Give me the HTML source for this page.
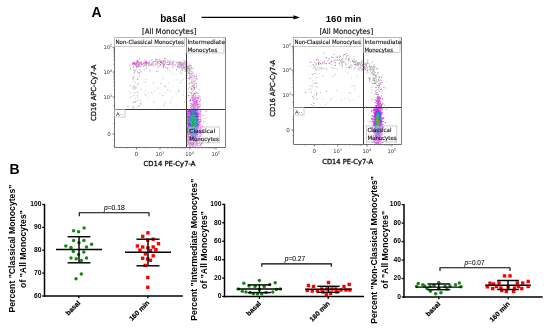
<!DOCTYPE html>
<html><head><meta charset="utf-8"><title>Monocyte subsets</title>
<style>html,body{margin:0;padding:0;background:#fff;} body{width:550px;height:328px;overflow:hidden;} svg{display:block;}</style>
</head><body>
<svg width="550" height="328" viewBox="0 0 550 328">
<rect width="550" height="328" fill="#fff"/>
<text x="91.6" y="17.2" font-size="14" font-weight="bold" text-anchor="start" fill="#000" font-family='"Liberation Sans", Arial, sans-serif' >A</text>
<text x="160.3" y="21.9" font-size="10" font-weight="bold" text-anchor="start" fill="#000" font-family='"Liberation Sans", Arial, sans-serif' textLength="25.4" lengthAdjust="spacingAndGlyphs" >basal</text>
<line x1="201.5" y1="17.4" x2="296" y2="17.4" stroke="#000" stroke-width="1.1" />
<path d="M300,17.4 L293.5,15.2 L293.5,19.6 Z" fill="#000"/>
<text x="325.8" y="21.8" font-size="9.8" font-weight="bold" text-anchor="start" fill="#000" font-family='"Liberation Sans", Arial, sans-serif' textLength="35.6" lengthAdjust="spacingAndGlyphs" >160 min</text>
<text x="141.9" y="33.8" font-size="7.7" font-weight="normal" text-anchor="start" fill="#1a1a1a" font-family='"DejaVu Sans", "Liberation Sans", Arial, sans-serif' textLength="54.5" lengthAdjust="spacingAndGlyphs" stroke="#1a1a1a" stroke-width="0.2">[All Monocytes]</text>
<text x="319.4" y="33.8" font-size="7.7" font-weight="normal" text-anchor="start" fill="#1a1a1a" font-family='"DejaVu Sans", "Liberation Sans", Arial, sans-serif' textLength="53.8" lengthAdjust="spacingAndGlyphs" stroke="#1a1a1a" stroke-width="0.2">[All Monocytes]</text>
<rect x="114.5" y="37.5" width="111.0" height="110.0" fill="#fff" stroke="none" stroke-width="1" />
<path fill="#e698e6" d="M159.3 58.6h1.0v1.0h-1.0zM180.0 62.8h1.0v1.0h-1.0zM169.9 61.5h1.0v1.0h-1.0zM162.5 60.2h1.0v1.0h-1.0zM147.5 61.3h1.0v1.0h-1.0zM155.8 62.4h1.0v1.0h-1.0zM140.7 65.4h1.0v1.0h-1.0zM172.3 63.8h1.0v1.0h-1.0zM167.3 61.8h1.0v1.0h-1.0zM140.7 65.7h1.0v1.0h-1.0zM154.4 61.1h1.0v1.0h-1.0zM178.0 61.5h1.0v1.0h-1.0zM153.0 65.4h1.0v1.0h-1.0zM177.5 63.5h1.0v1.0h-1.0zM151.7 62.0h1.0v1.0h-1.0zM148.5 63.4h1.0v1.0h-1.0zM164.4 62.1h1.0v1.0h-1.0zM190.9 74.4h1.0v1.0h-1.0zM186.6 66.5h1.0v1.0h-1.0zM193.5 77.7h1.0v1.0h-1.0zM191.1 71.1h1.0v1.0h-1.0zM178.3 64.5h1.0v1.0h-1.0zM191.5 71.6h1.0v1.0h-1.0zM177.8 63.8h1.0v1.0h-1.0zM193.9 87.3h1.0v1.0h-1.0zM196.9 108.3h1.0v1.0h-1.0zM192.6 86.4h1.0v1.0h-1.0zM188.0 77.6h1.0v1.0h-1.0zM198.0 106.8h1.0v1.0h-1.0zM179.9 61.2h1.0v1.0h-1.0zM190.5 88.4h1.0v1.0h-1.0zM189.6 76.6h1.0v1.0h-1.0zM194.5 81.3h1.0v1.0h-1.0zM183.2 67.9h1.0v1.0h-1.0zM180.8 65.8h1.0v1.0h-1.0zM188.8 66.4h1.0v1.0h-1.0zM194.5 83.0h1.0v1.0h-1.0zM191.1 88.1h1.0v1.0h-1.0zM193.5 85.6h1.0v1.0h-1.0zM183.4 67.5h1.0v1.0h-1.0z"/>
<path fill="#e2a0e2" d="M160.6 61.7h1.0v1.0h-1.0zM186.8 67.2h1.0v1.0h-1.0zM179.6 66.5h1.0v1.0h-1.0zM136.2 63.7h1.0v1.0h-1.0zM181.2 62.7h1.0v1.0h-1.0zM156.7 63.8h1.0v1.0h-1.0zM184.4 60.5h1.0v1.0h-1.0zM163.9 64.3h1.0v1.0h-1.0zM146.0 66.9h1.0v1.0h-1.0zM145.5 61.1h1.0v1.0h-1.0zM162.6 60.7h1.0v1.0h-1.0zM164.5 60.5h1.0v1.0h-1.0zM163.1 65.6h1.0v1.0h-1.0zM157.4 65.4h1.0v1.0h-1.0zM154.7 63.8h1.0v1.0h-1.0zM157.6 60.8h1.0v1.0h-1.0zM180.3 66.5h1.0v1.0h-1.0zM176.6 62.2h1.0v1.0h-1.0zM181.8 67.6h1.0v1.0h-1.0zM162.7 65.1h1.0v1.0h-1.0zM164.8 62.4h1.0v1.0h-1.0zM185.5 67.0h1.0v1.0h-1.0zM193.3 93.1h1.0v1.0h-1.0zM192.5 79.0h1.0v1.0h-1.0zM191.1 81.9h1.0v1.0h-1.0zM189.1 70.2h1.0v1.0h-1.0zM187.9 65.7h1.0v1.0h-1.0zM195.9 87.5h1.0v1.0h-1.0zM181.1 67.2h1.0v1.0h-1.0zM193.0 94.5h1.0v1.0h-1.0zM178.6 67.0h1.0v1.0h-1.0zM179.6 61.8h1.0v1.0h-1.0zM199.6 96.1h1.0v1.0h-1.0zM182.6 66.5h1.0v1.0h-1.0zM187.9 68.2h1.0v1.0h-1.0zM191.3 86.1h1.0v1.0h-1.0zM178.2 63.7h1.0v1.0h-1.0zM193.3 86.5h1.0v1.0h-1.0zM189.3 75.9h1.0v1.0h-1.0zM188.7 69.5h1.0v1.0h-1.0zM196.0 82.9h1.0v1.0h-1.0zM185.9 75.0h1.0v1.0h-1.0zM189.0 74.7h1.0v1.0h-1.0zM186.0 66.6h1.0v1.0h-1.0zM182.9 59.9h1.0v1.0h-1.0zM188.3 91.7h1.0v1.0h-1.0zM187.3 72.7h1.0v1.0h-1.0zM179.5 67.0h1.0v1.0h-1.0zM192.3 81.9h1.0v1.0h-1.0zM186.0 66.7h1.0v1.0h-1.0zM191.4 92.7h1.0v1.0h-1.0zM195.4 108.6h1.0v1.0h-1.0zM185.2 65.0h1.0v1.0h-1.0z"/>
<path fill="#a0a0a0" d="M137.9 62.8h1.0v1.0h-1.0zM168.3 64.3h1.0v1.0h-1.0zM140.8 63.6h1.0v1.0h-1.0zM157.5 61.2h1.0v1.0h-1.0zM186.9 66.8h1.0v1.0h-1.0zM184.1 66.6h1.0v1.0h-1.0zM165.0 60.6h1.0v1.0h-1.0zM137.5 62.9h1.0v1.0h-1.0zM137.4 61.2h1.0v1.0h-1.0zM151.4 63.0h1.0v1.0h-1.0zM177.1 67.0h1.0v1.0h-1.0zM159.0 60.7h1.0v1.0h-1.0zM148.3 62.1h1.0v1.0h-1.0zM144.7 61.7h1.0v1.0h-1.0zM138.4 65.8h1.0v1.0h-1.0zM145.7 60.4h1.0v1.0h-1.0zM145.0 64.8h1.0v1.0h-1.0zM164.2 63.7h1.0v1.0h-1.0zM168.0 63.9h1.0v1.0h-1.0zM171.6 62.6h1.0v1.0h-1.0zM144.9 61.2h1.0v1.0h-1.0zM160.2 64.4h1.0v1.0h-1.0zM164.5 57.9h1.0v1.0h-1.0zM169.1 62.9h1.0v1.0h-1.0zM133.1 64.4h1.0v1.0h-1.0zM148.0 64.6h1.0v1.0h-1.0zM159.9 63.9h1.0v1.0h-1.0zM137.4 66.3h1.0v1.0h-1.0zM136.0 61.8h1.0v1.0h-1.0zM182.9 61.9h1.0v1.0h-1.0zM185.0 63.7h1.0v1.0h-1.0zM186.1 63.3h1.0v1.0h-1.0zM182.4 63.4h1.0v1.0h-1.0zM144.0 62.2h1.0v1.0h-1.0zM185.9 76.5h1.0v1.0h-1.0zM172.6 62.8h1.0v1.0h-1.0zM187.9 66.4h1.0v1.0h-1.0zM194.0 92.4h1.0v1.0h-1.0zM190.2 105.0h1.0v1.0h-1.0zM192.5 72.6h1.0v1.0h-1.0zM195.8 78.7h1.0v1.0h-1.0zM180.8 64.3h1.0v1.0h-1.0zM181.6 64.6h1.0v1.0h-1.0zM186.9 66.8h1.0v1.0h-1.0zM191.2 111.0h1.0v1.0h-1.0zM195.9 76.1h1.0v1.0h-1.0zM180.5 66.1h1.0v1.0h-1.0zM182.9 64.6h1.0v1.0h-1.0zM194.5 86.9h1.0v1.0h-1.0zM185.6 69.4h1.0v1.0h-1.0zM194.4 103.5h1.0v1.0h-1.0zM192.3 97.0h1.0v1.0h-1.0zM194.3 84.9h1.0v1.0h-1.0zM196.6 96.9h1.0v1.0h-1.0zM173.3 61.3h1.0v1.0h-1.0zM178.9 64.6h1.0v1.0h-1.0zM200.0 105.8h1.0v1.0h-1.0zM193.3 94.6h1.0v1.0h-1.0zM188.2 66.6h1.0v1.0h-1.0zM196.2 113.1h1.0v1.0h-1.0zM194.9 96.5h1.0v1.0h-1.0zM193.2 108.0h1.0v1.0h-1.0zM190.0 64.7h1.0v1.0h-1.0zM185.6 70.8h1.0v1.0h-1.0zM191.0 67.1h1.0v1.0h-1.0zM189.2 87.1h1.0v1.0h-1.0zM191.2 67.1h1.0v1.0h-1.0zM193.7 93.6h1.0v1.0h-1.0zM193.9 77.1h1.0v1.0h-1.0zM193.6 80.3h1.0v1.0h-1.0zM187.2 70.5h1.0v1.0h-1.0zM179.5 66.1h1.0v1.0h-1.0zM179.7 65.8h1.0v1.0h-1.0zM195.9 74.4h1.0v1.0h-1.0zM194.5 103.2h1.0v1.0h-1.0zM186.4 68.5h1.0v1.0h-1.0zM132.5 87.4h1.0v1.0h-1.0zM132.9 69.4h1.0v1.0h-1.0zM130.3 96.6h1.0v1.0h-1.0zM138.2 72.0h1.0v1.0h-1.0zM134.4 70.6h1.0v1.0h-1.0zM138.6 105.1h1.0v1.0h-1.0zM129.8 85.5h1.0v1.0h-1.0z"/>
<path fill="#b5b5b5" d="M166.9 61.3h1.0v1.0h-1.0zM152.3 64.0h1.0v1.0h-1.0zM162.3 61.6h1.0v1.0h-1.0zM143.9 65.4h1.0v1.0h-1.0zM187.0 67.7h1.0v1.0h-1.0zM148.3 64.4h1.0v1.0h-1.0zM147.9 64.2h1.0v1.0h-1.0zM169.6 64.0h1.0v1.0h-1.0zM164.0 64.9h1.0v1.0h-1.0zM156.1 61.9h1.0v1.0h-1.0zM159.9 61.0h1.0v1.0h-1.0zM177.2 64.8h1.0v1.0h-1.0zM158.6 62.8h1.0v1.0h-1.0zM184.8 63.2h1.0v1.0h-1.0zM157.2 58.9h1.0v1.0h-1.0zM179.8 62.6h1.0v1.0h-1.0zM167.3 59.5h1.0v1.0h-1.0zM138.3 64.5h1.0v1.0h-1.0zM181.0 68.3h1.0v1.0h-1.0zM176.1 62.3h1.0v1.0h-1.0zM149.4 60.4h1.0v1.0h-1.0zM168.8 61.2h1.0v1.0h-1.0zM151.8 59.1h1.0v1.0h-1.0zM169.6 61.8h1.0v1.0h-1.0zM146.0 63.2h1.0v1.0h-1.0zM172.9 60.6h1.0v1.0h-1.0zM157.3 62.8h1.0v1.0h-1.0zM178.3 65.0h1.0v1.0h-1.0zM165.2 62.6h1.0v1.0h-1.0zM138.0 64.1h1.0v1.0h-1.0zM183.2 62.9h1.0v1.0h-1.0zM162.6 61.6h1.0v1.0h-1.0zM148.9 64.3h1.0v1.0h-1.0zM150.2 63.8h1.0v1.0h-1.0zM159.4 59.9h1.0v1.0h-1.0zM178.1 61.8h1.0v1.0h-1.0zM185.4 67.7h1.0v1.0h-1.0zM194.4 74.5h1.0v1.0h-1.0zM189.0 83.3h1.0v1.0h-1.0zM196.3 95.4h1.0v1.0h-1.0zM189.5 70.0h1.0v1.0h-1.0zM187.8 68.1h1.0v1.0h-1.0zM191.2 83.1h1.0v1.0h-1.0zM185.6 65.9h1.0v1.0h-1.0zM177.0 65.9h1.0v1.0h-1.0zM197.2 99.4h1.0v1.0h-1.0zM194.9 94.8h1.0v1.0h-1.0zM194.9 107.3h1.0v1.0h-1.0zM183.3 64.2h1.0v1.0h-1.0zM179.0 64.8h1.0v1.0h-1.0zM187.0 68.9h1.0v1.0h-1.0zM186.1 66.3h1.0v1.0h-1.0zM181.0 63.5h1.0v1.0h-1.0zM182.1 65.6h1.0v1.0h-1.0zM182.9 63.3h1.0v1.0h-1.0zM187.4 71.0h1.0v1.0h-1.0zM184.6 70.8h1.0v1.0h-1.0zM192.9 74.9h1.0v1.0h-1.0zM183.3 66.9h1.0v1.0h-1.0zM180.3 65.6h1.0v1.0h-1.0zM184.3 61.2h1.0v1.0h-1.0zM191.0 65.3h1.0v1.0h-1.0zM195.8 100.7h1.0v1.0h-1.0zM193.0 99.5h1.0v1.0h-1.0zM194.0 101.3h1.0v1.0h-1.0zM194.7 98.0h1.0v1.0h-1.0zM182.4 63.8h1.0v1.0h-1.0zM191.9 75.5h1.0v1.0h-1.0zM193.0 87.0h1.0v1.0h-1.0zM192.5 84.8h1.0v1.0h-1.0zM186.5 74.7h1.0v1.0h-1.0zM188.8 69.3h1.0v1.0h-1.0zM181.6 64.5h1.0v1.0h-1.0zM184.5 68.9h1.0v1.0h-1.0zM183.5 65.3h1.0v1.0h-1.0zM138.4 82.9h1.0v1.0h-1.0zM136.8 100.3h1.0v1.0h-1.0zM132.6 105.4h1.0v1.0h-1.0zM133.4 69.2h1.0v1.0h-1.0zM137.0 84.2h1.0v1.0h-1.0zM133.2 94.9h1.0v1.0h-1.0zM134.7 70.2h1.0v1.0h-1.0z"/>
<path fill="#d884d8" d="M135.7 64.4h1.0v1.0h-1.0zM134.4 64.2h1.0v1.0h-1.0zM162.5 62.6h1.0v1.0h-1.0zM162.9 67.5h1.0v1.0h-1.0zM172.8 64.9h1.0v1.0h-1.0zM171.4 61.3h1.0v1.0h-1.0zM137.6 66.4h1.0v1.0h-1.0zM163.1 64.1h1.0v1.0h-1.0zM151.1 64.2h1.0v1.0h-1.0zM149.0 61.8h1.0v1.0h-1.0zM163.2 62.9h1.0v1.0h-1.0zM140.7 63.3h1.0v1.0h-1.0zM140.8 63.0h1.0v1.0h-1.0zM149.6 65.1h1.0v1.0h-1.0zM139.0 58.2h1.0v1.0h-1.0zM184.3 68.8h1.0v1.0h-1.0zM182.5 66.2h1.0v1.0h-1.0zM179.9 62.7h1.0v1.0h-1.0zM137.3 63.3h1.0v1.0h-1.0zM174.6 63.9h1.0v1.0h-1.0zM155.1 61.1h1.0v1.0h-1.0zM173.4 61.9h1.0v1.0h-1.0zM143.7 63.7h1.0v1.0h-1.0zM167.9 61.0h1.0v1.0h-1.0zM160.1 60.2h1.0v1.0h-1.0zM186.0 66.3h1.0v1.0h-1.0zM198.5 105.4h1.0v1.0h-1.0zM191.8 91.0h1.0v1.0h-1.0zM183.7 65.2h1.0v1.0h-1.0zM187.2 66.3h1.0v1.0h-1.0zM189.6 68.9h1.0v1.0h-1.0zM182.9 63.9h1.0v1.0h-1.0zM186.3 66.5h1.0v1.0h-1.0zM186.0 66.3h1.0v1.0h-1.0zM186.3 67.7h1.0v1.0h-1.0zM188.3 67.3h1.0v1.0h-1.0zM183.7 63.1h1.0v1.0h-1.0zM182.1 62.7h1.0v1.0h-1.0zM191.4 75.7h1.0v1.0h-1.0zM192.8 89.7h1.0v1.0h-1.0zM190.0 67.7h1.0v1.0h-1.0zM186.6 65.8h1.0v1.0h-1.0zM188.3 64.7h1.0v1.0h-1.0zM186.0 75.8h1.0v1.0h-1.0zM188.8 83.2h1.0v1.0h-1.0zM195.7 78.1h1.0v1.0h-1.0zM192.5 68.0h1.0v1.0h-1.0zM191.1 92.4h1.0v1.0h-1.0z"/>
<path fill="#8e8e8e" d="M162.9 61.3h1.0v1.0h-1.0zM183.5 66.7h1.0v1.0h-1.0zM135.7 64.2h1.0v1.0h-1.0zM161.0 61.6h1.0v1.0h-1.0zM172.3 63.8h1.0v1.0h-1.0zM180.4 64.6h1.0v1.0h-1.0zM161.7 62.9h1.0v1.0h-1.0zM160.3 62.2h1.0v1.0h-1.0zM155.5 59.8h1.0v1.0h-1.0zM146.0 64.6h1.0v1.0h-1.0zM160.3 64.2h1.0v1.0h-1.0zM167.4 67.9h1.0v1.0h-1.0zM161.4 62.4h1.0v1.0h-1.0zM183.2 64.3h1.0v1.0h-1.0zM132.9 63.1h1.0v1.0h-1.0zM160.1 62.0h1.0v1.0h-1.0zM153.0 61.3h1.0v1.0h-1.0zM155.7 58.5h1.0v1.0h-1.0zM179.1 61.8h1.0v1.0h-1.0zM165.5 66.8h1.0v1.0h-1.0zM163.5 60.6h1.0v1.0h-1.0zM164.2 58.3h1.0v1.0h-1.0zM177.5 65.9h1.0v1.0h-1.0zM158.7 65.6h1.0v1.0h-1.0zM143.2 63.2h1.0v1.0h-1.0zM182.9 63.5h1.0v1.0h-1.0zM166.4 64.0h1.0v1.0h-1.0zM144.5 61.7h1.0v1.0h-1.0zM141.2 63.9h1.0v1.0h-1.0zM144.9 62.8h1.0v1.0h-1.0zM151.3 64.6h1.0v1.0h-1.0zM190.6 92.8h1.0v1.0h-1.0zM189.2 70.4h1.0v1.0h-1.0zM188.7 77.9h1.0v1.0h-1.0zM188.5 68.1h1.0v1.0h-1.0zM193.5 87.4h1.0v1.0h-1.0zM191.4 77.2h1.0v1.0h-1.0zM196.3 100.4h1.0v1.0h-1.0zM189.1 65.8h1.0v1.0h-1.0zM183.8 68.2h1.0v1.0h-1.0zM186.9 69.7h1.0v1.0h-1.0zM193.9 88.8h1.0v1.0h-1.0zM182.4 63.4h1.0v1.0h-1.0zM190.5 77.0h1.0v1.0h-1.0zM186.1 75.0h1.0v1.0h-1.0zM181.8 68.6h1.0v1.0h-1.0zM189.3 76.8h1.0v1.0h-1.0zM196.0 85.8h1.0v1.0h-1.0zM191.6 73.2h1.0v1.0h-1.0zM191.1 88.8h1.0v1.0h-1.0zM188.3 72.1h1.0v1.0h-1.0zM190.2 73.3h1.0v1.0h-1.0zM194.1 92.9h1.0v1.0h-1.0zM187.5 67.7h1.0v1.0h-1.0zM192.1 85.8h1.0v1.0h-1.0zM188.9 73.0h1.0v1.0h-1.0zM191.1 87.8h1.0v1.0h-1.0zM188.9 78.6h1.0v1.0h-1.0zM193.3 103.8h1.0v1.0h-1.0zM196.4 92.1h1.0v1.0h-1.0zM186.3 66.2h1.0v1.0h-1.0zM183.7 64.9h1.0v1.0h-1.0zM181.0 64.4h1.0v1.0h-1.0zM188.8 72.4h1.0v1.0h-1.0zM192.8 94.6h1.0v1.0h-1.0zM185.3 65.6h1.0v1.0h-1.0zM186.5 68.4h1.0v1.0h-1.0zM176.1 69.2h1.0v1.0h-1.0zM189.0 75.5h1.0v1.0h-1.0zM192.6 85.1h1.0v1.0h-1.0zM193.8 83.7h1.0v1.0h-1.0zM133.1 66.5h1.0v1.0h-1.0zM132.9 101.8h1.0v1.0h-1.0zM132.5 78.2h1.0v1.0h-1.0zM133.4 86.3h1.0v1.0h-1.0zM129.8 67.9h1.0v1.0h-1.0zM127.5 106.0h1.0v1.0h-1.0zM133.8 72.3h1.0v1.0h-1.0zM140.3 103.2h1.0v1.0h-1.0zM137.2 78.9h1.0v1.0h-1.0zM138.8 72.6h1.0v1.0h-1.0zM133.2 76.2h1.0v1.0h-1.0zM134.6 101.4h1.0v1.0h-1.0z"/>
<path fill="#eab4ea" d="M175.6 60.8h1.0v1.0h-1.0zM152.9 62.5h1.0v1.0h-1.0zM148.4 63.0h1.0v1.0h-1.0zM157.6 67.0h1.0v1.0h-1.0zM157.1 62.0h1.0v1.0h-1.0zM170.0 62.3h1.0v1.0h-1.0zM155.3 63.3h1.0v1.0h-1.0zM140.8 65.0h1.0v1.0h-1.0zM180.0 63.6h1.0v1.0h-1.0zM134.0 63.0h1.0v1.0h-1.0zM133.8 63.7h1.0v1.0h-1.0zM162.0 62.2h1.0v1.0h-1.0zM183.5 66.1h1.0v1.0h-1.0zM154.8 64.9h1.0v1.0h-1.0zM156.5 63.8h1.0v1.0h-1.0zM177.8 63.6h1.0v1.0h-1.0zM152.8 62.5h1.0v1.0h-1.0zM182.8 64.8h1.0v1.0h-1.0zM166.7 64.1h1.0v1.0h-1.0zM167.2 67.1h1.0v1.0h-1.0zM179.2 65.3h1.0v1.0h-1.0zM182.6 66.3h1.0v1.0h-1.0zM187.4 78.0h1.0v1.0h-1.0zM186.5 62.1h1.0v1.0h-1.0zM192.5 95.6h1.0v1.0h-1.0zM183.0 65.3h1.0v1.0h-1.0zM185.9 58.5h1.0v1.0h-1.0zM197.4 98.1h1.0v1.0h-1.0zM195.6 96.6h1.0v1.0h-1.0zM191.5 85.7h1.0v1.0h-1.0zM186.2 67.8h1.0v1.0h-1.0zM186.4 63.5h1.0v1.0h-1.0zM197.3 105.7h1.0v1.0h-1.0zM194.6 82.7h1.0v1.0h-1.0zM188.7 66.3h1.0v1.0h-1.0zM191.2 75.8h1.0v1.0h-1.0zM193.0 84.7h1.0v1.0h-1.0zM194.1 75.8h1.0v1.0h-1.0zM179.6 65.3h1.0v1.0h-1.0zM187.6 66.9h1.0v1.0h-1.0zM188.3 72.7h1.0v1.0h-1.0zM198.7 104.5h1.0v1.0h-1.0zM177.5 64.8h1.0v1.0h-1.0zM186.8 68.3h1.0v1.0h-1.0z"/>
<path fill="#c4c4c4" d="M136.6 64.4h1.0v1.0h-1.0zM149.1 64.0h1.0v1.0h-1.0zM178.4 67.3h1.0v1.0h-1.0zM176.9 65.1h1.0v1.0h-1.0zM186.7 65.6h1.0v1.0h-1.0zM162.8 62.9h1.0v1.0h-1.0zM152.0 62.3h1.0v1.0h-1.0zM180.8 67.4h1.0v1.0h-1.0zM155.2 59.1h1.0v1.0h-1.0zM161.8 64.3h1.0v1.0h-1.0zM146.9 62.7h1.0v1.0h-1.0zM138.2 62.0h1.0v1.0h-1.0zM139.5 62.7h1.0v1.0h-1.0zM141.6 63.8h1.0v1.0h-1.0zM162.1 60.3h1.0v1.0h-1.0zM144.0 59.8h1.0v1.0h-1.0zM146.8 63.0h1.0v1.0h-1.0zM163.3 61.6h1.0v1.0h-1.0zM163.5 61.3h1.0v1.0h-1.0zM157.4 60.4h1.0v1.0h-1.0zM176.5 62.5h1.0v1.0h-1.0zM179.0 67.7h1.0v1.0h-1.0zM161.6 65.4h1.0v1.0h-1.0zM149.8 63.8h1.0v1.0h-1.0zM179.0 63.2h1.0v1.0h-1.0zM147.7 64.2h1.0v1.0h-1.0zM149.3 64.4h1.0v1.0h-1.0zM184.5 65.7h1.0v1.0h-1.0zM169.0 62.1h1.0v1.0h-1.0zM158.3 63.3h1.0v1.0h-1.0zM183.2 62.7h1.0v1.0h-1.0zM155.2 64.1h1.0v1.0h-1.0zM178.5 63.3h1.0v1.0h-1.0zM144.8 64.2h1.0v1.0h-1.0zM152.5 63.3h1.0v1.0h-1.0zM165.0 62.5h1.0v1.0h-1.0zM190.4 69.8h1.0v1.0h-1.0zM193.2 103.8h1.0v1.0h-1.0zM186.6 68.9h1.0v1.0h-1.0zM191.5 81.1h1.0v1.0h-1.0zM188.8 82.4h1.0v1.0h-1.0zM191.2 107.7h1.0v1.0h-1.0zM179.2 65.5h1.0v1.0h-1.0zM177.1 66.6h1.0v1.0h-1.0zM194.6 80.2h1.0v1.0h-1.0zM187.6 70.2h1.0v1.0h-1.0zM189.4 66.0h1.0v1.0h-1.0zM182.7 64.3h1.0v1.0h-1.0zM181.8 65.4h1.0v1.0h-1.0zM195.3 101.8h1.0v1.0h-1.0zM193.5 98.9h1.0v1.0h-1.0zM186.4 70.5h1.0v1.0h-1.0zM191.0 73.0h1.0v1.0h-1.0zM191.5 80.9h1.0v1.0h-1.0zM197.0 78.6h1.0v1.0h-1.0zM184.1 60.8h1.0v1.0h-1.0zM182.2 65.7h1.0v1.0h-1.0zM184.8 62.0h1.0v1.0h-1.0zM181.7 64.1h1.0v1.0h-1.0zM195.1 76.0h1.0v1.0h-1.0zM184.4 67.8h1.0v1.0h-1.0zM184.0 63.2h1.0v1.0h-1.0zM193.8 109.1h1.0v1.0h-1.0zM190.7 67.8h1.0v1.0h-1.0zM186.1 73.8h1.0v1.0h-1.0zM185.5 66.4h1.0v1.0h-1.0zM180.2 66.2h1.0v1.0h-1.0zM195.4 93.3h1.0v1.0h-1.0zM189.6 72.8h1.0v1.0h-1.0zM192.0 99.5h1.0v1.0h-1.0zM192.8 88.3h1.0v1.0h-1.0zM199.0 89.5h1.0v1.0h-1.0zM181.9 70.2h1.0v1.0h-1.0zM192.8 80.0h1.0v1.0h-1.0zM133.3 88.6h1.0v1.0h-1.0zM136.9 78.4h1.0v1.0h-1.0zM133.6 107.2h1.0v1.0h-1.0zM134.7 92.0h1.0v1.0h-1.0zM138.1 105.9h1.0v1.0h-1.0zM129.0 91.0h1.0v1.0h-1.0zM134.8 97.9h1.0v1.0h-1.0zM130.1 93.2h1.0v1.0h-1.0zM140.3 71.2h1.0v1.0h-1.0zM132.6 80.8h1.0v1.0h-1.0z"/>
<path fill="#d8a8d8" d="M136.7 62.1h1.0v1.0h-1.0zM173.5 67.0h1.0v1.0h-1.0zM170.2 59.5h1.0v1.0h-1.0zM185.9 62.1h1.0v1.0h-1.0zM173.1 62.3h1.0v1.0h-1.0zM143.8 65.0h1.0v1.0h-1.0zM152.2 61.4h1.0v1.0h-1.0zM172.0 63.7h1.0v1.0h-1.0zM174.7 65.3h1.0v1.0h-1.0zM140.1 65.9h1.0v1.0h-1.0zM184.7 62.4h1.0v1.0h-1.0zM136.6 63.9h1.0v1.0h-1.0zM145.6 68.3h1.0v1.0h-1.0zM157.8 62.4h1.0v1.0h-1.0zM137.0 65.8h1.0v1.0h-1.0zM168.9 64.0h1.0v1.0h-1.0zM171.9 66.4h1.0v1.0h-1.0zM151.2 59.7h1.0v1.0h-1.0zM182.2 64.8h1.0v1.0h-1.0zM165.4 62.3h1.0v1.0h-1.0zM183.9 61.9h1.0v1.0h-1.0zM185.8 70.6h1.0v1.0h-1.0zM185.9 77.2h1.0v1.0h-1.0zM190.6 89.3h1.0v1.0h-1.0zM190.2 81.4h1.0v1.0h-1.0zM195.0 91.3h1.0v1.0h-1.0zM188.1 88.5h1.0v1.0h-1.0zM182.2 70.3h1.0v1.0h-1.0zM194.0 100.2h1.0v1.0h-1.0zM190.4 74.4h1.0v1.0h-1.0zM184.8 66.4h1.0v1.0h-1.0zM191.4 73.0h1.0v1.0h-1.0zM188.8 63.6h1.0v1.0h-1.0zM192.2 83.1h1.0v1.0h-1.0zM191.0 79.6h1.0v1.0h-1.0zM189.4 91.6h1.0v1.0h-1.0zM184.8 66.3h1.0v1.0h-1.0zM193.3 81.4h1.0v1.0h-1.0z"/>
<path fill="#efc8ef" d="M149.7 63.8h1.0v1.0h-1.0zM143.4 61.4h1.0v1.0h-1.0zM141.0 65.1h1.0v1.0h-1.0zM183.3 62.6h1.0v1.0h-1.0zM143.6 60.0h1.0v1.0h-1.0zM148.4 63.2h1.0v1.0h-1.0zM164.1 61.2h1.0v1.0h-1.0zM168.8 60.7h1.0v1.0h-1.0zM184.7 65.0h1.0v1.0h-1.0zM134.2 64.0h1.0v1.0h-1.0zM148.5 63.3h1.0v1.0h-1.0zM142.5 63.7h1.0v1.0h-1.0zM164.4 62.7h1.0v1.0h-1.0zM166.1 58.6h1.0v1.0h-1.0zM136.9 64.4h1.0v1.0h-1.0zM153.0 64.0h1.0v1.0h-1.0zM145.2 65.3h1.0v1.0h-1.0zM151.5 62.3h1.0v1.0h-1.0zM145.4 60.7h1.0v1.0h-1.0zM172.8 62.5h1.0v1.0h-1.0zM178.3 65.2h1.0v1.0h-1.0zM191.4 79.6h1.0v1.0h-1.0zM184.3 69.2h1.0v1.0h-1.0zM189.2 75.7h1.0v1.0h-1.0zM183.7 64.7h1.0v1.0h-1.0zM181.9 66.1h1.0v1.0h-1.0zM194.4 76.3h1.0v1.0h-1.0zM191.7 70.4h1.0v1.0h-1.0zM193.8 82.0h1.0v1.0h-1.0zM195.5 86.5h1.0v1.0h-1.0zM190.7 75.5h1.0v1.0h-1.0zM195.0 95.3h1.0v1.0h-1.0zM199.3 110.3h1.0v1.0h-1.0zM186.2 74.0h1.0v1.0h-1.0zM190.9 76.3h1.0v1.0h-1.0zM181.5 62.6h1.0v1.0h-1.0zM184.1 65.3h1.0v1.0h-1.0zM190.8 101.8h1.0v1.0h-1.0zM185.6 69.4h1.0v1.0h-1.0zM194.2 103.6h1.0v1.0h-1.0zM189.1 76.5h1.0v1.0h-1.0zM185.7 70.2h1.0v1.0h-1.0zM191.7 88.1h1.0v1.0h-1.0zM190.3 78.3h1.0v1.0h-1.0zM178.9 63.1h1.0v1.0h-1.0z"/>
<path fill="#d860d8" d="M134.3 64.0h1.0v1.0h-1.0zM140.7 61.6h1.0v1.0h-1.0zM179.2 63.3h1.0v1.0h-1.0zM137.4 59.6h1.0v1.0h-1.0zM135.2 63.2h1.0v1.0h-1.0zM135.5 63.6h1.0v1.0h-1.0zM129.5 64.7h1.0v1.0h-1.0zM132.2 62.5h1.0v1.0h-1.0zM142.9 65.8h1.0v1.0h-1.0zM163.3 65.9h1.0v1.0h-1.0zM180.2 63.7h1.0v1.0h-1.0zM135.5 64.2h1.0v1.0h-1.0zM132.0 62.9h1.0v1.0h-1.0zM135.4 62.6h1.0v1.0h-1.0zM146.2 63.2h1.0v1.0h-1.0zM163.0 66.4h1.0v1.0h-1.0zM145.0 63.3h1.0v1.0h-1.0zM136.6 61.3h1.0v1.0h-1.0zM136.4 60.3h1.0v1.0h-1.0zM136.8 61.1h1.0v1.0h-1.0zM194.9 101.4h1.0v1.0h-1.0zM198.4 109.3h1.0v1.0h-1.0zM194.5 97.3h1.0v1.0h-1.0zM197.8 97.1h1.0v1.0h-1.0zM195.3 101.9h1.0v1.0h-1.0zM197.8 97.7h1.0v1.0h-1.0zM194.4 97.2h1.0v1.0h-1.0zM195.6 103.0h1.0v1.0h-1.0zM193.5 106.4h1.0v1.0h-1.0zM200.0 99.2h1.0v1.0h-1.0zM194.3 109.2h1.0v1.0h-1.0zM197.5 93.3h1.0v1.0h-1.0z"/>
<path fill="#cc55cc" d="M133.9 62.6h1.0v1.0h-1.0zM136.0 66.1h1.0v1.0h-1.0zM137.7 61.4h1.0v1.0h-1.0zM147.7 62.8h1.0v1.0h-1.0zM139.0 64.8h1.0v1.0h-1.0zM134.7 63.3h1.0v1.0h-1.0zM167.5 63.8h1.0v1.0h-1.0zM139.3 62.2h1.0v1.0h-1.0zM139.4 63.6h1.0v1.0h-1.0zM134.1 61.7h1.0v1.0h-1.0zM141.4 63.7h1.0v1.0h-1.0zM141.4 62.8h1.0v1.0h-1.0zM138.2 64.5h1.0v1.0h-1.0zM160.0 61.3h1.0v1.0h-1.0zM135.7 63.1h1.0v1.0h-1.0zM146.0 62.1h1.0v1.0h-1.0zM143.5 62.1h1.0v1.0h-1.0z"/>
<path fill="#e070e0" d="M170.6 63.6h1.0v1.0h-1.0zM156.6 61.7h1.0v1.0h-1.0zM181.2 61.8h1.0v1.0h-1.0zM137.4 65.5h1.0v1.0h-1.0zM163.7 64.0h1.0v1.0h-1.0zM137.0 65.4h1.0v1.0h-1.0zM132.4 62.8h1.0v1.0h-1.0zM134.7 64.2h1.0v1.0h-1.0zM132.1 63.9h1.0v1.0h-1.0zM147.5 62.5h1.0v1.0h-1.0zM145.7 60.5h1.0v1.0h-1.0zM182.6 64.7h1.0v1.0h-1.0zM132.7 62.2h1.0v1.0h-1.0zM132.4 62.8h1.0v1.0h-1.0zM138.2 61.2h1.0v1.0h-1.0zM135.6 62.8h1.0v1.0h-1.0zM139.7 62.3h1.0v1.0h-1.0zM132.7 61.9h1.0v1.0h-1.0z"/>
<path fill="#e050e0" d="M190.0 99.1h1.0v1.0h-1.0zM196.9 104.1h1.0v1.0h-1.0zM194.3 102.3h1.0v1.0h-1.0zM192.1 98.2h1.0v1.0h-1.0zM196.4 103.6h1.0v1.0h-1.0zM194.8 98.4h1.0v1.0h-1.0zM194.3 104.6h1.0v1.0h-1.0zM194.8 100.4h1.0v1.0h-1.0zM192.4 108.7h1.0v1.0h-1.0z"/>
<path fill="#cc44dd" d="M191.9 96.9h1.0v1.0h-1.0zM194.6 103.9h1.0v1.0h-1.0zM197.5 105.6h1.0v1.0h-1.0zM193.2 96.3h1.0v1.0h-1.0zM197.6 111.0h1.0v1.0h-1.0z"/>
<path fill="#c8c8c8" d="M163.6 105.3h1.0v1.0h-1.0zM167.8 82.6h1.0v1.0h-1.0zM180.6 80.1h1.0v1.0h-1.0zM137.5 77.4h1.0v1.0h-1.0zM169.4 70.2h1.0v1.0h-1.0zM171.3 96.6h1.0v1.0h-1.0zM139.6 68.5h1.0v1.0h-1.0zM162.9 104.6h1.0v1.0h-1.0zM134.9 88.4h1.0v1.0h-1.0zM180.0 71.4h1.0v1.0h-1.0zM171.6 71.6h1.0v1.0h-1.0zM157.3 70.7h1.0v1.0h-1.0zM145.2 94.4h1.0v1.0h-1.0zM151.2 91.9h1.0v1.0h-1.0zM137.7 91.6h1.0v1.0h-1.0zM182.3 69.4h1.0v1.0h-1.0zM180.9 69.4h1.0v1.0h-1.0z"/>
<path fill="#bdbdbd" d="M176.9 79.5h1.0v1.0h-1.0zM132.5 107.3h1.0v1.0h-1.0zM149.6 69.8h1.0v1.0h-1.0zM135.6 68.9h1.0v1.0h-1.0zM136.1 67.2h1.0v1.0h-1.0zM139.5 99.8h1.0v1.0h-1.0zM164.3 102.5h1.0v1.0h-1.0zM170.3 102.5h1.0v1.0h-1.0zM178.6 90.7h1.0v1.0h-1.0zM183.9 101.4h1.0v1.0h-1.0zM137.1 95.2h1.0v1.0h-1.0zM169.7 90.5h1.0v1.0h-1.0zM180.5 72.7h1.0v1.0h-1.0zM167.2 89.5h1.0v1.0h-1.0zM149.5 70.8h1.0v1.0h-1.0zM179.7 82.3h1.0v1.0h-1.0zM182.7 78.8h1.0v1.0h-1.0z"/>
<path fill="#dcc4dc" d="M151.6 93.6h1.0v1.0h-1.0zM182.9 94.5h1.0v1.0h-1.0zM134.1 87.2h1.0v1.0h-1.0zM164.2 85.4h1.0v1.0h-1.0zM140.0 89.0h1.0v1.0h-1.0zM173.7 105.3h1.0v1.0h-1.0zM178.1 91.1h1.0v1.0h-1.0zM181.9 72.9h1.0v1.0h-1.0zM173.5 74.3h1.0v1.0h-1.0zM176.4 105.3h1.0v1.0h-1.0zM147.6 97.4h1.0v1.0h-1.0z"/>
<path fill="#d2d2d2" d="M157.3 106.7h1.0v1.0h-1.0zM162.3 78.1h1.0v1.0h-1.0zM166.8 69.7h1.0v1.0h-1.0zM165.1 91.9h1.0v1.0h-1.0zM137.9 82.7h1.0v1.0h-1.0zM175.7 92.4h1.0v1.0h-1.0zM143.8 93.5h1.0v1.0h-1.0zM162.4 76.4h1.0v1.0h-1.0zM141.1 71.6h1.0v1.0h-1.0zM133.1 92.2h1.0v1.0h-1.0zM146.4 78.7h1.0v1.0h-1.0zM145.0 79.2h1.0v1.0h-1.0zM170.8 99.2h1.0v1.0h-1.0zM154.0 90.7h1.0v1.0h-1.0zM148.1 91.9h1.0v1.0h-1.0zM141.1 101.8h1.0v1.0h-1.0zM164.8 69.7h1.0v1.0h-1.0zM145.2 90.0h1.0v1.0h-1.0zM159.6 92.4h1.0v1.0h-1.0z"/>
<path fill="#b0b0b0" d="M160.6 83.0h1.0v1.0h-1.0zM157.5 87.5h1.0v1.0h-1.0zM152.7 82.5h1.0v1.0h-1.0zM162.3 94.7h1.0v1.0h-1.0zM144.9 82.0h1.0v1.0h-1.0zM165.0 86.2h1.0v1.0h-1.0zM153.4 101.6h1.0v1.0h-1.0zM156.2 71.1h1.0v1.0h-1.0zM139.6 69.6h1.0v1.0h-1.0zM177.9 89.7h1.0v1.0h-1.0zM143.8 69.2h1.0v1.0h-1.0z"/>
<path fill="#e0a0e0" d="M131.7 107.6h1.0v1.0h-1.0zM132.9 77.7h1.0v1.0h-1.0zM137.4 72.2h1.0v1.0h-1.0zM136.7 70.8h1.0v1.0h-1.0zM138.9 74.8h1.0v1.0h-1.0zM135.4 86.8h1.0v1.0h-1.0z"/>
<path fill="#d8b0d8" d="M137.0 96.8h1.0v1.0h-1.0zM134.5 84.7h1.0v1.0h-1.0zM135.1 100.8h1.0v1.0h-1.0zM138.6 76.4h1.0v1.0h-1.0zM135.7 106.9h1.0v1.0h-1.0zM135.6 87.2h1.0v1.0h-1.0zM136.9 91.8h1.0v1.0h-1.0zM135.1 82.1h1.0v1.0h-1.0z"/>
<path fill="#4060ff" d="M191.3 131.7h1.1v1.1h-1.1zM192.3 116.5h1.1v1.1h-1.1zM195.0 112.6h1.1v1.1h-1.1zM196.2 125.9h1.1v1.1h-1.1zM193.7 127.0h1.1v1.1h-1.1zM196.0 114.2h1.1v1.1h-1.1zM193.4 113.4h1.1v1.1h-1.1zM194.9 122.2h1.1v1.1h-1.1zM194.6 134.0h1.1v1.1h-1.1zM196.2 127.4h1.1v1.1h-1.1zM190.6 121.4h1.1v1.1h-1.1zM195.8 113.1h1.1v1.1h-1.1zM193.9 115.3h1.1v1.1h-1.1zM195.5 127.0h1.1v1.1h-1.1zM189.3 126.6h1.1v1.1h-1.1zM195.1 124.1h1.1v1.1h-1.1zM188.4 118.7h1.1v1.1h-1.1zM191.0 117.6h1.1v1.1h-1.1zM196.5 123.0h1.1v1.1h-1.1zM191.3 110.4h1.1v1.1h-1.1zM190.8 115.8h1.1v1.1h-1.1zM190.3 119.6h1.1v1.1h-1.1zM193.5 130.4h1.1v1.1h-1.1zM191.5 116.1h1.1v1.1h-1.1zM197.2 117.0h1.1v1.1h-1.1zM191.3 112.7h1.1v1.1h-1.1zM190.6 120.3h1.1v1.1h-1.1zM188.7 121.1h1.1v1.1h-1.1zM188.5 121.4h1.1v1.1h-1.1zM192.8 130.2h1.1v1.1h-1.1zM192.6 110.9h1.1v1.1h-1.1zM196.6 127.5h1.1v1.1h-1.1zM191.6 109.1h1.1v1.1h-1.1zM188.1 122.4h1.1v1.1h-1.1zM194.1 131.5h1.1v1.1h-1.1zM194.9 136.0h1.1v1.1h-1.1zM191.7 129.8h1.1v1.1h-1.1zM193.5 126.6h1.1v1.1h-1.1zM194.9 125.1h1.1v1.1h-1.1zM194.7 121.3h1.1v1.1h-1.1zM192.8 113.4h1.1v1.1h-1.1zM195.2 126.4h1.1v1.1h-1.1zM190.1 123.3h1.1v1.1h-1.1zM191.9 110.8h1.1v1.1h-1.1zM192.9 133.4h1.1v1.1h-1.1zM189.5 127.2h1.1v1.1h-1.1zM191.1 130.6h1.1v1.1h-1.1zM194.7 129.2h1.1v1.1h-1.1zM195.9 129.2h1.1v1.1h-1.1zM195.6 120.7h1.1v1.1h-1.1zM191.0 125.9h1.1v1.1h-1.1zM194.1 131.8h1.1v1.1h-1.1zM191.9 111.6h1.1v1.1h-1.1zM192.4 116.5h1.1v1.1h-1.1zM193.0 135.0h1.1v1.1h-1.1zM196.1 126.5h1.1v1.1h-1.1zM194.2 127.9h1.1v1.1h-1.1zM196.1 124.4h1.1v1.1h-1.1zM190.6 121.3h1.1v1.1h-1.1zM191.0 128.9h1.1v1.1h-1.1zM193.6 129.3h1.1v1.1h-1.1zM193.6 114.5h1.1v1.1h-1.1zM189.3 120.4h1.1v1.1h-1.1zM189.8 123.0h1.1v1.1h-1.1zM193.9 129.0h1.1v1.1h-1.1zM191.4 131.9h1.1v1.1h-1.1zM194.7 124.3h1.1v1.1h-1.1zM189.1 122.5h1.1v1.1h-1.1z"/>
<path fill="#e030e8" d="M187.5 110.6h1.1v1.1h-1.1zM199.3 100.9h1.1v1.1h-1.1zM195.8 133.4h1.1v1.1h-1.1zM191.7 141.7h1.1v1.1h-1.1zM200.3 129.9h1.1v1.1h-1.1zM190.9 140.0h1.1v1.1h-1.1zM192.9 108.5h1.1v1.1h-1.1zM200.2 144.2h1.1v1.1h-1.1zM195.7 104.8h1.1v1.1h-1.1zM193.5 102.2h1.1v1.1h-1.1zM195.0 108.8h1.1v1.1h-1.1zM189.4 139.8h1.1v1.1h-1.1zM188.1 95.1h1.1v1.1h-1.1zM192.9 105.3h1.1v1.1h-1.1zM192.2 99.8h1.1v1.1h-1.1zM191.8 103.9h1.1v1.1h-1.1zM187.1 128.6h1.1v1.1h-1.1zM191.3 97.1h1.1v1.1h-1.1zM192.3 139.5h1.1v1.1h-1.1zM187.0 136.7h1.1v1.1h-1.1zM197.4 117.3h1.1v1.1h-1.1zM191.5 143.8h1.1v1.1h-1.1zM193.9 108.0h1.1v1.1h-1.1zM196.8 134.9h1.1v1.1h-1.1zM197.6 140.1h1.1v1.1h-1.1zM203.5 129.1h1.1v1.1h-1.1zM187.3 126.8h1.1v1.1h-1.1zM199.3 139.0h1.1v1.1h-1.1zM200.0 133.0h1.1v1.1h-1.1zM191.6 94.9h1.1v1.1h-1.1zM187.4 132.2h1.1v1.1h-1.1zM192.0 145.1h1.1v1.1h-1.1zM195.5 142.3h1.1v1.1h-1.1zM196.5 103.8h1.1v1.1h-1.1zM189.1 145.5h1.1v1.1h-1.1zM195.3 138.3h1.1v1.1h-1.1zM187.7 138.7h1.1v1.1h-1.1zM189.7 132.4h1.1v1.1h-1.1zM199.1 121.5h1.1v1.1h-1.1zM194.3 107.1h1.1v1.1h-1.1zM197.1 114.3h1.1v1.1h-1.1zM188.3 118.9h1.1v1.1h-1.1zM187.4 113.7h1.1v1.1h-1.1zM187.2 115.9h1.1v1.1h-1.1zM196.9 113.5h1.1v1.1h-1.1zM188.0 129.5h1.1v1.1h-1.1zM196.0 109.7h1.1v1.1h-1.1zM188.7 141.0h1.1v1.1h-1.1zM199.5 103.4h1.1v1.1h-1.1zM195.7 101.9h1.1v1.1h-1.1zM199.9 118.7h1.1v1.1h-1.1zM187.5 118.2h1.1v1.1h-1.1zM195.5 133.2h1.1v1.1h-1.1zM194.3 100.8h1.1v1.1h-1.1zM194.7 145.6h1.1v1.1h-1.1zM196.7 114.4h1.1v1.1h-1.1zM195.0 134.7h1.1v1.1h-1.1zM189.1 136.9h1.1v1.1h-1.1zM187.8 127.0h1.1v1.1h-1.1zM197.0 106.6h1.1v1.1h-1.1zM190.8 137.1h1.1v1.1h-1.1zM197.1 111.5h1.1v1.1h-1.1zM189.8 142.9h1.1v1.1h-1.1zM187.5 135.0h1.1v1.1h-1.1zM190.2 107.0h1.1v1.1h-1.1zM187.6 114.3h1.1v1.1h-1.1zM192.9 104.5h1.1v1.1h-1.1zM187.4 139.3h1.1v1.1h-1.1zM187.4 122.4h1.1v1.1h-1.1zM198.5 112.8h1.1v1.1h-1.1zM188.1 113.9h1.1v1.1h-1.1zM188.2 140.7h1.1v1.1h-1.1zM196.2 99.7h1.1v1.1h-1.1zM187.2 126.1h1.1v1.1h-1.1zM195.1 106.0h1.1v1.1h-1.1zM188.2 143.2h1.1v1.1h-1.1zM189.2 110.4h1.1v1.1h-1.1zM202.2 131.6h1.1v1.1h-1.1zM200.3 138.0h1.1v1.1h-1.1zM198.2 97.4h1.1v1.1h-1.1zM196.2 132.1h1.1v1.1h-1.1zM187.9 136.5h1.1v1.1h-1.1zM200.1 135.8h1.1v1.1h-1.1zM199.9 116.8h1.1v1.1h-1.1zM198.3 113.1h1.1v1.1h-1.1zM189.8 142.3h1.1v1.1h-1.1zM186.8 114.3h1.1v1.1h-1.1zM198.5 129.8h1.1v1.1h-1.1zM199.9 114.2h1.1v1.1h-1.1zM189.3 100.2h1.1v1.1h-1.1zM195.1 135.7h1.1v1.1h-1.1zM193.3 104.8h1.1v1.1h-1.1zM200.9 142.9h1.1v1.1h-1.1zM197.2 111.0h1.1v1.1h-1.1zM186.8 143.8h1.1v1.1h-1.1zM191.1 142.3h1.1v1.1h-1.1zM196.9 106.5h1.1v1.1h-1.1zM187.0 121.3h1.1v1.1h-1.1zM193.6 98.3h1.1v1.1h-1.1zM197.6 127.5h1.1v1.1h-1.1zM194.5 103.3h1.1v1.1h-1.1zM193.0 106.6h1.1v1.1h-1.1zM196.9 134.0h1.1v1.1h-1.1zM197.7 115.4h1.1v1.1h-1.1zM195.4 139.2h1.1v1.1h-1.1zM194.7 138.9h1.1v1.1h-1.1zM198.0 139.0h1.1v1.1h-1.1z"/>
<path fill="#e050e8" d="M199.0 121.3h1.1v1.1h-1.1zM195.3 101.1h1.1v1.1h-1.1zM190.3 137.4h1.1v1.1h-1.1zM190.8 105.5h1.1v1.1h-1.1zM187.0 127.4h1.1v1.1h-1.1zM195.1 109.1h1.1v1.1h-1.1zM203.1 121.4h1.1v1.1h-1.1zM194.2 135.0h1.1v1.1h-1.1zM193.9 137.4h1.1v1.1h-1.1zM197.4 108.9h1.1v1.1h-1.1zM189.9 100.1h1.1v1.1h-1.1zM202.0 125.7h1.1v1.1h-1.1zM198.9 121.8h1.1v1.1h-1.1zM195.9 137.3h1.1v1.1h-1.1zM187.3 109.3h1.1v1.1h-1.1zM189.0 112.6h1.1v1.1h-1.1zM187.0 133.0h1.1v1.1h-1.1zM188.1 130.2h1.1v1.1h-1.1zM190.6 144.0h1.1v1.1h-1.1zM187.9 134.3h1.1v1.1h-1.1zM187.5 111.0h1.1v1.1h-1.1zM200.2 110.4h1.1v1.1h-1.1zM193.4 136.6h1.1v1.1h-1.1zM196.4 131.9h1.1v1.1h-1.1zM200.5 124.5h1.1v1.1h-1.1zM187.3 141.1h1.1v1.1h-1.1zM194.3 139.1h1.1v1.1h-1.1zM200.2 126.8h1.1v1.1h-1.1zM191.2 142.1h1.1v1.1h-1.1zM196.3 111.6h1.1v1.1h-1.1zM188.4 111.7h1.1v1.1h-1.1zM187.8 119.8h1.1v1.1h-1.1zM186.9 118.5h1.1v1.1h-1.1zM194.9 104.5h1.1v1.1h-1.1zM195.9 141.1h1.1v1.1h-1.1zM187.8 109.0h1.1v1.1h-1.1zM200.6 138.2h1.1v1.1h-1.1zM197.1 135.4h1.1v1.1h-1.1zM188.9 137.8h1.1v1.1h-1.1zM193.3 103.0h1.1v1.1h-1.1zM199.6 131.6h1.1v1.1h-1.1zM196.8 135.3h1.1v1.1h-1.1zM188.8 139.7h1.1v1.1h-1.1zM193.6 105.7h1.1v1.1h-1.1zM192.7 105.1h1.1v1.1h-1.1zM192.9 138.6h1.1v1.1h-1.1zM191.7 105.3h1.1v1.1h-1.1zM198.1 122.3h1.1v1.1h-1.1zM193.9 106.9h1.1v1.1h-1.1zM194.8 140.5h1.1v1.1h-1.1zM190.6 137.9h1.1v1.1h-1.1zM191.8 144.6h1.1v1.1h-1.1zM194.5 138.7h1.1v1.1h-1.1zM197.7 132.5h1.1v1.1h-1.1zM191.7 138.1h1.1v1.1h-1.1zM187.0 132.2h1.1v1.1h-1.1zM200.5 130.8h1.1v1.1h-1.1zM199.8 128.3h1.1v1.1h-1.1zM198.7 128.4h1.1v1.1h-1.1zM193.2 138.7h1.1v1.1h-1.1zM198.9 121.7h1.1v1.1h-1.1zM189.4 142.7h1.1v1.1h-1.1zM187.9 136.3h1.1v1.1h-1.1zM188.1 126.6h1.1v1.1h-1.1zM197.3 124.5h1.1v1.1h-1.1zM188.1 111.3h1.1v1.1h-1.1zM197.6 136.2h1.1v1.1h-1.1zM193.0 107.6h1.1v1.1h-1.1zM200.3 126.5h1.1v1.1h-1.1zM187.0 126.5h1.1v1.1h-1.1zM197.3 108.1h1.1v1.1h-1.1zM195.1 135.1h1.1v1.1h-1.1zM189.5 144.2h1.1v1.1h-1.1zM189.1 133.1h1.1v1.1h-1.1zM194.1 141.0h1.1v1.1h-1.1zM188.2 113.1h1.1v1.1h-1.1zM196.9 110.3h1.1v1.1h-1.1zM202.2 128.7h1.1v1.1h-1.1zM189.4 145.9h1.1v1.1h-1.1zM190.9 144.7h1.1v1.1h-1.1zM197.2 142.5h1.1v1.1h-1.1zM187.9 134.5h1.1v1.1h-1.1zM199.6 129.7h1.1v1.1h-1.1zM187.0 112.3h1.1v1.1h-1.1zM190.6 110.4h1.1v1.1h-1.1zM192.7 144.0h1.1v1.1h-1.1zM192.4 99.6h1.1v1.1h-1.1zM195.1 98.1h1.1v1.1h-1.1zM199.6 114.1h1.1v1.1h-1.1zM196.4 100.3h1.1v1.1h-1.1z"/>
<path fill="#d000d8" d="M196.1 113.1h1.1v1.1h-1.1zM190.5 134.4h1.1v1.1h-1.1zM189.4 137.2h1.1v1.1h-1.1zM198.4 118.9h1.1v1.1h-1.1zM189.4 131.4h1.1v1.1h-1.1zM195.9 115.4h1.1v1.1h-1.1zM190.6 136.3h1.1v1.1h-1.1zM196.5 114.5h1.1v1.1h-1.1zM188.4 122.3h1.1v1.1h-1.1zM188.7 121.0h1.1v1.1h-1.1zM196.2 124.3h1.1v1.1h-1.1zM192.6 110.4h1.1v1.1h-1.1zM195.9 120.4h1.1v1.1h-1.1zM187.5 126.8h1.1v1.1h-1.1zM188.0 116.2h1.1v1.1h-1.1zM188.7 128.4h1.1v1.1h-1.1zM188.2 121.8h1.1v1.1h-1.1zM187.8 122.2h1.1v1.1h-1.1zM190.6 129.7h1.1v1.1h-1.1zM196.0 114.7h1.1v1.1h-1.1zM189.4 129.8h1.1v1.1h-1.1zM195.5 109.1h1.1v1.1h-1.1zM189.7 114.5h1.1v1.1h-1.1zM192.3 136.1h1.1v1.1h-1.1zM192.1 134.4h1.1v1.1h-1.1zM190.9 112.5h1.1v1.1h-1.1zM189.7 111.0h1.1v1.1h-1.1zM198.8 132.5h1.1v1.1h-1.1zM195.5 127.9h1.1v1.1h-1.1zM194.4 111.2h1.1v1.1h-1.1zM195.0 133.9h1.1v1.1h-1.1zM194.4 137.1h1.1v1.1h-1.1zM196.8 117.3h1.1v1.1h-1.1zM191.7 111.7h1.1v1.1h-1.1zM195.9 128.3h1.1v1.1h-1.1zM188.2 123.1h1.1v1.1h-1.1zM197.1 115.7h1.1v1.1h-1.1zM190.7 134.9h1.1v1.1h-1.1zM190.4 114.2h1.1v1.1h-1.1zM196.4 113.2h1.1v1.1h-1.1zM192.8 109.7h1.1v1.1h-1.1zM186.9 117.0h1.1v1.1h-1.1zM189.0 117.0h1.1v1.1h-1.1zM189.0 130.1h1.1v1.1h-1.1zM190.1 113.5h1.1v1.1h-1.1zM189.7 114.2h1.1v1.1h-1.1zM191.8 135.9h1.1v1.1h-1.1zM196.9 117.8h1.1v1.1h-1.1zM189.0 133.3h1.1v1.1h-1.1zM193.3 109.8h1.1v1.1h-1.1zM190.3 132.4h1.1v1.1h-1.1zM195.4 114.3h1.1v1.1h-1.1zM188.5 128.8h1.1v1.1h-1.1zM190.0 131.1h1.1v1.1h-1.1zM189.7 113.9h1.1v1.1h-1.1zM196.8 131.0h1.1v1.1h-1.1zM191.4 133.7h1.1v1.1h-1.1z"/>
<path fill="#b8b8b8" d="M190.0 143.4h1.1v1.1h-1.1zM194.4 107.2h1.1v1.1h-1.1zM187.7 121.1h1.1v1.1h-1.1zM187.0 135.9h1.1v1.1h-1.1zM192.8 145.0h1.1v1.1h-1.1zM199.1 121.3h1.1v1.1h-1.1zM195.5 142.9h1.1v1.1h-1.1zM192.1 103.5h1.1v1.1h-1.1zM196.4 131.9h1.1v1.1h-1.1zM199.0 124.8h1.1v1.1h-1.1zM191.7 106.5h1.1v1.1h-1.1zM201.4 115.4h1.1v1.1h-1.1zM196.6 135.5h1.1v1.1h-1.1zM189.6 144.2h1.1v1.1h-1.1zM199.6 110.9h1.1v1.1h-1.1zM188.8 136.7h1.1v1.1h-1.1zM193.1 143.7h1.1v1.1h-1.1zM191.2 108.8h1.1v1.1h-1.1zM187.8 122.9h1.1v1.1h-1.1zM187.3 136.9h1.1v1.1h-1.1zM186.9 115.9h1.1v1.1h-1.1zM187.3 126.4h1.1v1.1h-1.1zM194.5 138.1h1.1v1.1h-1.1zM199.9 132.5h1.1v1.1h-1.1zM200.2 121.5h1.1v1.1h-1.1zM187.0 125.9h1.1v1.1h-1.1zM191.0 144.2h1.1v1.1h-1.1zM188.9 143.5h1.1v1.1h-1.1zM196.3 144.0h1.1v1.1h-1.1zM187.1 116.8h1.1v1.1h-1.1zM189.0 146.0h1.1v1.1h-1.1zM188.6 110.1h1.1v1.1h-1.1zM197.0 132.8h1.1v1.1h-1.1zM187.6 117.2h1.1v1.1h-1.1zM187.9 127.8h1.1v1.1h-1.1zM187.0 133.5h1.1v1.1h-1.1zM194.6 139.5h1.1v1.1h-1.1zM187.2 117.9h1.1v1.1h-1.1zM188.1 109.3h1.1v1.1h-1.1zM190.6 135.4h1.1v1.1h-1.1zM198.5 133.6h1.1v1.1h-1.1zM197.1 101.7h1.1v1.1h-1.1zM190.8 143.2h1.1v1.1h-1.1zM192.7 139.4h1.1v1.1h-1.1zM188.1 142.0h1.1v1.1h-1.1zM188.8 138.9h1.1v1.1h-1.1zM188.1 117.0h1.1v1.1h-1.1zM200.2 111.2h1.1v1.1h-1.1zM188.0 132.9h1.1v1.1h-1.1zM192.7 105.3h1.1v1.1h-1.1zM194.0 141.2h1.1v1.1h-1.1zM191.6 95.3h1.1v1.1h-1.1zM189.0 110.6h1.1v1.1h-1.1zM194.7 135.0h1.1v1.1h-1.1zM196.7 102.8h1.1v1.1h-1.1zM194.8 109.2h1.1v1.1h-1.1zM193.8 138.7h1.1v1.1h-1.1zM188.9 141.0h1.1v1.1h-1.1zM203.3 137.8h1.1v1.1h-1.1zM198.0 107.5h1.1v1.1h-1.1zM194.4 143.9h1.1v1.1h-1.1zM204.4 117.8h1.1v1.1h-1.1zM188.7 141.5h1.1v1.1h-1.1zM188.7 129.2h1.1v1.1h-1.1zM200.0 110.3h1.1v1.1h-1.1zM188.1 113.3h1.1v1.1h-1.1zM190.7 140.4h1.1v1.1h-1.1zM197.5 107.9h1.1v1.1h-1.1zM192.2 108.1h1.1v1.1h-1.1zM190.6 137.1h1.1v1.1h-1.1zM196.7 132.7h1.1v1.1h-1.1zM196.1 142.6h1.1v1.1h-1.1zM198.5 124.9h1.1v1.1h-1.1zM192.3 135.5h1.1v1.1h-1.1zM189.7 132.9h1.1v1.1h-1.1zM198.7 129.4h1.1v1.1h-1.1zM193.9 104.5h1.1v1.1h-1.1zM200.3 145.1h1.1v1.1h-1.1zM194.1 104.2h1.1v1.1h-1.1zM200.7 119.9h1.1v1.1h-1.1zM194.0 98.8h1.1v1.1h-1.1zM192.5 139.1h1.1v1.1h-1.1zM200.0 120.4h1.1v1.1h-1.1zM194.9 96.8h1.1v1.1h-1.1zM187.2 120.5h1.1v1.1h-1.1zM189.8 103.0h1.1v1.1h-1.1zM192.2 142.9h1.1v1.1h-1.1zM192.4 140.7h1.1v1.1h-1.1zM194.1 139.9h1.1v1.1h-1.1zM200.9 127.4h1.1v1.1h-1.1zM187.5 130.5h1.1v1.1h-1.1zM193.8 108.2h1.1v1.1h-1.1zM192.2 146.0h1.1v1.1h-1.1zM188.4 126.5h1.1v1.1h-1.1zM193.3 97.3h1.1v1.1h-1.1zM187.4 130.9h1.1v1.1h-1.1zM201.4 113.4h1.1v1.1h-1.1zM189.7 136.5h1.1v1.1h-1.1zM196.9 141.1h1.1v1.1h-1.1zM197.0 139.3h1.1v1.1h-1.1zM199.5 135.6h1.1v1.1h-1.1zM189.4 138.3h1.1v1.1h-1.1zM189.9 135.8h1.1v1.1h-1.1z"/>
<path fill="#d8a0dc" d="M193.8 140.2h1.1v1.1h-1.1zM194.5 105.6h1.1v1.1h-1.1zM195.4 108.5h1.1v1.1h-1.1zM187.5 125.9h1.1v1.1h-1.1zM199.1 141.0h1.1v1.1h-1.1zM195.1 95.0h1.1v1.1h-1.1zM186.9 121.2h1.1v1.1h-1.1zM200.0 144.6h1.1v1.1h-1.1zM187.4 144.4h1.1v1.1h-1.1zM195.4 108.4h1.1v1.1h-1.1zM194.9 102.7h1.1v1.1h-1.1zM186.9 139.9h1.1v1.1h-1.1zM187.7 134.2h1.1v1.1h-1.1zM194.8 106.3h1.1v1.1h-1.1zM199.9 114.2h1.1v1.1h-1.1zM195.3 133.4h1.1v1.1h-1.1zM192.7 107.2h1.1v1.1h-1.1zM193.6 138.5h1.1v1.1h-1.1zM187.8 137.5h1.1v1.1h-1.1zM186.8 128.8h1.1v1.1h-1.1zM187.4 112.8h1.1v1.1h-1.1zM187.2 121.3h1.1v1.1h-1.1zM198.7 138.8h1.1v1.1h-1.1zM186.9 131.1h1.1v1.1h-1.1zM187.9 131.5h1.1v1.1h-1.1zM186.9 111.4h1.1v1.1h-1.1zM199.3 113.1h1.1v1.1h-1.1zM192.3 136.8h1.1v1.1h-1.1zM198.4 140.4h1.1v1.1h-1.1zM197.1 107.5h1.1v1.1h-1.1zM191.1 107.8h1.1v1.1h-1.1zM187.1 122.2h1.1v1.1h-1.1zM188.8 137.6h1.1v1.1h-1.1zM197.0 139.3h1.1v1.1h-1.1zM200.0 134.1h1.1v1.1h-1.1zM192.3 99.9h1.1v1.1h-1.1zM187.0 112.5h1.1v1.1h-1.1zM194.2 100.7h1.1v1.1h-1.1zM187.6 114.7h1.1v1.1h-1.1zM199.4 111.8h1.1v1.1h-1.1zM187.4 121.5h1.1v1.1h-1.1zM188.5 126.6h1.1v1.1h-1.1zM198.7 145.0h1.1v1.1h-1.1zM195.6 137.2h1.1v1.1h-1.1zM192.4 107.3h1.1v1.1h-1.1zM190.9 138.8h1.1v1.1h-1.1zM197.8 124.1h1.1v1.1h-1.1zM195.8 143.1h1.1v1.1h-1.1zM197.7 133.6h1.1v1.1h-1.1zM191.0 103.2h1.1v1.1h-1.1zM193.1 95.7h1.1v1.1h-1.1zM197.4 145.3h1.1v1.1h-1.1zM196.2 107.4h1.1v1.1h-1.1zM194.9 146.3h1.1v1.1h-1.1zM187.2 113.2h1.1v1.1h-1.1zM188.2 138.5h1.1v1.1h-1.1zM193.0 141.4h1.1v1.1h-1.1zM194.2 98.5h1.1v1.1h-1.1zM193.9 105.1h1.1v1.1h-1.1zM197.5 139.9h1.1v1.1h-1.1zM187.6 138.1h1.1v1.1h-1.1zM195.9 143.4h1.1v1.1h-1.1zM196.7 111.2h1.1v1.1h-1.1zM203.1 114.9h1.1v1.1h-1.1zM189.2 144.1h1.1v1.1h-1.1zM200.6 136.2h1.1v1.1h-1.1zM190.5 138.6h1.1v1.1h-1.1zM199.1 142.2h1.1v1.1h-1.1zM197.9 133.0h1.1v1.1h-1.1zM200.7 132.4h1.1v1.1h-1.1zM196.3 142.6h1.1v1.1h-1.1zM200.5 132.1h1.1v1.1h-1.1zM190.6 138.8h1.1v1.1h-1.1zM187.6 118.1h1.1v1.1h-1.1zM188.1 114.4h1.1v1.1h-1.1zM194.8 136.9h1.1v1.1h-1.1zM186.8 127.5h1.1v1.1h-1.1zM194.9 107.6h1.1v1.1h-1.1zM198.2 110.3h1.1v1.1h-1.1zM187.1 140.3h1.1v1.1h-1.1zM197.5 122.5h1.1v1.1h-1.1zM192.1 97.0h1.1v1.1h-1.1zM189.1 131.1h1.1v1.1h-1.1zM186.8 134.9h1.1v1.1h-1.1zM194.2 98.4h1.1v1.1h-1.1zM202.7 140.3h1.1v1.1h-1.1zM190.5 134.7h1.1v1.1h-1.1zM186.8 123.8h1.1v1.1h-1.1zM188.1 121.2h1.1v1.1h-1.1zM195.2 93.0h1.1v1.1h-1.1zM198.9 106.8h1.1v1.1h-1.1zM187.2 120.6h1.1v1.1h-1.1zM188.4 130.6h1.1v1.1h-1.1zM196.7 109.7h1.1v1.1h-1.1zM194.8 97.3h1.1v1.1h-1.1zM187.5 135.3h1.1v1.1h-1.1zM199.8 116.8h1.1v1.1h-1.1z"/>
<path fill="#20b040" d="M192.8 119.9h1.1v1.1h-1.1zM192.1 125.9h1.1v1.1h-1.1zM192.9 122.8h1.1v1.1h-1.1zM193.5 121.5h1.1v1.1h-1.1zM193.6 124.0h1.1v1.1h-1.1zM193.9 119.9h1.1v1.1h-1.1zM194.2 117.1h1.1v1.1h-1.1zM194.3 124.8h1.1v1.1h-1.1zM191.4 124.1h1.1v1.1h-1.1zM192.9 119.8h1.1v1.1h-1.1zM193.7 124.7h1.1v1.1h-1.1zM192.9 116.8h1.1v1.1h-1.1zM191.7 123.7h1.1v1.1h-1.1zM193.5 122.0h1.1v1.1h-1.1zM193.5 119.5h1.1v1.1h-1.1zM191.7 120.1h1.1v1.1h-1.1zM191.0 118.1h1.1v1.1h-1.1zM194.8 125.1h1.1v1.1h-1.1zM192.8 121.3h1.1v1.1h-1.1zM192.7 117.4h1.1v1.1h-1.1zM192.4 119.1h1.1v1.1h-1.1zM194.4 127.8h1.1v1.1h-1.1zM194.1 123.6h1.1v1.1h-1.1zM193.7 122.3h1.1v1.1h-1.1zM193.9 121.4h1.1v1.1h-1.1zM191.1 121.5h1.1v1.1h-1.1zM193.2 119.3h1.1v1.1h-1.1zM194.7 121.3h1.1v1.1h-1.1zM191.2 117.3h1.1v1.1h-1.1zM194.7 121.2h1.1v1.1h-1.1zM194.4 123.4h1.1v1.1h-1.1zM193.1 122.8h1.1v1.1h-1.1zM194.4 122.9h1.1v1.1h-1.1zM193.7 125.6h1.1v1.1h-1.1zM193.0 119.6h1.1v1.1h-1.1zM192.6 122.1h1.1v1.1h-1.1zM191.8 115.9h1.1v1.1h-1.1zM192.0 118.7h1.1v1.1h-1.1zM193.2 120.6h1.1v1.1h-1.1zM193.5 120.1h1.1v1.1h-1.1zM194.5 123.5h1.1v1.1h-1.1zM192.1 123.9h1.1v1.1h-1.1zM192.3 122.3h1.1v1.1h-1.1zM191.7 124.2h1.1v1.1h-1.1zM191.2 123.4h1.1v1.1h-1.1zM193.7 118.7h1.1v1.1h-1.1zM192.3 121.5h1.1v1.1h-1.1zM192.6 122.6h1.1v1.1h-1.1zM192.4 122.3h1.1v1.1h-1.1zM192.1 118.9h1.1v1.1h-1.1zM191.4 128.2h1.1v1.1h-1.1z"/>
<path fill="#d020e0" d="M187.9 126.6h1.1v1.1h-1.1zM194.8 131.3h1.1v1.1h-1.1zM190.0 131.6h1.1v1.1h-1.1zM194.2 118.7h1.1v1.1h-1.1zM192.7 113.7h1.1v1.1h-1.1zM194.0 110.1h1.1v1.1h-1.1zM189.0 131.6h1.1v1.1h-1.1zM190.2 114.9h1.1v1.1h-1.1zM193.7 126.5h1.1v1.1h-1.1zM188.7 119.5h1.1v1.1h-1.1zM195.0 124.4h1.1v1.1h-1.1zM192.4 110.2h1.1v1.1h-1.1zM195.8 123.8h1.1v1.1h-1.1zM196.2 123.3h1.1v1.1h-1.1zM194.0 117.4h1.1v1.1h-1.1zM196.2 122.9h1.1v1.1h-1.1zM193.7 130.3h1.1v1.1h-1.1zM193.2 134.5h1.1v1.1h-1.1zM194.9 122.4h1.1v1.1h-1.1zM196.8 127.1h1.1v1.1h-1.1zM191.0 116.6h1.1v1.1h-1.1zM193.0 112.0h1.1v1.1h-1.1zM195.0 128.3h1.1v1.1h-1.1zM195.5 121.4h1.1v1.1h-1.1zM189.2 128.8h1.1v1.1h-1.1zM193.0 113.2h1.1v1.1h-1.1zM195.5 119.2h1.1v1.1h-1.1zM191.5 115.2h1.1v1.1h-1.1zM191.6 126.6h1.1v1.1h-1.1zM192.8 112.1h1.1v1.1h-1.1zM190.9 121.5h1.1v1.1h-1.1zM195.4 119.5h1.1v1.1h-1.1zM193.6 134.0h1.1v1.1h-1.1zM194.8 118.9h1.1v1.1h-1.1zM192.7 115.4h1.1v1.1h-1.1zM195.7 122.2h1.1v1.1h-1.1zM191.2 116.3h1.1v1.1h-1.1zM194.8 115.7h1.1v1.1h-1.1zM195.4 122.7h1.1v1.1h-1.1zM193.6 114.5h1.1v1.1h-1.1zM193.0 115.7h1.1v1.1h-1.1zM192.4 128.9h1.1v1.1h-1.1zM189.2 132.3h1.1v1.1h-1.1zM191.2 126.4h1.1v1.1h-1.1zM192.9 128.3h1.1v1.1h-1.1zM194.3 129.4h1.1v1.1h-1.1zM191.9 116.5h1.1v1.1h-1.1zM191.6 129.4h1.1v1.1h-1.1zM195.8 130.1h1.1v1.1h-1.1zM190.6 127.4h1.1v1.1h-1.1zM188.7 120.7h1.1v1.1h-1.1zM196.2 121.2h1.1v1.1h-1.1zM194.0 132.5h1.1v1.1h-1.1zM195.8 126.1h1.1v1.1h-1.1zM193.9 117.9h1.1v1.1h-1.1zM195.5 118.8h1.1v1.1h-1.1zM190.2 120.5h1.1v1.1h-1.1zM194.9 123.7h1.1v1.1h-1.1zM190.4 130.8h1.1v1.1h-1.1zM191.1 127.8h1.1v1.1h-1.1zM195.0 117.1h1.1v1.1h-1.1zM193.9 129.1h1.1v1.1h-1.1zM196.3 123.4h1.1v1.1h-1.1zM194.4 128.9h1.1v1.1h-1.1zM197.2 121.1h1.1v1.1h-1.1zM191.0 120.7h1.1v1.1h-1.1zM190.4 119.6h1.1v1.1h-1.1zM193.4 130.3h1.1v1.1h-1.1zM191.1 128.5h1.1v1.1h-1.1zM190.0 121.9h1.1v1.1h-1.1z"/>
<path fill="#f020f0" d="M195.1 130.4h1.1v1.1h-1.1zM189.6 125.8h1.1v1.1h-1.1zM196.0 130.1h1.1v1.1h-1.1zM194.1 111.8h1.1v1.1h-1.1zM190.5 134.5h1.1v1.1h-1.1zM197.0 129.1h1.1v1.1h-1.1zM189.4 110.4h1.1v1.1h-1.1zM190.2 109.3h1.1v1.1h-1.1zM197.2 112.0h1.1v1.1h-1.1zM192.6 134.1h1.1v1.1h-1.1zM194.4 132.3h1.1v1.1h-1.1zM194.9 136.0h1.1v1.1h-1.1zM187.5 126.0h1.1v1.1h-1.1zM192.6 111.4h1.1v1.1h-1.1zM188.2 116.6h1.1v1.1h-1.1zM194.4 110.6h1.1v1.1h-1.1zM198.1 127.1h1.1v1.1h-1.1zM196.5 128.7h1.1v1.1h-1.1zM192.8 110.6h1.1v1.1h-1.1zM195.1 135.8h1.1v1.1h-1.1zM187.7 132.7h1.1v1.1h-1.1zM187.5 109.3h1.1v1.1h-1.1zM190.2 136.1h1.1v1.1h-1.1zM194.0 132.4h1.1v1.1h-1.1zM195.6 133.9h1.1v1.1h-1.1zM186.9 111.1h1.1v1.1h-1.1zM193.8 111.2h1.1v1.1h-1.1zM188.8 133.5h1.1v1.1h-1.1zM191.8 142.0h1.1v1.1h-1.1zM195.6 132.7h1.1v1.1h-1.1zM187.7 123.6h1.1v1.1h-1.1zM189.4 111.8h1.1v1.1h-1.1zM197.0 117.1h1.1v1.1h-1.1zM197.6 120.3h1.1v1.1h-1.1zM197.2 112.4h1.1v1.1h-1.1zM189.0 116.0h1.1v1.1h-1.1zM191.8 134.3h1.1v1.1h-1.1zM189.2 129.6h1.1v1.1h-1.1zM187.9 116.8h1.1v1.1h-1.1z"/>
<path fill="#18a838" d="M192.2 116.4h1.1v1.1h-1.1zM191.0 122.3h1.1v1.1h-1.1zM191.7 118.8h1.1v1.1h-1.1zM192.9 117.3h1.1v1.1h-1.1zM191.2 120.6h1.1v1.1h-1.1zM193.4 117.6h1.1v1.1h-1.1zM192.9 125.0h1.1v1.1h-1.1zM193.5 123.7h1.1v1.1h-1.1zM193.0 122.1h1.1v1.1h-1.1zM193.4 122.5h1.1v1.1h-1.1zM192.1 118.9h1.1v1.1h-1.1zM193.3 119.9h1.1v1.1h-1.1zM192.6 122.7h1.1v1.1h-1.1zM193.3 119.9h1.1v1.1h-1.1zM193.0 125.6h1.1v1.1h-1.1zM194.3 123.6h1.1v1.1h-1.1zM193.3 117.1h1.1v1.1h-1.1zM192.5 129.0h1.1v1.1h-1.1zM192.3 123.2h1.1v1.1h-1.1zM191.5 125.9h1.1v1.1h-1.1zM191.5 123.1h1.1v1.1h-1.1zM191.3 120.8h1.1v1.1h-1.1z"/>
<path fill="#7040f0" d="M190.7 113.8h1.1v1.1h-1.1zM193.4 133.1h1.1v1.1h-1.1zM191.7 113.9h1.1v1.1h-1.1zM192.9 131.2h1.1v1.1h-1.1zM191.3 112.2h1.1v1.1h-1.1zM191.0 126.8h1.1v1.1h-1.1zM194.7 126.8h1.1v1.1h-1.1zM193.1 129.8h1.1v1.1h-1.1zM189.9 116.1h1.1v1.1h-1.1zM194.1 130.0h1.1v1.1h-1.1zM192.6 114.6h1.1v1.1h-1.1zM190.1 122.3h1.1v1.1h-1.1zM195.8 131.0h1.1v1.1h-1.1zM193.7 128.2h1.1v1.1h-1.1zM191.3 112.1h1.1v1.1h-1.1zM195.1 119.3h1.1v1.1h-1.1zM191.0 115.1h1.1v1.1h-1.1zM193.1 115.1h1.1v1.1h-1.1zM196.5 119.9h1.1v1.1h-1.1zM194.8 115.2h1.1v1.1h-1.1zM193.2 127.1h1.1v1.1h-1.1zM193.0 132.8h1.1v1.1h-1.1zM193.4 129.9h1.1v1.1h-1.1zM189.7 127.8h1.1v1.1h-1.1zM192.3 128.2h1.1v1.1h-1.1zM191.8 131.6h1.1v1.1h-1.1zM194.6 130.1h1.1v1.1h-1.1zM193.2 130.2h1.1v1.1h-1.1zM190.0 117.6h1.1v1.1h-1.1zM196.2 121.6h1.1v1.1h-1.1zM194.3 112.7h1.1v1.1h-1.1zM189.1 125.4h1.1v1.1h-1.1zM194.7 124.4h1.1v1.1h-1.1zM195.6 122.1h1.1v1.1h-1.1zM192.0 114.4h1.1v1.1h-1.1zM190.1 114.2h1.1v1.1h-1.1zM188.5 123.2h1.1v1.1h-1.1zM194.3 130.9h1.1v1.1h-1.1zM195.5 119.0h1.1v1.1h-1.1zM192.9 114.1h1.1v1.1h-1.1zM189.9 116.8h1.1v1.1h-1.1zM192.5 111.6h1.1v1.1h-1.1zM194.9 117.4h1.1v1.1h-1.1zM190.3 115.8h1.1v1.1h-1.1zM196.8 116.5h1.1v1.1h-1.1zM196.4 123.2h1.1v1.1h-1.1z"/>
<path fill="#ff30ff" d="M189.4 113.0h1.1v1.1h-1.1zM193.4 137.1h1.1v1.1h-1.1zM195.6 132.0h1.1v1.1h-1.1zM196.4 113.7h1.1v1.1h-1.1zM197.5 124.4h1.1v1.1h-1.1zM192.9 132.9h1.1v1.1h-1.1zM199.3 114.4h1.1v1.1h-1.1zM189.9 142.6h1.1v1.1h-1.1zM196.5 113.5h1.1v1.1h-1.1zM190.1 133.1h1.1v1.1h-1.1zM192.0 135.9h1.1v1.1h-1.1zM196.7 117.7h1.1v1.1h-1.1zM189.6 109.4h1.1v1.1h-1.1zM197.5 125.9h1.1v1.1h-1.1zM197.7 126.6h1.1v1.1h-1.1zM197.0 124.2h1.1v1.1h-1.1zM188.6 120.1h1.1v1.1h-1.1zM195.3 130.8h1.1v1.1h-1.1zM189.0 126.2h1.1v1.1h-1.1zM188.8 118.1h1.1v1.1h-1.1zM188.2 120.6h1.1v1.1h-1.1zM189.8 110.5h1.1v1.1h-1.1zM192.6 134.6h1.1v1.1h-1.1zM191.8 112.2h1.1v1.1h-1.1zM195.7 129.0h1.1v1.1h-1.1zM194.5 135.0h1.1v1.1h-1.1zM187.1 115.6h1.1v1.1h-1.1zM189.5 111.7h1.1v1.1h-1.1zM197.6 127.9h1.1v1.1h-1.1zM189.7 130.1h1.1v1.1h-1.1zM192.9 111.5h1.1v1.1h-1.1zM187.9 128.7h1.1v1.1h-1.1zM196.8 129.3h1.1v1.1h-1.1zM192.2 109.8h1.1v1.1h-1.1zM196.3 127.0h1.1v1.1h-1.1zM188.7 115.6h1.1v1.1h-1.1zM191.8 133.8h1.1v1.1h-1.1zM193.9 110.8h1.1v1.1h-1.1zM189.1 132.4h1.1v1.1h-1.1zM186.9 125.7h1.1v1.1h-1.1zM188.0 115.0h1.1v1.1h-1.1zM198.1 127.2h1.1v1.1h-1.1zM188.4 120.2h1.1v1.1h-1.1zM194.2 110.7h1.1v1.1h-1.1zM192.4 109.3h1.1v1.1h-1.1zM191.0 131.4h1.1v1.1h-1.1zM188.0 125.8h1.1v1.1h-1.1zM189.4 109.5h1.1v1.1h-1.1zM195.6 125.2h1.1v1.1h-1.1zM197.9 129.6h1.1v1.1h-1.1zM193.1 136.7h1.1v1.1h-1.1zM189.0 132.1h1.1v1.1h-1.1zM188.3 112.2h1.1v1.1h-1.1z"/>
<path fill="#30a860" d="M193.9 128.0h1.1v1.1h-1.1zM195.1 120.9h1.1v1.1h-1.1zM192.3 125.4h1.1v1.1h-1.1zM194.6 120.8h1.1v1.1h-1.1zM193.9 120.1h1.1v1.1h-1.1zM191.9 118.4h1.1v1.1h-1.1zM193.1 120.3h1.1v1.1h-1.1zM194.1 125.8h1.1v1.1h-1.1zM191.9 120.2h1.1v1.1h-1.1zM193.7 124.7h1.1v1.1h-1.1zM191.8 126.6h1.1v1.1h-1.1zM194.5 118.9h1.1v1.1h-1.1zM192.9 126.8h1.1v1.1h-1.1zM193.3 123.9h1.1v1.1h-1.1zM191.5 123.8h1.1v1.1h-1.1zM192.6 117.5h1.1v1.1h-1.1zM194.3 125.2h1.1v1.1h-1.1zM191.1 122.7h1.1v1.1h-1.1zM194.2 121.9h1.1v1.1h-1.1zM194.4 117.7h1.1v1.1h-1.1zM191.0 121.4h1.1v1.1h-1.1z"/>
<path fill="#f080f0" d="M191.3 143.9h1.1v1.1h-1.1zM197.1 111.1h1.1v1.1h-1.1zM202.8 141.0h1.1v1.1h-1.1zM189.3 136.2h1.1v1.1h-1.1zM191.6 104.8h1.1v1.1h-1.1zM201.9 143.2h1.1v1.1h-1.1zM197.7 113.8h1.1v1.1h-1.1zM194.6 141.2h1.1v1.1h-1.1zM199.0 135.3h1.1v1.1h-1.1zM187.7 126.7h1.1v1.1h-1.1zM187.7 126.4h1.1v1.1h-1.1zM198.4 143.1h1.1v1.1h-1.1zM188.1 129.7h1.1v1.1h-1.1zM187.4 141.6h1.1v1.1h-1.1zM194.2 106.8h1.1v1.1h-1.1zM192.1 144.4h1.1v1.1h-1.1zM199.8 135.1h1.1v1.1h-1.1zM201.3 132.2h1.1v1.1h-1.1zM189.1 136.6h1.1v1.1h-1.1zM196.8 131.5h1.1v1.1h-1.1zM187.9 133.3h1.1v1.1h-1.1zM193.4 107.6h1.1v1.1h-1.1zM193.7 141.7h1.1v1.1h-1.1zM196.7 144.7h1.1v1.1h-1.1zM195.4 138.1h1.1v1.1h-1.1zM197.8 114.2h1.1v1.1h-1.1zM188.4 134.0h1.1v1.1h-1.1zM188.0 141.7h1.1v1.1h-1.1zM190.6 134.5h1.1v1.1h-1.1zM200.9 127.1h1.1v1.1h-1.1zM197.8 103.8h1.1v1.1h-1.1zM187.5 132.9h1.1v1.1h-1.1zM187.1 113.2h1.1v1.1h-1.1zM206.7 138.9h1.1v1.1h-1.1zM186.9 120.8h1.1v1.1h-1.1zM198.9 118.6h1.1v1.1h-1.1zM197.3 135.7h1.1v1.1h-1.1zM194.4 104.6h1.1v1.1h-1.1zM188.2 138.7h1.1v1.1h-1.1zM187.4 118.4h1.1v1.1h-1.1zM195.6 105.1h1.1v1.1h-1.1zM196.7 142.2h1.1v1.1h-1.1zM187.9 129.3h1.1v1.1h-1.1zM188.1 133.0h1.1v1.1h-1.1zM189.3 133.1h1.1v1.1h-1.1zM199.1 136.1h1.1v1.1h-1.1zM191.1 145.0h1.1v1.1h-1.1zM192.4 96.2h1.1v1.1h-1.1zM197.3 136.4h1.1v1.1h-1.1zM191.4 99.5h1.1v1.1h-1.1zM190.4 138.8h1.1v1.1h-1.1zM188.0 128.2h1.1v1.1h-1.1zM186.8 126.2h1.1v1.1h-1.1zM192.7 141.0h1.1v1.1h-1.1zM188.5 131.5h1.1v1.1h-1.1zM201.5 118.5h1.1v1.1h-1.1zM195.5 104.1h1.1v1.1h-1.1zM187.7 136.3h1.1v1.1h-1.1zM198.8 114.4h1.1v1.1h-1.1zM194.7 99.8h1.1v1.1h-1.1zM198.3 111.7h1.1v1.1h-1.1zM196.0 132.4h1.1v1.1h-1.1zM196.4 98.0h1.1v1.1h-1.1zM193.7 101.1h1.1v1.1h-1.1zM198.3 127.3h1.1v1.1h-1.1zM205.5 110.8h1.1v1.1h-1.1zM190.4 141.0h1.1v1.1h-1.1zM192.8 108.6h1.1v1.1h-1.1zM198.4 95.3h1.1v1.1h-1.1zM198.7 125.2h1.1v1.1h-1.1zM200.8 134.1h1.1v1.1h-1.1zM186.9 123.6h1.1v1.1h-1.1zM195.7 144.5h1.1v1.1h-1.1zM187.3 123.5h1.1v1.1h-1.1zM198.6 123.0h1.1v1.1h-1.1zM187.5 121.5h1.1v1.1h-1.1zM190.2 138.6h1.1v1.1h-1.1zM190.2 139.1h1.1v1.1h-1.1zM186.8 134.9h1.1v1.1h-1.1zM200.4 111.4h1.1v1.1h-1.1zM187.0 134.1h1.1v1.1h-1.1zM195.7 136.7h1.1v1.1h-1.1zM199.5 132.7h1.1v1.1h-1.1zM194.0 104.0h1.1v1.1h-1.1zM192.8 101.1h1.1v1.1h-1.1zM189.5 112.4h1.1v1.1h-1.1zM198.3 106.0h1.1v1.1h-1.1zM196.5 139.2h1.1v1.1h-1.1zM190.4 103.3h1.1v1.1h-1.1zM187.1 129.9h1.1v1.1h-1.1zM187.0 131.2h1.1v1.1h-1.1zM191.5 138.9h1.1v1.1h-1.1zM192.7 102.5h1.1v1.1h-1.1zM187.2 144.0h1.1v1.1h-1.1z"/>
<path fill="#5050f0" d="M194.3 135.5h1.1v1.1h-1.1zM194.4 130.9h1.1v1.1h-1.1zM196.9 131.2h1.1v1.1h-1.1zM191.8 132.7h1.1v1.1h-1.1zM187.4 113.1h1.1v1.1h-1.1zM195.4 111.9h1.1v1.1h-1.1zM192.0 136.6h1.1v1.1h-1.1zM198.0 131.0h1.1v1.1h-1.1zM196.7 123.5h1.1v1.1h-1.1zM189.7 110.6h1.1v1.1h-1.1zM195.8 127.8h1.1v1.1h-1.1zM191.6 133.2h1.1v1.1h-1.1zM197.2 133.5h1.1v1.1h-1.1zM193.4 136.4h1.1v1.1h-1.1zM196.3 130.3h1.1v1.1h-1.1zM196.2 116.7h1.1v1.1h-1.1zM192.7 109.3h1.1v1.1h-1.1zM190.9 134.8h1.1v1.1h-1.1zM191.9 132.2h1.1v1.1h-1.1zM195.4 110.1h1.1v1.1h-1.1zM189.3 120.9h1.1v1.1h-1.1zM190.4 132.4h1.1v1.1h-1.1zM197.0 117.9h1.1v1.1h-1.1zM194.7 112.9h1.1v1.1h-1.1zM194.7 110.3h1.1v1.1h-1.1zM194.8 110.8h1.1v1.1h-1.1zM194.1 112.9h1.1v1.1h-1.1zM195.6 131.3h1.1v1.1h-1.1zM188.0 119.8h1.1v1.1h-1.1zM194.5 136.0h1.1v1.1h-1.1zM195.6 140.0h1.1v1.1h-1.1zM195.1 110.4h1.1v1.1h-1.1zM195.6 116.0h1.1v1.1h-1.1zM188.7 129.1h1.1v1.1h-1.1zM192.4 135.2h1.1v1.1h-1.1zM194.2 136.7h1.1v1.1h-1.1zM187.6 129.6h1.1v1.1h-1.1zM192.8 135.7h1.1v1.1h-1.1zM196.4 129.9h1.1v1.1h-1.1zM188.8 131.9h1.1v1.1h-1.1zM188.4 123.6h1.1v1.1h-1.1zM194.5 132.7h1.1v1.1h-1.1zM196.9 124.2h1.1v1.1h-1.1zM190.2 110.8h1.1v1.1h-1.1zM190.3 137.2h1.1v1.1h-1.1zM194.7 134.6h1.1v1.1h-1.1zM189.0 109.7h1.1v1.1h-1.1zM195.0 130.5h1.1v1.1h-1.1zM197.2 113.0h1.1v1.1h-1.1zM192.4 133.2h1.1v1.1h-1.1zM195.8 113.6h1.1v1.1h-1.1zM196.2 114.4h1.1v1.1h-1.1zM189.0 130.0h1.1v1.1h-1.1zM189.1 126.2h1.1v1.1h-1.1zM189.0 131.9h1.1v1.1h-1.1zM192.7 139.5h1.1v1.1h-1.1zM188.4 109.3h1.1v1.1h-1.1zM193.9 138.7h1.1v1.1h-1.1zM188.5 133.1h1.1v1.1h-1.1zM190.8 135.0h1.1v1.1h-1.1zM192.0 137.3h1.1v1.1h-1.1z"/>
<path fill="#e010e0" d="M197.1 127.1h1.1v1.1h-1.1zM195.7 112.8h1.1v1.1h-1.1zM193.4 132.6h1.1v1.1h-1.1zM193.2 132.5h1.1v1.1h-1.1zM194.4 132.4h1.1v1.1h-1.1zM188.7 129.4h1.1v1.1h-1.1zM196.9 130.5h1.1v1.1h-1.1zM191.8 134.9h1.1v1.1h-1.1zM191.4 110.7h1.1v1.1h-1.1zM189.9 138.6h1.1v1.1h-1.1zM188.9 133.6h1.1v1.1h-1.1zM195.4 136.5h1.1v1.1h-1.1zM197.9 124.2h1.1v1.1h-1.1zM189.4 118.8h1.1v1.1h-1.1zM187.6 130.4h1.1v1.1h-1.1zM197.8 118.9h1.1v1.1h-1.1zM193.7 109.1h1.1v1.1h-1.1zM196.6 115.5h1.1v1.1h-1.1zM188.4 120.0h1.1v1.1h-1.1zM190.3 132.6h1.1v1.1h-1.1zM188.8 122.4h1.1v1.1h-1.1zM196.5 126.6h1.1v1.1h-1.1zM191.1 134.1h1.1v1.1h-1.1zM193.1 142.8h1.1v1.1h-1.1zM190.4 129.8h1.1v1.1h-1.1zM193.0 135.1h1.1v1.1h-1.1zM195.0 137.5h1.1v1.1h-1.1zM193.9 112.3h1.1v1.1h-1.1zM189.7 113.4h1.1v1.1h-1.1zM193.6 134.3h1.1v1.1h-1.1zM187.0 116.7h1.1v1.1h-1.1zM199.3 123.4h1.1v1.1h-1.1zM195.1 134.7h1.1v1.1h-1.1zM187.0 122.5h1.1v1.1h-1.1zM195.0 111.6h1.1v1.1h-1.1zM194.3 132.6h1.1v1.1h-1.1zM195.9 115.2h1.1v1.1h-1.1zM196.9 117.0h1.1v1.1h-1.1zM189.2 135.8h1.1v1.1h-1.1zM196.8 126.6h1.1v1.1h-1.1zM193.3 133.2h1.1v1.1h-1.1zM188.8 117.5h1.1v1.1h-1.1zM188.6 110.0h1.1v1.1h-1.1zM191.3 111.1h1.1v1.1h-1.1zM190.3 111.0h1.1v1.1h-1.1zM191.8 132.4h1.1v1.1h-1.1zM196.3 129.4h1.1v1.1h-1.1zM190.3 131.4h1.1v1.1h-1.1zM188.8 117.2h1.1v1.1h-1.1zM196.6 118.3h1.1v1.1h-1.1zM189.6 120.1h1.1v1.1h-1.1zM189.3 119.3h1.1v1.1h-1.1zM197.0 119.7h1.1v1.1h-1.1zM191.4 131.9h1.1v1.1h-1.1zM196.9 123.6h1.1v1.1h-1.1zM195.2 132.0h1.1v1.1h-1.1zM190.4 128.5h1.1v1.1h-1.1zM190.7 134.6h1.1v1.1h-1.1zM190.0 133.5h1.1v1.1h-1.1zM192.9 137.3h1.1v1.1h-1.1zM188.2 124.2h1.1v1.1h-1.1zM189.3 138.8h1.1v1.1h-1.1zM195.0 110.7h1.1v1.1h-1.1zM197.3 126.6h1.1v1.1h-1.1zM188.2 125.5h1.1v1.1h-1.1zM192.2 112.2h1.1v1.1h-1.1zM190.6 130.9h1.1v1.1h-1.1zM189.7 114.7h1.1v1.1h-1.1zM197.0 117.2h1.1v1.1h-1.1zM188.9 122.1h1.1v1.1h-1.1zM194.8 130.6h1.1v1.1h-1.1zM187.5 128.7h1.1v1.1h-1.1zM190.5 135.5h1.1v1.1h-1.1zM191.9 112.5h1.1v1.1h-1.1zM196.2 117.9h1.1v1.1h-1.1zM195.8 133.0h1.1v1.1h-1.1zM198.3 116.0h1.1v1.1h-1.1zM195.3 131.1h1.1v1.1h-1.1zM199.5 120.8h1.1v1.1h-1.1zM188.6 137.5h1.1v1.1h-1.1zM188.6 120.2h1.1v1.1h-1.1zM192.1 136.9h1.1v1.1h-1.1zM191.7 138.4h1.1v1.1h-1.1zM189.3 125.4h1.1v1.1h-1.1zM189.4 129.7h1.1v1.1h-1.1zM190.6 128.7h1.1v1.1h-1.1zM196.2 118.4h1.1v1.1h-1.1zM189.4 129.7h1.1v1.1h-1.1zM189.5 109.3h1.1v1.1h-1.1zM191.6 138.2h1.1v1.1h-1.1zM187.7 125.0h1.1v1.1h-1.1zM192.5 111.2h1.1v1.1h-1.1zM193.9 113.5h1.1v1.1h-1.1zM191.9 110.8h1.1v1.1h-1.1zM188.9 132.4h1.1v1.1h-1.1zM196.7 113.3h1.1v1.1h-1.1zM192.8 139.9h1.1v1.1h-1.1zM195.7 131.8h1.1v1.1h-1.1zM188.3 133.1h1.1v1.1h-1.1z"/>
<path fill="#2090e0" d="M192.1 130.7h1.1v1.1h-1.1zM190.6 119.8h1.1v1.1h-1.1zM192.5 136.3h1.1v1.1h-1.1zM193.4 128.4h1.1v1.1h-1.1zM194.8 118.1h1.1v1.1h-1.1zM191.0 124.1h1.1v1.1h-1.1zM192.1 128.2h1.1v1.1h-1.1zM190.6 114.0h1.1v1.1h-1.1zM195.9 122.2h1.1v1.1h-1.1zM189.8 124.3h1.1v1.1h-1.1zM193.1 115.8h1.1v1.1h-1.1zM193.3 114.4h1.1v1.1h-1.1zM194.1 109.9h1.1v1.1h-1.1zM189.6 128.4h1.1v1.1h-1.1zM189.1 122.0h1.1v1.1h-1.1zM192.5 127.6h1.1v1.1h-1.1zM189.7 122.2h1.1v1.1h-1.1zM190.9 128.2h1.1v1.1h-1.1zM194.6 112.6h1.1v1.1h-1.1zM195.4 125.8h1.1v1.1h-1.1zM194.9 116.7h1.1v1.1h-1.1zM190.4 121.8h1.1v1.1h-1.1zM193.8 133.4h1.1v1.1h-1.1zM195.0 122.9h1.1v1.1h-1.1zM194.9 119.6h1.1v1.1h-1.1zM190.1 127.1h1.1v1.1h-1.1zM189.5 129.5h1.1v1.1h-1.1zM195.6 120.7h1.1v1.1h-1.1zM192.1 131.2h1.1v1.1h-1.1zM192.2 129.2h1.1v1.1h-1.1zM189.6 116.4h1.1v1.1h-1.1zM190.4 123.2h1.1v1.1h-1.1zM190.7 116.5h1.1v1.1h-1.1zM194.7 124.5h1.1v1.1h-1.1zM193.2 112.6h1.1v1.1h-1.1zM190.7 128.6h1.1v1.1h-1.1zM193.4 110.0h1.1v1.1h-1.1zM191.7 110.6h1.1v1.1h-1.1zM194.5 128.6h1.1v1.1h-1.1zM190.4 115.1h1.1v1.1h-1.1zM190.4 127.1h1.1v1.1h-1.1zM190.6 126.5h1.1v1.1h-1.1zM189.6 112.9h1.1v1.1h-1.1zM195.5 118.4h1.1v1.1h-1.1zM195.1 119.5h1.1v1.1h-1.1zM189.3 131.6h1.1v1.1h-1.1zM189.3 118.3h1.1v1.1h-1.1zM189.6 125.4h1.1v1.1h-1.1zM190.4 127.7h1.1v1.1h-1.1zM190.4 119.2h1.1v1.1h-1.1zM196.2 129.1h1.1v1.1h-1.1zM195.8 130.5h1.1v1.1h-1.1zM194.9 115.5h1.1v1.1h-1.1zM193.9 131.9h1.1v1.1h-1.1zM193.5 117.0h1.1v1.1h-1.1zM192.3 128.2h1.1v1.1h-1.1zM194.7 113.3h1.1v1.1h-1.1z"/>
<path fill="#10b8c8" d="M190.6 124.8h1.1v1.1h-1.1zM195.3 126.0h1.1v1.1h-1.1zM195.6 123.7h1.1v1.1h-1.1zM190.3 130.4h1.1v1.1h-1.1zM195.2 120.1h1.1v1.1h-1.1zM191.0 115.5h1.1v1.1h-1.1zM195.1 121.3h1.1v1.1h-1.1zM195.5 114.5h1.1v1.1h-1.1zM192.3 111.7h1.1v1.1h-1.1zM196.5 120.8h1.1v1.1h-1.1zM195.3 111.5h1.1v1.1h-1.1zM197.4 127.4h1.1v1.1h-1.1zM191.8 128.4h1.1v1.1h-1.1zM196.0 123.9h1.1v1.1h-1.1zM192.7 112.1h1.1v1.1h-1.1zM194.3 132.3h1.1v1.1h-1.1zM190.2 132.5h1.1v1.1h-1.1zM190.3 116.2h1.1v1.1h-1.1zM195.3 132.6h1.1v1.1h-1.1zM195.4 114.1h1.1v1.1h-1.1zM195.8 116.2h1.1v1.1h-1.1zM191.0 118.0h1.1v1.1h-1.1zM194.7 118.6h1.1v1.1h-1.1zM196.3 121.3h1.1v1.1h-1.1zM190.5 122.4h1.1v1.1h-1.1zM188.7 116.2h1.1v1.1h-1.1zM194.9 118.5h1.1v1.1h-1.1zM189.6 123.8h1.1v1.1h-1.1zM193.7 114.7h1.1v1.1h-1.1zM196.3 113.3h1.1v1.1h-1.1zM188.8 124.0h1.1v1.1h-1.1zM192.0 131.4h1.1v1.1h-1.1zM191.6 113.9h1.1v1.1h-1.1zM193.6 134.4h1.1v1.1h-1.1zM194.3 115.0h1.1v1.1h-1.1zM194.2 136.1h1.1v1.1h-1.1zM192.6 130.1h1.1v1.1h-1.1zM191.0 110.8h1.1v1.1h-1.1zM189.2 121.4h1.1v1.1h-1.1zM190.3 121.4h1.1v1.1h-1.1zM195.9 122.7h1.1v1.1h-1.1zM191.2 125.3h1.1v1.1h-1.1zM195.6 117.0h1.1v1.1h-1.1zM194.8 128.7h1.1v1.1h-1.1zM195.2 123.8h1.1v1.1h-1.1z"/>
<path fill="#a030f0" d="M188.8 124.2h1.1v1.1h-1.1zM195.7 109.6h1.1v1.1h-1.1zM192.7 134.2h1.1v1.1h-1.1zM196.5 116.8h1.1v1.1h-1.1zM188.7 122.8h1.1v1.1h-1.1zM188.0 126.8h1.1v1.1h-1.1zM196.9 115.5h1.1v1.1h-1.1zM187.4 131.8h1.1v1.1h-1.1zM188.0 119.7h1.1v1.1h-1.1zM187.7 127.3h1.1v1.1h-1.1zM190.9 137.2h1.1v1.1h-1.1zM189.4 119.8h1.1v1.1h-1.1zM196.4 126.8h1.1v1.1h-1.1zM194.0 132.7h1.1v1.1h-1.1zM188.0 111.0h1.1v1.1h-1.1zM188.6 125.3h1.1v1.1h-1.1zM187.1 119.4h1.1v1.1h-1.1zM190.8 130.8h1.1v1.1h-1.1zM190.3 115.2h1.1v1.1h-1.1zM188.6 116.8h1.1v1.1h-1.1zM195.7 117.1h1.1v1.1h-1.1zM193.1 132.6h1.1v1.1h-1.1zM194.9 115.6h1.1v1.1h-1.1zM193.8 113.1h1.1v1.1h-1.1zM187.3 128.3h1.1v1.1h-1.1zM196.4 133.8h1.1v1.1h-1.1zM195.4 131.0h1.1v1.1h-1.1zM187.9 119.6h1.1v1.1h-1.1zM196.6 120.9h1.1v1.1h-1.1zM193.9 136.1h1.1v1.1h-1.1zM196.7 117.5h1.1v1.1h-1.1zM189.6 120.2h1.1v1.1h-1.1zM189.5 124.7h1.1v1.1h-1.1zM188.0 123.7h1.1v1.1h-1.1zM193.4 131.8h1.1v1.1h-1.1zM187.3 130.8h1.1v1.1h-1.1zM191.2 134.6h1.1v1.1h-1.1zM188.9 119.6h1.1v1.1h-1.1zM196.0 115.9h1.1v1.1h-1.1zM194.6 112.0h1.1v1.1h-1.1zM195.1 135.6h1.1v1.1h-1.1zM197.1 119.5h1.1v1.1h-1.1zM196.2 109.8h1.1v1.1h-1.1zM190.0 127.8h1.1v1.1h-1.1zM190.3 133.8h1.1v1.1h-1.1z"/>
<path fill="#c09020" d="M191.5 122.9h1.1v1.1h-1.1zM191.6 116.3h1.1v1.1h-1.1zM193.6 129.1h1.1v1.1h-1.1zM192.6 122.9h1.1v1.1h-1.1zM193.1 124.0h1.1v1.1h-1.1zM190.1 122.9h1.1v1.1h-1.1zM192.0 117.7h1.1v1.1h-1.1zM190.7 119.7h1.1v1.1h-1.1zM191.4 120.1h1.1v1.1h-1.1zM192.3 126.5h1.1v1.1h-1.1zM192.7 121.3h1.1v1.1h-1.1zM192.4 121.0h1.1v1.1h-1.1zM193.9 124.2h1.1v1.1h-1.1zM194.1 117.7h1.1v1.1h-1.1zM191.4 122.4h1.1v1.1h-1.1zM194.4 121.8h1.1v1.1h-1.1zM193.2 121.1h1.1v1.1h-1.1zM194.0 124.4h1.1v1.1h-1.1zM193.5 118.0h1.1v1.1h-1.1zM192.2 123.6h1.1v1.1h-1.1zM194.4 119.7h1.1v1.1h-1.1zM192.7 122.9h1.1v1.1h-1.1zM193.8 114.5h1.1v1.1h-1.1zM193.1 123.0h1.1v1.1h-1.1zM192.5 118.1h1.1v1.1h-1.1zM190.8 124.8h1.1v1.1h-1.1zM191.3 115.1h1.1v1.1h-1.1zM194.4 119.7h1.1v1.1h-1.1zM193.3 119.9h1.1v1.1h-1.1z"/>
<path fill="#10a030" d="M194.3 116.0h1.1v1.1h-1.1zM191.9 116.5h1.1v1.1h-1.1zM192.7 119.9h1.1v1.1h-1.1zM192.3 123.7h1.1v1.1h-1.1zM194.5 120.5h1.1v1.1h-1.1zM191.9 128.4h1.1v1.1h-1.1zM193.3 126.0h1.1v1.1h-1.1zM194.2 124.3h1.1v1.1h-1.1zM194.5 123.5h1.1v1.1h-1.1zM191.3 122.0h1.1v1.1h-1.1zM193.3 125.2h1.1v1.1h-1.1zM192.9 125.3h1.1v1.1h-1.1zM191.4 122.8h1.1v1.1h-1.1zM192.9 127.3h1.1v1.1h-1.1zM193.8 118.4h1.1v1.1h-1.1zM191.2 116.4h1.1v1.1h-1.1zM191.8 120.3h1.1v1.1h-1.1zM190.7 121.3h1.1v1.1h-1.1zM193.0 127.2h1.1v1.1h-1.1zM192.9 122.8h1.1v1.1h-1.1zM192.6 125.7h1.1v1.1h-1.1zM192.9 121.5h1.1v1.1h-1.1zM191.1 122.4h1.1v1.1h-1.1zM192.5 124.3h1.1v1.1h-1.1zM192.5 123.7h1.1v1.1h-1.1zM191.0 120.4h1.1v1.1h-1.1zM193.7 119.4h1.1v1.1h-1.1zM191.9 126.3h1.1v1.1h-1.1zM193.3 126.7h1.1v1.1h-1.1zM193.9 122.3h1.1v1.1h-1.1zM192.2 119.4h1.1v1.1h-1.1zM192.4 128.1h1.1v1.1h-1.1zM193.9 118.8h1.1v1.1h-1.1zM193.0 128.8h1.1v1.1h-1.1zM190.9 125.8h1.1v1.1h-1.1zM191.5 125.1h1.1v1.1h-1.1zM194.7 120.2h1.1v1.1h-1.1zM193.3 123.5h1.1v1.1h-1.1z"/>
<path fill="#10a860" d="M189.6 121.0h1.1v1.1h-1.1zM194.9 129.9h1.1v1.1h-1.1zM189.8 125.6h1.1v1.1h-1.1zM197.3 120.3h1.1v1.1h-1.1zM193.7 117.3h1.1v1.1h-1.1zM194.3 112.4h1.1v1.1h-1.1zM196.2 124.2h1.1v1.1h-1.1zM190.7 112.8h1.1v1.1h-1.1zM195.5 123.8h1.1v1.1h-1.1zM195.3 121.4h1.1v1.1h-1.1zM192.3 133.3h1.1v1.1h-1.1zM195.3 110.5h1.1v1.1h-1.1zM194.7 123.1h1.1v1.1h-1.1zM189.7 115.3h1.1v1.1h-1.1zM194.3 115.8h1.1v1.1h-1.1zM195.5 113.5h1.1v1.1h-1.1zM193.4 130.7h1.1v1.1h-1.1zM189.6 115.0h1.1v1.1h-1.1zM190.3 122.7h1.1v1.1h-1.1zM192.8 134.2h1.1v1.1h-1.1zM190.5 120.8h1.1v1.1h-1.1zM190.2 129.8h1.1v1.1h-1.1zM195.6 120.2h1.1v1.1h-1.1zM190.2 127.8h1.1v1.1h-1.1zM193.4 117.0h1.1v1.1h-1.1zM190.8 114.8h1.1v1.1h-1.1zM188.1 121.2h1.1v1.1h-1.1zM195.0 124.3h1.1v1.1h-1.1zM191.8 114.3h1.1v1.1h-1.1zM195.1 116.2h1.1v1.1h-1.1zM190.5 116.1h1.1v1.1h-1.1zM194.8 123.5h1.1v1.1h-1.1zM190.0 122.1h1.1v1.1h-1.1zM191.8 131.4h1.1v1.1h-1.1zM196.5 113.9h1.1v1.1h-1.1zM192.7 134.6h1.1v1.1h-1.1zM193.3 111.5h1.1v1.1h-1.1zM194.8 126.1h1.1v1.1h-1.1zM195.1 115.0h1.1v1.1h-1.1zM195.8 123.4h1.1v1.1h-1.1zM195.0 129.1h1.1v1.1h-1.1zM191.1 116.9h1.1v1.1h-1.1zM191.5 132.7h1.1v1.1h-1.1zM189.2 119.7h1.1v1.1h-1.1zM190.3 117.8h1.1v1.1h-1.1zM196.1 127.2h1.1v1.1h-1.1zM192.6 116.4h1.1v1.1h-1.1zM193.1 131.9h1.1v1.1h-1.1z"/>
<path fill="#3050f0" d="M189.5 117.4h1.1v1.1h-1.1zM192.5 115.1h1.1v1.1h-1.1zM195.6 114.9h1.1v1.1h-1.1zM195.8 125.5h1.1v1.1h-1.1zM195.4 114.7h1.1v1.1h-1.1zM195.4 122.9h1.1v1.1h-1.1zM190.7 127.3h1.1v1.1h-1.1zM190.3 125.1h1.1v1.1h-1.1zM190.4 110.7h1.1v1.1h-1.1zM193.6 130.3h1.1v1.1h-1.1zM191.7 128.0h1.1v1.1h-1.1zM195.0 126.6h1.1v1.1h-1.1zM196.4 122.6h1.1v1.1h-1.1zM195.7 116.6h1.1v1.1h-1.1zM194.3 117.2h1.1v1.1h-1.1zM189.8 112.8h1.1v1.1h-1.1zM190.8 125.3h1.1v1.1h-1.1zM194.9 121.5h1.1v1.1h-1.1zM195.2 112.7h1.1v1.1h-1.1zM192.5 128.4h1.1v1.1h-1.1zM190.9 115.5h1.1v1.1h-1.1zM191.7 114.6h1.1v1.1h-1.1zM194.5 125.8h1.1v1.1h-1.1zM190.5 123.7h1.1v1.1h-1.1zM194.6 114.0h1.1v1.1h-1.1zM191.4 127.1h1.1v1.1h-1.1zM194.9 116.1h1.1v1.1h-1.1zM189.0 120.6h1.1v1.1h-1.1zM190.1 125.7h1.1v1.1h-1.1zM193.0 131.2h1.1v1.1h-1.1zM194.4 132.9h1.1v1.1h-1.1zM192.4 131.0h1.1v1.1h-1.1zM194.3 127.6h1.1v1.1h-1.1zM195.7 124.3h1.1v1.1h-1.1zM190.5 111.4h1.1v1.1h-1.1zM196.6 125.4h1.1v1.1h-1.1zM189.2 123.7h1.1v1.1h-1.1zM194.1 109.7h1.1v1.1h-1.1zM189.4 119.6h1.1v1.1h-1.1zM196.3 116.8h1.1v1.1h-1.1zM195.8 127.6h1.1v1.1h-1.1zM193.9 114.7h1.1v1.1h-1.1zM195.9 133.8h1.1v1.1h-1.1zM195.7 124.6h1.1v1.1h-1.1zM193.8 128.9h1.1v1.1h-1.1zM196.0 113.6h1.1v1.1h-1.1zM194.3 131.2h1.1v1.1h-1.1zM190.3 121.9h1.1v1.1h-1.1zM194.5 130.2h1.1v1.1h-1.1zM191.4 118.4h1.1v1.1h-1.1zM192.8 112.7h1.1v1.1h-1.1zM193.2 131.9h1.1v1.1h-1.1zM190.3 129.1h1.1v1.1h-1.1zM195.0 125.3h1.1v1.1h-1.1zM191.5 134.6h1.1v1.1h-1.1z"/>
<path fill="#40b0a0" d="M193.9 127.2h1.1v1.1h-1.1zM193.5 124.9h1.1v1.1h-1.1zM193.3 121.9h1.1v1.1h-1.1zM192.6 123.7h1.1v1.1h-1.1zM191.0 124.6h1.1v1.1h-1.1zM192.9 117.4h1.1v1.1h-1.1zM190.3 119.4h1.1v1.1h-1.1zM191.8 120.9h1.1v1.1h-1.1zM193.1 118.6h1.1v1.1h-1.1zM194.2 120.6h1.1v1.1h-1.1zM192.6 124.0h1.1v1.1h-1.1zM192.9 120.9h1.1v1.1h-1.1zM194.8 120.3h1.1v1.1h-1.1zM192.0 119.4h1.1v1.1h-1.1zM193.1 118.6h1.1v1.1h-1.1zM191.0 126.4h1.1v1.1h-1.1zM194.6 117.8h1.1v1.1h-1.1zM191.2 116.6h1.1v1.1h-1.1zM194.1 120.1h1.1v1.1h-1.1zM191.9 117.3h1.1v1.1h-1.1zM193.0 123.9h1.1v1.1h-1.1zM191.0 120.1h1.1v1.1h-1.1zM192.9 119.6h1.1v1.1h-1.1zM192.2 120.1h1.1v1.1h-1.1zM192.9 127.2h1.1v1.1h-1.1zM192.2 124.4h1.1v1.1h-1.1zM191.1 122.5h1.1v1.1h-1.1z"/>
<path fill="#10a050" d="M192.7 121.3h1.1v1.1h-1.1zM190.8 122.3h1.1v1.1h-1.1zM192.9 118.2h1.1v1.1h-1.1zM193.6 125.8h1.1v1.1h-1.1zM190.4 122.5h1.1v1.1h-1.1zM194.2 119.8h1.1v1.1h-1.1zM193.1 123.0h1.1v1.1h-1.1zM192.2 123.3h1.1v1.1h-1.1zM193.3 119.4h1.1v1.1h-1.1zM191.8 121.7h1.1v1.1h-1.1zM191.5 125.1h1.1v1.1h-1.1zM192.1 114.7h1.1v1.1h-1.1zM191.6 124.5h1.1v1.1h-1.1zM191.1 119.8h1.1v1.1h-1.1zM191.9 125.8h1.1v1.1h-1.1zM193.1 123.9h1.1v1.1h-1.1zM193.7 124.0h1.1v1.1h-1.1z"/>
<path fill="#30b070" d="M192.2 117.4h1.1v1.1h-1.1zM191.2 124.8h1.1v1.1h-1.1zM194.8 124.8h1.1v1.1h-1.1zM192.3 120.9h1.1v1.1h-1.1zM192.9 126.2h1.1v1.1h-1.1zM193.8 121.9h1.1v1.1h-1.1zM191.5 123.0h1.1v1.1h-1.1zM194.6 118.7h1.1v1.1h-1.1zM191.1 121.5h1.1v1.1h-1.1zM191.4 117.9h1.1v1.1h-1.1zM193.2 125.0h1.1v1.1h-1.1zM193.4 123.5h1.1v1.1h-1.1zM193.1 125.4h1.1v1.1h-1.1zM191.0 115.9h1.1v1.1h-1.1zM193.1 126.1h1.1v1.1h-1.1zM192.8 126.4h1.1v1.1h-1.1zM191.5 118.9h1.1v1.1h-1.1zM195.3 121.5h1.1v1.1h-1.1zM194.1 117.6h1.1v1.1h-1.1zM191.2 124.3h1.1v1.1h-1.1zM190.2 121.5h1.1v1.1h-1.1z"/>
<path fill="#30c0d0" d="M195.4 121.4h1.1v1.1h-1.1zM197.8 122.4h1.1v1.1h-1.1zM189.4 118.7h1.1v1.1h-1.1zM195.7 117.2h1.1v1.1h-1.1zM190.6 121.1h1.1v1.1h-1.1zM190.3 117.0h1.1v1.1h-1.1zM194.3 117.1h1.1v1.1h-1.1zM194.7 122.7h1.1v1.1h-1.1zM191.8 112.7h1.1v1.1h-1.1zM190.7 122.3h1.1v1.1h-1.1zM194.8 123.4h1.1v1.1h-1.1zM195.1 124.9h1.1v1.1h-1.1zM189.2 116.0h1.1v1.1h-1.1zM192.2 131.8h1.1v1.1h-1.1zM191.5 129.4h1.1v1.1h-1.1zM191.4 128.6h1.1v1.1h-1.1zM190.3 127.3h1.1v1.1h-1.1zM189.4 119.7h1.1v1.1h-1.1zM195.2 120.8h1.1v1.1h-1.1zM194.2 130.3h1.1v1.1h-1.1zM188.6 119.7h1.1v1.1h-1.1zM196.1 123.7h1.1v1.1h-1.1zM194.5 128.6h1.1v1.1h-1.1zM197.0 129.1h1.1v1.1h-1.1zM194.1 115.0h1.1v1.1h-1.1zM192.8 115.1h1.1v1.1h-1.1zM190.1 122.5h1.1v1.1h-1.1zM190.6 122.9h1.1v1.1h-1.1zM195.1 114.8h1.1v1.1h-1.1zM191.6 115.6h1.1v1.1h-1.1zM190.7 127.2h1.1v1.1h-1.1zM196.1 132.2h1.1v1.1h-1.1zM193.4 109.8h1.1v1.1h-1.1zM189.2 125.8h1.1v1.1h-1.1zM196.0 117.6h1.1v1.1h-1.1zM191.2 133.5h1.1v1.1h-1.1zM188.6 121.0h1.1v1.1h-1.1zM195.3 125.2h1.1v1.1h-1.1z"/>
<line x1="186.5" y1="37.5" x2="186.5" y2="147.5" stroke="#383838" stroke-width="1.0" />
<line x1="114.5" y1="109.5" x2="225.5" y2="109.5" stroke="#383838" stroke-width="1.0" />
<line x1="114.5" y1="37.5" x2="225.5" y2="37.5" stroke="#a0a0a0" stroke-width="0.7" />
<line x1="225.5" y1="37.5" x2="225.5" y2="147.5" stroke="#707070" stroke-width="0.9" />
<line x1="114.5" y1="37.5" x2="114.5" y2="47.3" stroke="#a0a0a0" stroke-width="0.7" />
<line x1="114.5" y1="47.3" x2="114.5" y2="147.5" stroke="#707070" stroke-width="1.0" />
<line x1="114.5" y1="147.5" x2="225.5" y2="147.5" stroke="#707070" stroke-width="1.0" />
<rect x="114.5" y="37.5" width="70.0" height="9.0" fill="#fff" stroke="#b0b0b0" stroke-width="0.6" fill-opacity="0.3"/>
<text x="115.4" y="43.9" font-size="5.7" font-weight="normal" text-anchor="start" fill="#111" font-family='"DejaVu Sans", "Liberation Sans", Arial, sans-serif' textLength="68.6" lengthAdjust="spacingAndGlyphs" stroke="#111" stroke-width="0.12">Non-Classical Monocytes</text>
<rect x="186.5" y="37.5" width="37.5" height="15.5" fill="#fff" stroke="#b0b0b0" stroke-width="0.6" fill-opacity="0.3"/>
<text x="187.4" y="43.9" font-size="5.7" font-weight="normal" text-anchor="start" fill="#111" font-family='"DejaVu Sans", "Liberation Sans", Arial, sans-serif' textLength="37.6" lengthAdjust="spacingAndGlyphs" stroke="#111" stroke-width="0.12">Intermediate</text>
<text x="187.4" y="51.6" font-size="5.7" font-weight="normal" text-anchor="start" fill="#111" font-family='"DejaVu Sans", "Liberation Sans", Arial, sans-serif' textLength="30.0" lengthAdjust="spacingAndGlyphs" stroke="#111" stroke-width="0.12">Monocytes</text>
<rect x="114.5" y="109.5" width="10.5" height="7.5" fill="#fff" stroke="#b0b0b0" stroke-width="0.6" fill-opacity="0.3"/>
<text x="116.0" y="115.5" font-size="5.2" font-weight="normal" text-anchor="start" fill="#333" font-family='"DejaVu Sans", "Liberation Sans", Arial, sans-serif' textLength="7.2" lengthAdjust="spacingAndGlyphs" >A··</text>
<rect x="188.4" y="127.0" width="31.1" height="15.8" fill="#fff" stroke="#b0b0b0" stroke-width="0.6" fill-opacity="0.3"/>
<text x="189.3" y="133.4" font-size="5.7" font-weight="normal" text-anchor="start" fill="#111" font-family='"DejaVu Sans", "Liberation Sans", Arial, sans-serif' textLength="25.8" lengthAdjust="spacingAndGlyphs" stroke="#111" stroke-width="0.12">Classical</text>
<text x="189.3" y="141.1" font-size="5.7" font-weight="normal" text-anchor="start" fill="#111" font-family='"DejaVu Sans", "Liberation Sans", Arial, sans-serif' textLength="29.5" lengthAdjust="spacingAndGlyphs" stroke="#111" stroke-width="0.12">Monocytes</text>
<text x="112.2" y="49.0" font-size="5.1" text-anchor="end" fill="#333" font-family='"DejaVu Sans", "Liberation Sans", Arial, sans-serif'>10<tspan dy="-2.0" font-size="3.3">5</tspan></text>
<line x1="112.5" y1="47.3" x2="114.5" y2="47.3" stroke="#555" stroke-width="0.8" />
<text x="112.2" y="73.7" font-size="5.1" text-anchor="end" fill="#333" font-family='"DejaVu Sans", "Liberation Sans", Arial, sans-serif'>10<tspan dy="-2.0" font-size="3.3">4</tspan></text>
<line x1="112.5" y1="72.0" x2="114.5" y2="72.0" stroke="#555" stroke-width="0.8" />
<text x="112.2" y="98.7" font-size="5.1" text-anchor="end" fill="#333" font-family='"DejaVu Sans", "Liberation Sans", Arial, sans-serif'>10<tspan dy="-2.0" font-size="3.3">3</tspan></text>
<line x1="112.5" y1="97.0" x2="114.5" y2="97.0" stroke="#555" stroke-width="0.8" />
<text x="110.9" y="135.8" font-size="5.6" font-weight="normal" text-anchor="end" fill="#333" font-family='"DejaVu Sans", "Liberation Sans", Arial, sans-serif' >0</text>
<line x1="112.5" y1="134.0" x2="114.5" y2="134.0" stroke="#555" stroke-width="0.8" />
<line x1="113.3" y1="64.51940460775006" x2="114.5" y2="64.51940460775006" stroke="#666" stroke-width="0.6" />
<line x1="113.3" y1="60.14353682021639" x2="114.5" y2="60.14353682021639" stroke="#666" stroke-width="0.6" />
<line x1="113.3" y1="57.03880921550014" x2="114.5" y2="57.03880921550014" stroke="#666" stroke-width="0.6" />
<line x1="113.3" y1="54.63059539224993" x2="114.5" y2="54.63059539224993" stroke="#666" stroke-width="0.6" />
<line x1="113.3" y1="52.66294142796646" x2="114.5" y2="52.66294142796646" stroke="#666" stroke-width="0.6" />
<line x1="113.3" y1="50.99931370564572" x2="114.5" y2="50.99931370564572" stroke="#666" stroke-width="0.6" />
<line x1="113.3" y1="49.5582138232502" x2="114.5" y2="49.5582138232502" stroke="#666" stroke-width="0.6" />
<line x1="113.3" y1="48.28707364043278" x2="114.5" y2="48.28707364043278" stroke="#666" stroke-width="0.6" />
<line x1="113.3" y1="89.51940460775006" x2="114.5" y2="89.51940460775006" stroke="#666" stroke-width="0.6" />
<line x1="113.3" y1="85.14353682021638" x2="114.5" y2="85.14353682021638" stroke="#666" stroke-width="0.6" />
<line x1="113.3" y1="82.03880921550014" x2="114.5" y2="82.03880921550014" stroke="#666" stroke-width="0.6" />
<line x1="113.3" y1="79.63059539224993" x2="114.5" y2="79.63059539224993" stroke="#666" stroke-width="0.6" />
<line x1="113.3" y1="77.66294142796646" x2="114.5" y2="77.66294142796646" stroke="#666" stroke-width="0.6" />
<line x1="113.3" y1="75.99931370564572" x2="114.5" y2="75.99931370564572" stroke="#666" stroke-width="0.6" />
<line x1="113.3" y1="74.5582138232502" x2="114.5" y2="74.5582138232502" stroke="#666" stroke-width="0.6" />
<line x1="113.3" y1="73.28707364043278" x2="114.5" y2="73.28707364043278" stroke="#666" stroke-width="0.6" />
<line x1="113.3" y1="105.35" x2="114.5" y2="105.35" stroke="#666" stroke-width="0.6" />
<line x1="113.3" y1="123.5" x2="114.5" y2="123.5" stroke="#666" stroke-width="0.6" />
<line x1="113.3" y1="139.6" x2="114.5" y2="139.6" stroke="#666" stroke-width="0.6" />
<line x1="113.3" y1="145.8" x2="114.5" y2="145.8" stroke="#666" stroke-width="0.6" />
<text x="136.4" y="156.4" font-size="5.6" font-weight="normal" text-anchor="middle" fill="#333" font-family='"DejaVu Sans", "Liberation Sans", Arial, sans-serif' >0</text>
<line x1="136.4" y1="147.5" x2="136.4" y2="149.5" stroke="#555" stroke-width="0.8" />
<text x="159.7" y="156.3" font-size="5.1" text-anchor="middle" fill="#333" font-family='"DejaVu Sans", "Liberation Sans", Arial, sans-serif'>10<tspan dy="-2.0" font-size="3.3">3</tspan></text>
<line x1="160.0" y1="147.5" x2="160.0" y2="149.5" stroke="#555" stroke-width="0.8" />
<text x="189.5" y="156.3" font-size="5.1" text-anchor="middle" fill="#333" font-family='"DejaVu Sans", "Liberation Sans", Arial, sans-serif'>10<tspan dy="-2.0" font-size="3.3">4</tspan></text>
<line x1="189.8" y1="147.5" x2="189.8" y2="149.5" stroke="#555" stroke-width="0.8" />
<text x="215.7" y="156.3" font-size="5.1" text-anchor="middle" fill="#333" font-family='"DejaVu Sans", "Liberation Sans", Arial, sans-serif'>10<tspan dy="-2.0" font-size="3.3">5</tspan></text>
<line x1="216.0" y1="147.5" x2="216.0" y2="149.5" stroke="#555" stroke-width="0.8" />
<line x1="167.8869858863963" y1="147.5" x2="167.8869858863963" y2="148.7" stroke="#777" stroke-width="0.6" />
<line x1="172.50057687365515" y1="147.5" x2="172.50057687365515" y2="148.7" stroke="#777" stroke-width="0.6" />
<line x1="175.7739717727926" y1="147.5" x2="175.7739717727926" y2="148.7" stroke="#777" stroke-width="0.6" />
<line x1="178.31301411360369" y1="147.5" x2="178.31301411360369" y2="148.7" stroke="#777" stroke-width="0.6" />
<line x1="180.38756276005145" y1="147.5" x2="180.38756276005145" y2="148.7" stroke="#777" stroke-width="0.6" />
<line x1="182.14156864837352" y1="147.5" x2="182.14156864837352" y2="148.7" stroke="#777" stroke-width="0.6" />
<line x1="183.6609576591889" y1="147.5" x2="183.6609576591889" y2="148.7" stroke="#777" stroke-width="0.6" />
<line x1="185.0011537473103" y1="147.5" x2="185.0011537473103" y2="148.7" stroke="#777" stroke-width="0.6" />
<line x1="197.68698588639631" y1="147.5" x2="197.68698588639631" y2="148.7" stroke="#777" stroke-width="0.6" />
<line x1="202.30057687365516" y1="147.5" x2="202.30057687365516" y2="148.7" stroke="#777" stroke-width="0.6" />
<line x1="205.57397177279262" y1="147.5" x2="205.57397177279262" y2="148.7" stroke="#777" stroke-width="0.6" />
<line x1="208.1130141136037" y1="147.5" x2="208.1130141136037" y2="148.7" stroke="#777" stroke-width="0.6" />
<line x1="210.18756276005146" y1="147.5" x2="210.18756276005146" y2="148.7" stroke="#777" stroke-width="0.6" />
<line x1="211.94156864837353" y1="147.5" x2="211.94156864837353" y2="148.7" stroke="#777" stroke-width="0.6" />
<line x1="213.46095765918892" y1="147.5" x2="213.46095765918892" y2="148.7" stroke="#777" stroke-width="0.6" />
<line x1="214.8011537473103" y1="147.5" x2="214.8011537473103" y2="148.7" stroke="#777" stroke-width="0.6" />
<line x1="126.9" y1="147.5" x2="126.9" y2="148.7" stroke="#777" stroke-width="0.6" />
<line x1="145.9" y1="147.5" x2="145.9" y2="148.7" stroke="#777" stroke-width="0.6" />
<text x="143.6" y="166.3" font-size="6.9" font-weight="normal" text-anchor="start" fill="#1a1a1a" font-family='"DejaVu Sans", "Liberation Sans", Arial, sans-serif' textLength="51.9" lengthAdjust="spacingAndGlyphs" stroke="#1a1a1a" stroke-width="0.35">CD14 PE-Cy7-A</text>
<text transform="translate(95.5,121.0) rotate(-90)" x="0" y="0" font-size="6.9" fill="#1a1a1a" stroke="#1a1a1a" stroke-width="0.35" font-family='"DejaVu Sans", "Liberation Sans", Arial, sans-serif' textLength="56.4" lengthAdjust="spacingAndGlyphs">CD16 APC-Cy7-A</text>
<rect x="293.5" y="37.5" width="108.0" height="107.0" fill="#fff" stroke="none" stroke-width="1" />
<path fill="#e698e6" d="M360.5 70.6h1.0v1.0h-1.0zM361.7 63.7h1.0v1.0h-1.0zM340.2 61.2h1.0v1.0h-1.0zM356.4 64.8h1.0v1.0h-1.0zM354.6 67.3h1.0v1.0h-1.0zM327.4 59.9h1.0v1.0h-1.0zM354.8 62.6h1.0v1.0h-1.0zM362.1 64.5h1.0v1.0h-1.0zM372.8 77.1h1.0v1.0h-1.0zM365.2 62.9h1.0v1.0h-1.0zM374.6 101.9h1.0v1.0h-1.0zM364.0 63.9h1.0v1.0h-1.0zM364.5 67.9h1.0v1.0h-1.0zM375.9 92.4h1.0v1.0h-1.0zM378.9 90.9h1.0v1.0h-1.0zM375.6 93.8h1.0v1.0h-1.0zM381.4 81.8h1.0v1.0h-1.0zM380.8 79.4h1.0v1.0h-1.0zM382.2 82.6h1.0v1.0h-1.0zM371.9 61.2h1.0v1.0h-1.0zM357.5 68.1h1.0v1.0h-1.0zM377.6 89.8h1.0v1.0h-1.0zM374.8 99.6h1.0v1.0h-1.0zM371.6 86.7h1.0v1.0h-1.0z"/>
<path fill="#c4c4c4" d="M329.2 58.6h1.0v1.0h-1.0zM347.6 55.2h1.0v1.0h-1.0zM348.3 59.3h1.0v1.0h-1.0zM320.7 68.4h1.0v1.0h-1.0zM345.7 67.0h1.0v1.0h-1.0zM351.8 59.4h1.0v1.0h-1.0zM337.3 56.2h1.0v1.0h-1.0zM331.6 61.2h1.0v1.0h-1.0zM341.2 61.4h1.0v1.0h-1.0zM349.8 64.3h1.0v1.0h-1.0zM344.8 59.1h1.0v1.0h-1.0zM314.5 65.2h1.0v1.0h-1.0zM357.0 63.8h1.0v1.0h-1.0zM318.2 65.7h1.0v1.0h-1.0zM349.4 68.9h1.0v1.0h-1.0zM356.6 62.4h1.0v1.0h-1.0zM374.0 94.0h1.0v1.0h-1.0zM372.2 99.1h1.0v1.0h-1.0zM378.3 79.9h1.0v1.0h-1.0zM377.5 106.7h1.0v1.0h-1.0zM376.0 75.2h1.0v1.0h-1.0zM380.6 93.9h1.0v1.0h-1.0zM365.1 64.6h1.0v1.0h-1.0zM356.6 64.1h1.0v1.0h-1.0zM364.4 67.9h1.0v1.0h-1.0zM368.4 72.3h1.0v1.0h-1.0zM371.8 79.9h1.0v1.0h-1.0zM373.2 73.6h1.0v1.0h-1.0zM376.6 81.6h1.0v1.0h-1.0zM376.5 74.6h1.0v1.0h-1.0zM360.7 67.1h1.0v1.0h-1.0zM371.4 69.0h1.0v1.0h-1.0zM375.3 72.6h1.0v1.0h-1.0zM372.9 74.2h1.0v1.0h-1.0zM378.9 85.6h1.0v1.0h-1.0zM380.9 81.8h1.0v1.0h-1.0zM364.4 68.0h1.0v1.0h-1.0zM360.4 64.8h1.0v1.0h-1.0zM370.6 73.4h1.0v1.0h-1.0zM380.7 92.2h1.0v1.0h-1.0zM379.2 97.7h1.0v1.0h-1.0zM373.8 78.9h1.0v1.0h-1.0zM360.0 67.6h1.0v1.0h-1.0zM362.8 63.6h1.0v1.0h-1.0zM365.7 64.5h1.0v1.0h-1.0zM377.4 73.3h1.0v1.0h-1.0zM371.8 68.9h1.0v1.0h-1.0zM374.9 76.3h1.0v1.0h-1.0zM367.4 60.0h1.0v1.0h-1.0zM373.3 71.3h1.0v1.0h-1.0zM379.5 79.6h1.0v1.0h-1.0zM381.4 98.8h1.0v1.0h-1.0zM375.3 66.3h1.0v1.0h-1.0zM364.6 62.8h1.0v1.0h-1.0zM378.8 99.4h1.0v1.0h-1.0zM363.2 62.2h1.0v1.0h-1.0zM368.6 65.7h1.0v1.0h-1.0zM370.6 92.4h1.0v1.0h-1.0zM367.4 69.2h1.0v1.0h-1.0zM375.4 97.4h1.0v1.0h-1.0zM367.0 59.2h1.0v1.0h-1.0zM315.1 67.7h1.0v1.0h-1.0zM312.2 79.7h1.0v1.0h-1.0zM316.5 94.3h1.0v1.0h-1.0z"/>
<path fill="#d884d8" d="M318.8 63.8h1.0v1.0h-1.0zM361.4 68.9h1.0v1.0h-1.0zM312.7 64.1h1.0v1.0h-1.0zM355.2 64.2h1.0v1.0h-1.0zM333.8 59.6h1.0v1.0h-1.0zM346.7 55.1h1.0v1.0h-1.0zM317.9 63.7h1.0v1.0h-1.0zM339.8 56.1h1.0v1.0h-1.0zM376.7 91.9h1.0v1.0h-1.0zM374.9 91.5h1.0v1.0h-1.0zM366.4 66.0h1.0v1.0h-1.0zM377.7 93.9h1.0v1.0h-1.0zM378.2 80.6h1.0v1.0h-1.0zM364.9 63.7h1.0v1.0h-1.0zM373.7 67.0h1.0v1.0h-1.0zM379.2 105.1h1.0v1.0h-1.0zM371.2 72.1h1.0v1.0h-1.0zM377.5 93.9h1.0v1.0h-1.0zM369.0 68.9h1.0v1.0h-1.0zM355.8 60.6h1.0v1.0h-1.0zM369.0 64.4h1.0v1.0h-1.0z"/>
<path fill="#d8a8d8" d="M359.4 67.2h1.0v1.0h-1.0zM355.8 64.2h1.0v1.0h-1.0zM354.2 60.9h1.0v1.0h-1.0zM345.2 64.4h1.0v1.0h-1.0zM319.8 59.9h1.0v1.0h-1.0zM350.2 61.6h1.0v1.0h-1.0zM320.8 64.3h1.0v1.0h-1.0zM349.3 56.4h1.0v1.0h-1.0zM363.6 58.9h1.0v1.0h-1.0zM341.8 64.7h1.0v1.0h-1.0zM321.9 63.0h1.0v1.0h-1.0zM375.3 92.8h1.0v1.0h-1.0zM376.3 101.6h1.0v1.0h-1.0zM377.7 76.5h1.0v1.0h-1.0zM362.5 61.3h1.0v1.0h-1.0zM364.3 65.9h1.0v1.0h-1.0zM365.6 67.3h1.0v1.0h-1.0zM380.4 82.6h1.0v1.0h-1.0zM366.7 69.5h1.0v1.0h-1.0zM372.5 70.3h1.0v1.0h-1.0zM368.8 79.5h1.0v1.0h-1.0z"/>
<path fill="#a0a0a0" d="M339.5 64.7h1.0v1.0h-1.0zM341.3 58.8h1.0v1.0h-1.0zM325.3 62.7h1.0v1.0h-1.0zM326.2 57.3h1.0v1.0h-1.0zM341.9 58.2h1.0v1.0h-1.0zM357.6 69.8h1.0v1.0h-1.0zM324.1 60.9h1.0v1.0h-1.0zM328.5 62.9h1.0v1.0h-1.0zM355.6 61.3h1.0v1.0h-1.0zM333.2 53.9h1.0v1.0h-1.0zM323.7 63.2h1.0v1.0h-1.0zM332.5 57.0h1.0v1.0h-1.0zM363.1 68.4h1.0v1.0h-1.0zM335.5 57.0h1.0v1.0h-1.0zM348.0 66.6h1.0v1.0h-1.0zM361.9 69.5h1.0v1.0h-1.0zM362.2 68.5h1.0v1.0h-1.0zM335.4 60.1h1.0v1.0h-1.0zM344.7 54.2h1.0v1.0h-1.0zM315.6 62.9h1.0v1.0h-1.0zM320.5 67.6h1.0v1.0h-1.0zM317.8 60.0h1.0v1.0h-1.0zM323.4 52.7h1.0v1.0h-1.0zM330.8 61.0h1.0v1.0h-1.0zM353.3 62.2h1.0v1.0h-1.0zM352.5 60.4h1.0v1.0h-1.0zM353.5 60.5h1.0v1.0h-1.0zM348.0 58.3h1.0v1.0h-1.0zM338.5 60.2h1.0v1.0h-1.0zM331.0 56.6h1.0v1.0h-1.0zM351.9 60.9h1.0v1.0h-1.0zM357.7 64.9h1.0v1.0h-1.0zM322.6 67.9h1.0v1.0h-1.0zM329.3 62.2h1.0v1.0h-1.0zM315.9 64.3h1.0v1.0h-1.0zM354.7 64.5h1.0v1.0h-1.0zM350.6 64.8h1.0v1.0h-1.0zM314.1 73.0h1.0v1.0h-1.0zM325.5 56.9h1.0v1.0h-1.0zM372.6 70.4h1.0v1.0h-1.0zM375.8 68.5h1.0v1.0h-1.0zM378.4 83.6h1.0v1.0h-1.0zM373.9 65.7h1.0v1.0h-1.0zM373.4 73.2h1.0v1.0h-1.0zM369.6 69.4h1.0v1.0h-1.0zM375.8 86.2h1.0v1.0h-1.0zM378.1 87.6h1.0v1.0h-1.0zM374.5 71.9h1.0v1.0h-1.0zM377.0 67.9h1.0v1.0h-1.0zM362.7 64.7h1.0v1.0h-1.0zM357.4 62.9h1.0v1.0h-1.0zM377.1 85.1h1.0v1.0h-1.0zM366.6 71.4h1.0v1.0h-1.0zM360.8 64.7h1.0v1.0h-1.0zM354.4 67.4h1.0v1.0h-1.0zM366.0 64.0h1.0v1.0h-1.0zM363.3 61.7h1.0v1.0h-1.0zM373.8 68.4h1.0v1.0h-1.0zM379.2 104.2h1.0v1.0h-1.0zM359.0 62.6h1.0v1.0h-1.0zM385.4 87.4h1.0v1.0h-1.0zM372.2 70.2h1.0v1.0h-1.0zM373.3 77.9h1.0v1.0h-1.0zM378.0 79.0h1.0v1.0h-1.0zM379.6 101.9h1.0v1.0h-1.0zM379.0 77.3h1.0v1.0h-1.0zM371.1 66.0h1.0v1.0h-1.0zM366.2 64.4h1.0v1.0h-1.0zM372.2 67.1h1.0v1.0h-1.0zM381.8 102.5h1.0v1.0h-1.0zM373.9 71.3h1.0v1.0h-1.0zM371.6 98.6h1.0v1.0h-1.0zM376.1 76.2h1.0v1.0h-1.0zM376.6 98.4h1.0v1.0h-1.0zM361.2 60.7h1.0v1.0h-1.0zM360.9 63.9h1.0v1.0h-1.0zM361.2 64.4h1.0v1.0h-1.0zM369.8 68.3h1.0v1.0h-1.0zM374.2 80.1h1.0v1.0h-1.0zM374.3 99.7h1.0v1.0h-1.0zM381.6 74.4h1.0v1.0h-1.0zM383.8 104.7h1.0v1.0h-1.0zM312.1 96.0h1.0v1.0h-1.0zM316.1 92.5h1.0v1.0h-1.0zM314.7 66.7h1.0v1.0h-1.0zM316.2 93.8h1.0v1.0h-1.0zM310.2 85.0h1.0v1.0h-1.0zM316.6 98.8h1.0v1.0h-1.0zM309.4 77.7h1.0v1.0h-1.0z"/>
<path fill="#efc8ef" d="M323.4 62.1h1.0v1.0h-1.0zM362.5 59.4h1.0v1.0h-1.0zM316.7 59.8h1.0v1.0h-1.0zM361.2 63.9h1.0v1.0h-1.0zM363.5 69.7h1.0v1.0h-1.0zM354.7 61.1h1.0v1.0h-1.0zM321.5 67.4h1.0v1.0h-1.0zM348.4 63.1h1.0v1.0h-1.0zM334.4 59.4h1.0v1.0h-1.0zM342.3 60.3h1.0v1.0h-1.0zM338.9 58.8h1.0v1.0h-1.0zM385.8 81.1h1.0v1.0h-1.0zM369.2 63.5h1.0v1.0h-1.0zM365.5 64.4h1.0v1.0h-1.0zM374.1 100.3h1.0v1.0h-1.0zM380.5 107.2h1.0v1.0h-1.0zM372.7 73.1h1.0v1.0h-1.0zM372.2 71.6h1.0v1.0h-1.0zM374.6 82.5h1.0v1.0h-1.0zM378.6 107.4h1.0v1.0h-1.0zM371.7 98.9h1.0v1.0h-1.0zM369.7 77.3h1.0v1.0h-1.0zM370.1 66.6h1.0v1.0h-1.0zM380.5 83.9h1.0v1.0h-1.0z"/>
<path fill="#8e8e8e" d="M343.3 61.4h1.0v1.0h-1.0zM341.7 64.6h1.0v1.0h-1.0zM342.1 60.5h1.0v1.0h-1.0zM349.0 67.0h1.0v1.0h-1.0zM352.0 61.1h1.0v1.0h-1.0zM339.1 62.8h1.0v1.0h-1.0zM336.7 56.7h1.0v1.0h-1.0zM349.1 66.4h1.0v1.0h-1.0zM336.9 59.2h1.0v1.0h-1.0zM341.5 62.2h1.0v1.0h-1.0zM325.8 63.3h1.0v1.0h-1.0zM348.2 59.5h1.0v1.0h-1.0zM362.5 65.8h1.0v1.0h-1.0zM350.6 67.3h1.0v1.0h-1.0zM343.8 54.0h1.0v1.0h-1.0zM348.1 57.9h1.0v1.0h-1.0zM334.8 62.1h1.0v1.0h-1.0zM353.9 64.0h1.0v1.0h-1.0zM339.1 56.7h1.0v1.0h-1.0zM359.6 62.4h1.0v1.0h-1.0zM353.8 61.7h1.0v1.0h-1.0zM348.9 59.5h1.0v1.0h-1.0zM340.3 60.5h1.0v1.0h-1.0zM328.4 58.2h1.0v1.0h-1.0zM366.6 67.4h1.0v1.0h-1.0zM379.9 89.1h1.0v1.0h-1.0zM373.9 77.7h1.0v1.0h-1.0zM378.9 84.7h1.0v1.0h-1.0zM374.2 74.3h1.0v1.0h-1.0zM378.1 86.7h1.0v1.0h-1.0zM368.9 77.8h1.0v1.0h-1.0zM376.6 97.9h1.0v1.0h-1.0zM369.9 67.2h1.0v1.0h-1.0zM385.6 109.0h1.0v1.0h-1.0zM364.3 67.4h1.0v1.0h-1.0zM366.9 69.9h1.0v1.0h-1.0zM374.9 75.3h1.0v1.0h-1.0zM373.9 83.0h1.0v1.0h-1.0zM377.6 94.1h1.0v1.0h-1.0zM381.8 103.8h1.0v1.0h-1.0zM363.2 65.7h1.0v1.0h-1.0zM381.0 88.4h1.0v1.0h-1.0zM366.6 63.0h1.0v1.0h-1.0zM372.7 79.7h1.0v1.0h-1.0zM369.6 78.8h1.0v1.0h-1.0zM379.2 102.1h1.0v1.0h-1.0zM375.5 99.9h1.0v1.0h-1.0zM377.0 96.2h1.0v1.0h-1.0zM375.1 83.1h1.0v1.0h-1.0zM378.5 82.8h1.0v1.0h-1.0zM364.8 68.9h1.0v1.0h-1.0zM361.2 61.4h1.0v1.0h-1.0zM358.2 64.5h1.0v1.0h-1.0zM375.5 80.6h1.0v1.0h-1.0zM377.6 84.9h1.0v1.0h-1.0zM383.3 86.7h1.0v1.0h-1.0zM373.8 80.3h1.0v1.0h-1.0zM373.3 68.5h1.0v1.0h-1.0zM381.2 76.9h1.0v1.0h-1.0zM372.4 74.4h1.0v1.0h-1.0zM376.4 93.7h1.0v1.0h-1.0zM367.1 61.5h1.0v1.0h-1.0zM372.2 83.0h1.0v1.0h-1.0zM377.5 72.3h1.0v1.0h-1.0zM374.3 82.4h1.0v1.0h-1.0zM377.3 100.9h1.0v1.0h-1.0zM357.7 62.5h1.0v1.0h-1.0zM369.2 80.7h1.0v1.0h-1.0zM379.3 76.2h1.0v1.0h-1.0zM309.4 88.7h1.0v1.0h-1.0zM313.6 102.8h1.0v1.0h-1.0zM304.9 92.3h1.0v1.0h-1.0zM311.8 74.0h1.0v1.0h-1.0zM310.7 91.7h1.0v1.0h-1.0z"/>
<path fill="#e2a0e2" d="M348.4 59.6h1.0v1.0h-1.0zM333.9 67.7h1.0v1.0h-1.0zM347.5 60.9h1.0v1.0h-1.0zM380.1 83.1h1.0v1.0h-1.0zM372.9 82.0h1.0v1.0h-1.0zM367.3 62.6h1.0v1.0h-1.0zM364.3 64.3h1.0v1.0h-1.0zM357.0 62.2h1.0v1.0h-1.0zM373.1 65.7h1.0v1.0h-1.0zM355.2 63.2h1.0v1.0h-1.0z"/>
<path fill="#eab4ea" d="M361.7 65.4h1.0v1.0h-1.0zM340.9 58.5h1.0v1.0h-1.0zM342.9 54.9h1.0v1.0h-1.0zM351.5 58.2h1.0v1.0h-1.0zM341.7 67.6h1.0v1.0h-1.0zM339.0 59.8h1.0v1.0h-1.0zM358.2 64.3h1.0v1.0h-1.0zM353.2 55.8h1.0v1.0h-1.0zM339.4 54.7h1.0v1.0h-1.0zM372.4 68.5h1.0v1.0h-1.0zM368.0 62.8h1.0v1.0h-1.0zM376.6 89.1h1.0v1.0h-1.0zM358.9 67.0h1.0v1.0h-1.0zM351.6 65.6h1.0v1.0h-1.0zM370.7 68.1h1.0v1.0h-1.0zM380.1 84.0h1.0v1.0h-1.0zM370.2 71.2h1.0v1.0h-1.0zM372.5 72.8h1.0v1.0h-1.0zM380.7 80.2h1.0v1.0h-1.0zM370.3 63.2h1.0v1.0h-1.0zM365.6 72.6h1.0v1.0h-1.0zM377.5 104.4h1.0v1.0h-1.0z"/>
<path fill="#b5b5b5" d="M342.4 57.8h1.0v1.0h-1.0zM314.8 69.2h1.0v1.0h-1.0zM319.4 67.3h1.0v1.0h-1.0zM333.1 60.8h1.0v1.0h-1.0zM344.5 61.4h1.0v1.0h-1.0zM312.8 65.2h1.0v1.0h-1.0zM345.8 58.6h1.0v1.0h-1.0zM345.9 63.8h1.0v1.0h-1.0zM312.7 68.1h1.0v1.0h-1.0zM330.3 61.5h1.0v1.0h-1.0zM362.5 66.1h1.0v1.0h-1.0zM341.3 62.6h1.0v1.0h-1.0zM339.1 59.1h1.0v1.0h-1.0zM345.7 53.0h1.0v1.0h-1.0zM330.9 60.4h1.0v1.0h-1.0zM314.3 61.7h1.0v1.0h-1.0zM343.1 55.6h1.0v1.0h-1.0zM356.1 64.5h1.0v1.0h-1.0zM345.3 57.6h1.0v1.0h-1.0zM316.8 58.2h1.0v1.0h-1.0zM358.6 62.0h1.0v1.0h-1.0zM346.3 56.0h1.0v1.0h-1.0zM345.2 63.3h1.0v1.0h-1.0zM326.3 68.6h1.0v1.0h-1.0zM360.1 66.3h1.0v1.0h-1.0zM310.5 61.7h1.0v1.0h-1.0zM363.6 69.3h1.0v1.0h-1.0zM330.6 64.0h1.0v1.0h-1.0zM378.7 79.8h1.0v1.0h-1.0zM355.2 64.1h1.0v1.0h-1.0zM380.3 86.8h1.0v1.0h-1.0zM367.9 77.4h1.0v1.0h-1.0zM375.4 81.5h1.0v1.0h-1.0zM375.2 76.5h1.0v1.0h-1.0zM381.9 90.6h1.0v1.0h-1.0zM370.5 67.5h1.0v1.0h-1.0zM373.3 78.0h1.0v1.0h-1.0zM371.8 89.4h1.0v1.0h-1.0zM377.9 100.4h1.0v1.0h-1.0zM382.2 98.8h1.0v1.0h-1.0zM369.4 66.0h1.0v1.0h-1.0zM355.5 60.2h1.0v1.0h-1.0zM357.9 62.2h1.0v1.0h-1.0zM375.7 87.0h1.0v1.0h-1.0zM375.7 79.1h1.0v1.0h-1.0zM375.2 77.4h1.0v1.0h-1.0zM356.5 63.2h1.0v1.0h-1.0zM353.7 58.9h1.0v1.0h-1.0zM378.4 85.4h1.0v1.0h-1.0zM361.9 64.0h1.0v1.0h-1.0zM373.7 74.4h1.0v1.0h-1.0zM358.8 69.1h1.0v1.0h-1.0zM370.3 69.0h1.0v1.0h-1.0zM375.7 78.8h1.0v1.0h-1.0zM378.4 107.5h1.0v1.0h-1.0zM365.6 64.7h1.0v1.0h-1.0zM371.9 73.1h1.0v1.0h-1.0zM359.7 64.0h1.0v1.0h-1.0zM362.5 61.6h1.0v1.0h-1.0zM363.9 66.9h1.0v1.0h-1.0zM373.6 64.2h1.0v1.0h-1.0zM368.6 65.9h1.0v1.0h-1.0zM364.6 66.7h1.0v1.0h-1.0zM375.1 75.5h1.0v1.0h-1.0zM364.8 63.0h1.0v1.0h-1.0zM360.7 62.8h1.0v1.0h-1.0zM376.7 97.7h1.0v1.0h-1.0zM365.8 66.1h1.0v1.0h-1.0zM372.0 72.6h1.0v1.0h-1.0zM375.4 90.1h1.0v1.0h-1.0zM375.9 83.5h1.0v1.0h-1.0zM376.5 81.0h1.0v1.0h-1.0zM374.9 87.2h1.0v1.0h-1.0zM372.9 68.7h1.0v1.0h-1.0zM382.8 107.5h1.0v1.0h-1.0zM379.8 82.6h1.0v1.0h-1.0zM380.6 103.6h1.0v1.0h-1.0zM370.3 65.9h1.0v1.0h-1.0zM372.8 79.0h1.0v1.0h-1.0zM314.3 66.5h1.0v1.0h-1.0zM316.3 68.7h1.0v1.0h-1.0zM315.3 85.9h1.0v1.0h-1.0zM310.9 104.1h1.0v1.0h-1.0zM316.2 82.8h1.0v1.0h-1.0zM314.4 83.2h1.0v1.0h-1.0z"/>
<path fill="#e070e0" d="M317.8 62.2h1.0v1.0h-1.0zM322.2 62.0h1.0v1.0h-1.0zM316.1 59.1h1.0v1.0h-1.0z"/>
<path fill="#d860d8" d="M309.7 61.5h1.0v1.0h-1.0zM318.7 62.0h1.0v1.0h-1.0zM357.7 63.7h1.0v1.0h-1.0zM381.8 98.0h1.0v1.0h-1.0zM377.5 109.7h1.0v1.0h-1.0z"/>
<path fill="#cc55cc" d="M318.0 62.9h1.0v1.0h-1.0zM335.0 64.9h1.0v1.0h-1.0zM320.1 62.9h1.0v1.0h-1.0z"/>
<path fill="#e050e0" d="M381.1 104.1h1.0v1.0h-1.0zM381.2 95.6h1.0v1.0h-1.0zM377.6 104.0h1.0v1.0h-1.0zM371.9 107.0h1.0v1.0h-1.0z"/>
<path fill="#cc44dd" d="M374.0 106.7h1.0v1.0h-1.0z"/>
<path fill="#b0b0b0" d="M312.4 105.0h1.0v1.0h-1.0zM313.2 97.9h1.0v1.0h-1.0zM331.0 97.9h1.0v1.0h-1.0zM335.2 74.1h1.0v1.0h-1.0zM325.9 91.3h1.0v1.0h-1.0zM332.5 75.7h1.0v1.0h-1.0zM331.3 66.7h1.0v1.0h-1.0zM322.4 75.8h1.0v1.0h-1.0z"/>
<path fill="#c8c8c8" d="M326.3 89.9h1.0v1.0h-1.0zM351.1 77.8h1.0v1.0h-1.0zM354.5 88.7h1.0v1.0h-1.0zM336.2 89.8h1.0v1.0h-1.0zM340.9 99.0h1.0v1.0h-1.0zM322.5 99.1h1.0v1.0h-1.0zM341.5 66.6h1.0v1.0h-1.0zM354.3 85.6h1.0v1.0h-1.0zM348.0 98.7h1.0v1.0h-1.0zM356.8 74.9h1.0v1.0h-1.0zM324.6 67.4h1.0v1.0h-1.0zM353.7 69.0h1.0v1.0h-1.0z"/>
<path fill="#d2d2d2" d="M329.4 99.5h1.0v1.0h-1.0zM319.1 68.2h1.0v1.0h-1.0zM353.3 85.3h1.0v1.0h-1.0zM315.3 73.3h1.0v1.0h-1.0zM327.1 102.3h1.0v1.0h-1.0zM344.1 97.8h1.0v1.0h-1.0zM350.0 100.6h1.0v1.0h-1.0zM315.0 69.4h1.0v1.0h-1.0zM319.4 73.6h1.0v1.0h-1.0zM319.6 105.7h1.0v1.0h-1.0zM326.2 69.6h1.0v1.0h-1.0z"/>
<path fill="#bdbdbd" d="M347.2 72.6h1.0v1.0h-1.0zM350.1 92.7h1.0v1.0h-1.0zM332.8 67.8h1.0v1.0h-1.0zM348.6 92.3h1.0v1.0h-1.0zM336.6 68.4h1.0v1.0h-1.0zM311.4 87.5h1.0v1.0h-1.0zM324.9 104.4h1.0v1.0h-1.0zM318.3 69.6h1.0v1.0h-1.0z"/>
<path fill="#dcc4dc" d="M312.3 82.7h1.0v1.0h-1.0zM352.5 99.5h1.0v1.0h-1.0zM351.3 86.1h1.0v1.0h-1.0zM358.2 96.2h1.0v1.0h-1.0zM314.0 94.4h1.0v1.0h-1.0zM312.3 85.5h1.0v1.0h-1.0z"/>
<path fill="#d8b0d8" d="M314.5 89.8h1.0v1.0h-1.0zM317.1 67.2h1.0v1.0h-1.0zM317.3 83.3h1.0v1.0h-1.0zM309.6 66.1h1.0v1.0h-1.0z"/>
<path fill="#e0a0e0" d="M313.9 96.6h1.0v1.0h-1.0zM314.7 81.9h1.0v1.0h-1.0zM316.8 86.6h1.0v1.0h-1.0zM320.1 92.6h1.0v1.0h-1.0zM316.3 77.2h1.0v1.0h-1.0z"/>
<path fill="#e010e0" d="M376.8 109.2h1.1v1.1h-1.1zM377.2 133.9h1.1v1.1h-1.1zM374.8 111.7h1.1v1.1h-1.1zM374.2 114.1h1.1v1.1h-1.1zM374.3 125.1h1.1v1.1h-1.1zM378.6 114.0h1.1v1.1h-1.1zM374.9 123.6h1.1v1.1h-1.1zM375.5 107.6h1.1v1.1h-1.1zM377.1 134.6h1.1v1.1h-1.1zM379.7 130.6h1.1v1.1h-1.1zM378.7 134.3h1.1v1.1h-1.1zM375.4 116.9h1.1v1.1h-1.1zM373.6 129.1h1.1v1.1h-1.1zM379.3 128.3h1.1v1.1h-1.1zM374.6 122.8h1.1v1.1h-1.1zM375.3 125.9h1.1v1.1h-1.1zM376.6 111.6h1.1v1.1h-1.1zM374.0 128.7h1.1v1.1h-1.1zM375.1 117.9h1.1v1.1h-1.1zM378.9 112.4h1.1v1.1h-1.1zM374.7 120.3h1.1v1.1h-1.1zM376.8 107.1h1.1v1.1h-1.1zM378.7 133.0h1.1v1.1h-1.1zM375.6 137.4h1.1v1.1h-1.1zM379.8 115.6h1.1v1.1h-1.1zM378.7 133.9h1.1v1.1h-1.1zM373.5 125.0h1.1v1.1h-1.1zM379.7 119.3h1.1v1.1h-1.1zM374.5 123.9h1.1v1.1h-1.1zM380.4 129.9h1.1v1.1h-1.1zM374.5 134.3h1.1v1.1h-1.1zM380.8 128.8h1.1v1.1h-1.1zM375.0 115.2h1.1v1.1h-1.1zM376.9 109.7h1.1v1.1h-1.1zM374.4 114.0h1.1v1.1h-1.1zM380.9 119.8h1.1v1.1h-1.1zM374.3 130.3h1.1v1.1h-1.1zM376.3 110.3h1.1v1.1h-1.1zM379.0 114.9h1.1v1.1h-1.1zM374.6 123.7h1.1v1.1h-1.1zM379.7 132.8h1.1v1.1h-1.1zM378.6 132.0h1.1v1.1h-1.1zM379.7 118.0h1.1v1.1h-1.1zM377.4 135.5h1.1v1.1h-1.1zM377.7 108.2h1.1v1.1h-1.1zM376.6 132.6h1.1v1.1h-1.1zM374.3 115.4h1.1v1.1h-1.1zM375.9 109.4h1.1v1.1h-1.1zM374.3 111.8h1.1v1.1h-1.1zM379.5 120.3h1.1v1.1h-1.1zM375.8 129.4h1.1v1.1h-1.1zM375.0 112.4h1.1v1.1h-1.1zM375.5 135.6h1.1v1.1h-1.1zM378.3 135.1h1.1v1.1h-1.1zM375.8 107.1h1.1v1.1h-1.1zM379.0 130.8h1.1v1.1h-1.1zM375.4 108.6h1.1v1.1h-1.1zM378.9 113.6h1.1v1.1h-1.1zM374.4 113.9h1.1v1.1h-1.1zM376.3 135.1h1.1v1.1h-1.1zM376.4 111.4h1.1v1.1h-1.1zM379.8 112.0h1.1v1.1h-1.1zM376.8 109.2h1.1v1.1h-1.1zM380.0 117.2h1.1v1.1h-1.1zM380.3 131.5h1.1v1.1h-1.1zM374.7 125.2h1.1v1.1h-1.1zM379.0 110.9h1.1v1.1h-1.1zM376.9 131.8h1.1v1.1h-1.1zM379.3 139.2h1.1v1.1h-1.1zM378.9 110.0h1.1v1.1h-1.1zM374.9 109.6h1.1v1.1h-1.1zM374.1 111.8h1.1v1.1h-1.1zM378.5 109.7h1.1v1.1h-1.1zM374.6 127.5h1.1v1.1h-1.1zM379.2 127.4h1.1v1.1h-1.1zM380.1 123.9h1.1v1.1h-1.1zM379.6 123.1h1.1v1.1h-1.1zM377.4 139.5h1.1v1.1h-1.1zM378.0 132.9h1.1v1.1h-1.1zM379.8 116.4h1.1v1.1h-1.1zM376.2 131.7h1.1v1.1h-1.1zM375.9 111.6h1.1v1.1h-1.1zM375.0 132.7h1.1v1.1h-1.1zM377.6 109.7h1.1v1.1h-1.1zM377.2 108.5h1.1v1.1h-1.1zM372.8 121.1h1.1v1.1h-1.1zM373.0 122.0h1.1v1.1h-1.1zM379.2 115.1h1.1v1.1h-1.1zM378.4 131.5h1.1v1.1h-1.1zM376.6 110.9h1.1v1.1h-1.1zM379.5 117.2h1.1v1.1h-1.1zM376.0 136.5h1.1v1.1h-1.1zM376.1 129.6h1.1v1.1h-1.1zM377.0 109.5h1.1v1.1h-1.1zM377.3 111.5h1.1v1.1h-1.1zM374.8 117.8h1.1v1.1h-1.1z"/>
<path fill="#f080f0" d="M372.9 135.3h1.1v1.1h-1.1zM380.9 119.3h1.1v1.1h-1.1zM377.9 106.8h1.1v1.1h-1.1zM378.9 106.6h1.1v1.1h-1.1zM381.1 133.6h1.1v1.1h-1.1zM373.8 119.7h1.1v1.1h-1.1zM373.6 111.9h1.1v1.1h-1.1zM378.4 95.7h1.1v1.1h-1.1zM380.5 127.8h1.1v1.1h-1.1zM381.9 124.5h1.1v1.1h-1.1zM377.0 95.7h1.1v1.1h-1.1zM373.0 125.5h1.1v1.1h-1.1zM383.7 132.9h1.1v1.1h-1.1zM380.7 125.1h1.1v1.1h-1.1zM374.2 138.9h1.1v1.1h-1.1zM378.0 142.3h1.1v1.1h-1.1zM379.5 140.2h1.1v1.1h-1.1zM377.9 135.8h1.1v1.1h-1.1zM373.7 108.2h1.1v1.1h-1.1zM375.1 105.0h1.1v1.1h-1.1zM380.0 132.0h1.1v1.1h-1.1zM369.4 121.1h1.1v1.1h-1.1zM382.5 127.0h1.1v1.1h-1.1zM374.5 111.7h1.1v1.1h-1.1zM374.1 135.2h1.1v1.1h-1.1zM372.5 118.8h1.1v1.1h-1.1zM379.7 142.1h1.1v1.1h-1.1zM381.1 107.8h1.1v1.1h-1.1zM379.4 105.7h1.1v1.1h-1.1zM373.3 123.7h1.1v1.1h-1.1zM381.0 133.3h1.1v1.1h-1.1zM380.4 136.7h1.1v1.1h-1.1zM380.5 133.4h1.1v1.1h-1.1zM373.3 125.0h1.1v1.1h-1.1zM378.8 95.8h1.1v1.1h-1.1zM374.1 131.7h1.1v1.1h-1.1zM371.8 127.8h1.1v1.1h-1.1zM375.5 135.9h1.1v1.1h-1.1zM372.8 122.3h1.1v1.1h-1.1zM377.9 100.6h1.1v1.1h-1.1zM376.6 138.4h1.1v1.1h-1.1zM380.1 117.6h1.1v1.1h-1.1zM379.2 108.0h1.1v1.1h-1.1zM373.4 109.9h1.1v1.1h-1.1zM379.3 135.3h1.1v1.1h-1.1zM376.4 100.1h1.1v1.1h-1.1zM380.5 137.8h1.1v1.1h-1.1zM379.6 97.4h1.1v1.1h-1.1zM376.3 138.1h1.1v1.1h-1.1zM380.9 131.8h1.1v1.1h-1.1zM377.2 101.3h1.1v1.1h-1.1zM377.4 140.7h1.1v1.1h-1.1zM374.3 121.8h1.1v1.1h-1.1zM377.3 141.3h1.1v1.1h-1.1zM383.1 116.6h1.1v1.1h-1.1zM371.3 114.9h1.1v1.1h-1.1zM379.9 133.8h1.1v1.1h-1.1zM372.3 125.0h1.1v1.1h-1.1zM373.8 108.8h1.1v1.1h-1.1zM375.5 142.4h1.1v1.1h-1.1zM375.7 133.7h1.1v1.1h-1.1zM378.0 143.1h1.1v1.1h-1.1zM372.7 118.1h1.1v1.1h-1.1zM372.5 129.6h1.1v1.1h-1.1zM380.8 136.3h1.1v1.1h-1.1zM380.0 138.9h1.1v1.1h-1.1zM372.7 141.5h1.1v1.1h-1.1zM381.4 113.9h1.1v1.1h-1.1zM377.3 100.4h1.1v1.1h-1.1zM372.5 125.0h1.1v1.1h-1.1zM376.7 108.6h1.1v1.1h-1.1zM380.3 134.8h1.1v1.1h-1.1zM372.2 120.7h1.1v1.1h-1.1zM378.7 138.0h1.1v1.1h-1.1zM376.4 135.7h1.1v1.1h-1.1zM380.3 132.0h1.1v1.1h-1.1zM381.5 128.3h1.1v1.1h-1.1zM374.4 139.0h1.1v1.1h-1.1zM377.0 101.8h1.1v1.1h-1.1zM376.1 139.2h1.1v1.1h-1.1zM371.7 110.2h1.1v1.1h-1.1zM380.3 123.1h1.1v1.1h-1.1zM379.3 105.0h1.1v1.1h-1.1zM377.7 105.1h1.1v1.1h-1.1zM375.9 139.9h1.1v1.1h-1.1zM374.3 137.3h1.1v1.1h-1.1zM373.3 115.5h1.1v1.1h-1.1zM378.3 139.5h1.1v1.1h-1.1zM375.2 106.3h1.1v1.1h-1.1zM373.4 122.1h1.1v1.1h-1.1z"/>
<path fill="#30b070" d="M376.5 120.7h1.1v1.1h-1.1zM378.3 123.6h1.1v1.1h-1.1zM376.5 118.4h1.1v1.1h-1.1zM376.1 120.2h1.1v1.1h-1.1zM377.6 125.0h1.1v1.1h-1.1zM378.2 122.3h1.1v1.1h-1.1zM377.0 117.0h1.1v1.1h-1.1zM377.7 125.9h1.1v1.1h-1.1zM376.9 114.3h1.1v1.1h-1.1zM377.4 119.5h1.1v1.1h-1.1zM377.3 125.4h1.1v1.1h-1.1zM376.8 128.2h1.1v1.1h-1.1zM377.3 125.5h1.1v1.1h-1.1zM377.7 121.4h1.1v1.1h-1.1zM377.1 121.2h1.1v1.1h-1.1zM376.6 125.3h1.1v1.1h-1.1zM377.8 122.1h1.1v1.1h-1.1zM377.8 115.7h1.1v1.1h-1.1zM376.3 116.0h1.1v1.1h-1.1zM376.8 124.1h1.1v1.1h-1.1zM376.2 123.0h1.1v1.1h-1.1zM377.5 120.5h1.1v1.1h-1.1zM378.5 119.7h1.1v1.1h-1.1zM377.4 117.6h1.1v1.1h-1.1z"/>
<path fill="#b8b8b8" d="M370.7 111.1h1.1v1.1h-1.1zM380.3 111.1h1.1v1.1h-1.1zM378.9 103.3h1.1v1.1h-1.1zM380.6 127.4h1.1v1.1h-1.1zM376.4 138.1h1.1v1.1h-1.1zM378.0 101.2h1.1v1.1h-1.1zM378.9 105.1h1.1v1.1h-1.1zM381.3 121.5h1.1v1.1h-1.1zM373.0 131.8h1.1v1.1h-1.1zM377.6 142.2h1.1v1.1h-1.1zM372.7 139.5h1.1v1.1h-1.1zM381.2 124.6h1.1v1.1h-1.1zM378.5 97.4h1.1v1.1h-1.1zM380.5 131.1h1.1v1.1h-1.1zM380.0 142.8h1.1v1.1h-1.1zM374.5 135.7h1.1v1.1h-1.1zM381.2 132.7h1.1v1.1h-1.1zM379.9 101.7h1.1v1.1h-1.1zM376.8 142.3h1.1v1.1h-1.1zM371.3 122.3h1.1v1.1h-1.1zM373.2 115.7h1.1v1.1h-1.1zM381.0 134.2h1.1v1.1h-1.1zM376.9 100.3h1.1v1.1h-1.1zM381.8 107.7h1.1v1.1h-1.1zM374.3 123.0h1.1v1.1h-1.1zM375.9 139.5h1.1v1.1h-1.1zM377.5 141.6h1.1v1.1h-1.1zM380.2 129.0h1.1v1.1h-1.1zM380.2 142.4h1.1v1.1h-1.1zM375.4 138.2h1.1v1.1h-1.1zM378.1 106.5h1.1v1.1h-1.1zM381.2 113.9h1.1v1.1h-1.1zM376.0 134.8h1.1v1.1h-1.1zM378.3 98.7h1.1v1.1h-1.1zM380.5 141.2h1.1v1.1h-1.1zM380.6 130.6h1.1v1.1h-1.1zM377.1 140.5h1.1v1.1h-1.1zM375.9 139.7h1.1v1.1h-1.1zM377.8 104.6h1.1v1.1h-1.1zM378.2 96.4h1.1v1.1h-1.1zM380.3 132.6h1.1v1.1h-1.1zM380.1 112.5h1.1v1.1h-1.1zM382.3 124.2h1.1v1.1h-1.1zM374.8 142.1h1.1v1.1h-1.1zM373.9 113.1h1.1v1.1h-1.1zM376.7 101.4h1.1v1.1h-1.1zM377.0 108.1h1.1v1.1h-1.1zM376.4 100.8h1.1v1.1h-1.1zM376.4 136.9h1.1v1.1h-1.1zM380.5 128.2h1.1v1.1h-1.1zM380.5 127.1h1.1v1.1h-1.1zM370.7 111.2h1.1v1.1h-1.1zM375.9 104.8h1.1v1.1h-1.1zM372.9 129.2h1.1v1.1h-1.1zM375.1 110.0h1.1v1.1h-1.1zM376.6 104.4h1.1v1.1h-1.1zM377.4 140.2h1.1v1.1h-1.1zM376.5 142.0h1.1v1.1h-1.1zM374.3 121.5h1.1v1.1h-1.1zM380.0 137.6h1.1v1.1h-1.1zM384.4 136.1h1.1v1.1h-1.1zM379.6 131.1h1.1v1.1h-1.1zM376.9 142.9h1.1v1.1h-1.1zM380.5 113.7h1.1v1.1h-1.1zM381.1 121.5h1.1v1.1h-1.1zM379.8 103.2h1.1v1.1h-1.1zM382.3 102.8h1.1v1.1h-1.1zM373.8 140.1h1.1v1.1h-1.1zM380.6 141.3h1.1v1.1h-1.1zM371.1 119.5h1.1v1.1h-1.1zM377.5 138.8h1.1v1.1h-1.1zM376.6 134.8h1.1v1.1h-1.1zM375.6 135.8h1.1v1.1h-1.1zM374.3 117.1h1.1v1.1h-1.1zM378.4 136.0h1.1v1.1h-1.1zM380.7 115.8h1.1v1.1h-1.1zM375.2 134.6h1.1v1.1h-1.1zM371.2 136.3h1.1v1.1h-1.1zM377.3 137.5h1.1v1.1h-1.1zM376.0 101.2h1.1v1.1h-1.1zM373.3 131.1h1.1v1.1h-1.1zM373.0 117.2h1.1v1.1h-1.1zM381.2 129.3h1.1v1.1h-1.1zM374.1 134.8h1.1v1.1h-1.1zM375.5 106.7h1.1v1.1h-1.1zM379.6 103.6h1.1v1.1h-1.1zM373.7 140.9h1.1v1.1h-1.1zM379.3 143.1h1.1v1.1h-1.1zM378.9 136.4h1.1v1.1h-1.1zM377.5 107.2h1.1v1.1h-1.1zM376.9 139.8h1.1v1.1h-1.1zM373.8 111.2h1.1v1.1h-1.1zM379.2 132.7h1.1v1.1h-1.1zM380.7 113.7h1.1v1.1h-1.1zM373.3 126.0h1.1v1.1h-1.1zM379.2 102.4h1.1v1.1h-1.1zM375.8 135.3h1.1v1.1h-1.1zM378.3 109.0h1.1v1.1h-1.1zM373.8 121.6h1.1v1.1h-1.1zM374.9 107.9h1.1v1.1h-1.1zM373.5 117.8h1.1v1.1h-1.1zM379.3 106.5h1.1v1.1h-1.1zM381.7 130.9h1.1v1.1h-1.1zM374.6 108.9h1.1v1.1h-1.1zM381.0 131.1h1.1v1.1h-1.1zM381.7 136.8h1.1v1.1h-1.1zM376.2 142.1h1.1v1.1h-1.1zM382.1 132.2h1.1v1.1h-1.1zM379.3 99.7h1.1v1.1h-1.1zM380.6 122.6h1.1v1.1h-1.1zM372.1 141.7h1.1v1.1h-1.1zM380.8 109.9h1.1v1.1h-1.1zM378.3 138.0h1.1v1.1h-1.1z"/>
<path fill="#d000d8" d="M376.2 110.6h1.1v1.1h-1.1zM375.4 133.5h1.1v1.1h-1.1zM374.2 129.7h1.1v1.1h-1.1zM377.2 135.2h1.1v1.1h-1.1zM379.9 126.2h1.1v1.1h-1.1zM375.1 115.6h1.1v1.1h-1.1zM376.4 132.1h1.1v1.1h-1.1zM374.1 113.5h1.1v1.1h-1.1zM377.8 139.8h1.1v1.1h-1.1zM379.9 117.6h1.1v1.1h-1.1zM374.7 122.8h1.1v1.1h-1.1zM379.3 129.7h1.1v1.1h-1.1zM377.8 131.7h1.1v1.1h-1.1zM379.4 129.0h1.1v1.1h-1.1zM377.9 131.5h1.1v1.1h-1.1zM379.9 119.6h1.1v1.1h-1.1zM375.6 132.5h1.1v1.1h-1.1zM379.9 117.7h1.1v1.1h-1.1zM376.8 137.0h1.1v1.1h-1.1zM374.1 122.6h1.1v1.1h-1.1zM374.5 124.8h1.1v1.1h-1.1zM376.3 111.1h1.1v1.1h-1.1zM378.8 113.7h1.1v1.1h-1.1zM373.9 128.3h1.1v1.1h-1.1zM373.9 130.0h1.1v1.1h-1.1zM379.8 127.9h1.1v1.1h-1.1zM375.6 128.4h1.1v1.1h-1.1zM376.8 134.1h1.1v1.1h-1.1zM379.3 133.5h1.1v1.1h-1.1zM374.7 111.9h1.1v1.1h-1.1zM378.4 111.2h1.1v1.1h-1.1zM374.0 129.1h1.1v1.1h-1.1zM377.2 130.9h1.1v1.1h-1.1zM377.0 131.1h1.1v1.1h-1.1zM377.6 139.7h1.1v1.1h-1.1zM374.6 116.8h1.1v1.1h-1.1zM375.5 131.2h1.1v1.1h-1.1zM375.3 133.1h1.1v1.1h-1.1zM375.1 130.5h1.1v1.1h-1.1zM378.7 136.5h1.1v1.1h-1.1zM380.6 123.3h1.1v1.1h-1.1zM380.3 121.3h1.1v1.1h-1.1zM376.0 133.8h1.1v1.1h-1.1zM380.0 122.7h1.1v1.1h-1.1zM375.0 110.0h1.1v1.1h-1.1z"/>
<path fill="#d020e0" d="M375.5 123.3h1.1v1.1h-1.1zM379.5 123.7h1.1v1.1h-1.1zM376.6 114.5h1.1v1.1h-1.1zM376.2 115.4h1.1v1.1h-1.1zM378.7 111.8h1.1v1.1h-1.1zM375.0 121.7h1.1v1.1h-1.1zM377.1 132.9h1.1v1.1h-1.1zM376.9 111.4h1.1v1.1h-1.1zM377.9 115.0h1.1v1.1h-1.1zM376.7 112.8h1.1v1.1h-1.1zM377.6 132.9h1.1v1.1h-1.1zM377.4 132.5h1.1v1.1h-1.1zM375.8 115.1h1.1v1.1h-1.1zM376.8 132.9h1.1v1.1h-1.1zM378.5 125.2h1.1v1.1h-1.1zM375.6 117.6h1.1v1.1h-1.1zM379.6 126.9h1.1v1.1h-1.1zM378.9 121.5h1.1v1.1h-1.1zM376.9 127.7h1.1v1.1h-1.1zM375.7 114.4h1.1v1.1h-1.1zM377.9 129.3h1.1v1.1h-1.1zM375.9 130.3h1.1v1.1h-1.1zM377.6 111.5h1.1v1.1h-1.1zM376.3 111.2h1.1v1.1h-1.1zM377.9 129.4h1.1v1.1h-1.1zM378.5 123.9h1.1v1.1h-1.1zM376.6 111.6h1.1v1.1h-1.1zM378.4 129.1h1.1v1.1h-1.1zM376.5 128.0h1.1v1.1h-1.1zM377.5 112.5h1.1v1.1h-1.1zM378.5 117.1h1.1v1.1h-1.1zM378.8 124.0h1.1v1.1h-1.1zM375.9 122.1h1.1v1.1h-1.1zM377.9 115.9h1.1v1.1h-1.1zM376.5 127.5h1.1v1.1h-1.1zM375.6 127.1h1.1v1.1h-1.1zM377.4 130.0h1.1v1.1h-1.1zM377.8 128.9h1.1v1.1h-1.1zM378.3 115.9h1.1v1.1h-1.1zM378.6 117.4h1.1v1.1h-1.1zM376.5 131.9h1.1v1.1h-1.1zM378.4 118.9h1.1v1.1h-1.1zM378.9 120.7h1.1v1.1h-1.1zM375.6 114.7h1.1v1.1h-1.1zM377.0 115.5h1.1v1.1h-1.1zM378.5 120.6h1.1v1.1h-1.1zM377.3 112.1h1.1v1.1h-1.1zM377.2 133.0h1.1v1.1h-1.1zM375.7 111.6h1.1v1.1h-1.1zM378.2 133.5h1.1v1.1h-1.1zM376.3 131.0h1.1v1.1h-1.1zM375.4 120.0h1.1v1.1h-1.1zM379.9 121.2h1.1v1.1h-1.1zM379.6 126.0h1.1v1.1h-1.1z"/>
<path fill="#d8a0dc" d="M375.1 110.5h1.1v1.1h-1.1zM381.0 123.7h1.1v1.1h-1.1zM374.0 123.5h1.1v1.1h-1.1zM372.4 129.6h1.1v1.1h-1.1zM370.8 138.2h1.1v1.1h-1.1zM381.6 107.1h1.1v1.1h-1.1zM380.1 132.9h1.1v1.1h-1.1zM378.2 135.1h1.1v1.1h-1.1zM376.2 108.8h1.1v1.1h-1.1zM373.7 141.4h1.1v1.1h-1.1zM380.8 134.0h1.1v1.1h-1.1zM380.9 130.5h1.1v1.1h-1.1zM380.6 106.0h1.1v1.1h-1.1zM374.8 134.3h1.1v1.1h-1.1zM380.3 123.4h1.1v1.1h-1.1zM376.1 138.7h1.1v1.1h-1.1zM375.8 140.6h1.1v1.1h-1.1zM378.6 137.5h1.1v1.1h-1.1zM380.7 114.3h1.1v1.1h-1.1zM371.5 118.0h1.1v1.1h-1.1zM381.9 135.6h1.1v1.1h-1.1zM378.7 106.8h1.1v1.1h-1.1zM381.0 125.9h1.1v1.1h-1.1zM375.9 107.6h1.1v1.1h-1.1zM380.4 136.4h1.1v1.1h-1.1zM380.9 113.2h1.1v1.1h-1.1zM374.7 109.8h1.1v1.1h-1.1zM379.7 132.3h1.1v1.1h-1.1zM378.0 102.5h1.1v1.1h-1.1zM376.1 139.5h1.1v1.1h-1.1zM376.2 140.9h1.1v1.1h-1.1zM374.4 129.7h1.1v1.1h-1.1zM378.4 104.9h1.1v1.1h-1.1zM375.4 137.3h1.1v1.1h-1.1zM381.4 119.1h1.1v1.1h-1.1zM374.9 113.5h1.1v1.1h-1.1zM376.1 138.9h1.1v1.1h-1.1zM376.5 135.7h1.1v1.1h-1.1zM382.3 118.4h1.1v1.1h-1.1zM374.0 107.2h1.1v1.1h-1.1zM371.7 140.9h1.1v1.1h-1.1zM372.9 122.8h1.1v1.1h-1.1zM374.9 132.6h1.1v1.1h-1.1zM377.8 135.8h1.1v1.1h-1.1zM375.1 133.3h1.1v1.1h-1.1zM376.6 99.4h1.1v1.1h-1.1zM379.3 96.8h1.1v1.1h-1.1zM374.5 108.8h1.1v1.1h-1.1zM381.0 111.7h1.1v1.1h-1.1zM381.3 128.9h1.1v1.1h-1.1zM374.9 139.0h1.1v1.1h-1.1zM373.7 111.6h1.1v1.1h-1.1zM374.7 138.3h1.1v1.1h-1.1zM375.5 137.8h1.1v1.1h-1.1zM374.5 134.9h1.1v1.1h-1.1zM373.8 107.1h1.1v1.1h-1.1zM380.4 113.9h1.1v1.1h-1.1zM377.5 106.7h1.1v1.1h-1.1zM373.9 120.2h1.1v1.1h-1.1zM374.4 139.8h1.1v1.1h-1.1zM374.2 113.4h1.1v1.1h-1.1zM374.8 129.7h1.1v1.1h-1.1zM375.9 138.6h1.1v1.1h-1.1zM378.4 140.4h1.1v1.1h-1.1zM372.5 124.8h1.1v1.1h-1.1zM379.2 98.8h1.1v1.1h-1.1zM379.0 138.0h1.1v1.1h-1.1zM380.9 138.3h1.1v1.1h-1.1zM382.1 124.0h1.1v1.1h-1.1zM374.3 130.3h1.1v1.1h-1.1zM377.6 135.1h1.1v1.1h-1.1zM380.5 135.4h1.1v1.1h-1.1zM377.3 106.6h1.1v1.1h-1.1zM379.5 105.8h1.1v1.1h-1.1zM377.4 107.1h1.1v1.1h-1.1zM380.7 139.7h1.1v1.1h-1.1zM378.5 140.5h1.1v1.1h-1.1zM376.9 105.1h1.1v1.1h-1.1zM378.3 140.9h1.1v1.1h-1.1zM375.7 142.6h1.1v1.1h-1.1zM372.1 129.7h1.1v1.1h-1.1zM381.9 124.6h1.1v1.1h-1.1zM376.7 140.9h1.1v1.1h-1.1zM379.9 110.3h1.1v1.1h-1.1zM375.1 133.4h1.1v1.1h-1.1zM379.4 131.7h1.1v1.1h-1.1zM375.3 137.8h1.1v1.1h-1.1zM375.4 105.5h1.1v1.1h-1.1zM377.0 104.7h1.1v1.1h-1.1zM374.6 112.0h1.1v1.1h-1.1zM377.8 134.8h1.1v1.1h-1.1zM372.6 136.4h1.1v1.1h-1.1zM378.2 105.4h1.1v1.1h-1.1zM379.9 105.2h1.1v1.1h-1.1zM376.4 136.9h1.1v1.1h-1.1zM374.6 131.0h1.1v1.1h-1.1zM378.2 96.4h1.1v1.1h-1.1zM377.2 136.9h1.1v1.1h-1.1zM378.1 140.9h1.1v1.1h-1.1zM377.4 102.7h1.1v1.1h-1.1zM375.6 134.5h1.1v1.1h-1.1zM381.5 131.2h1.1v1.1h-1.1zM376.4 100.6h1.1v1.1h-1.1zM381.4 112.2h1.1v1.1h-1.1zM373.4 128.6h1.1v1.1h-1.1zM380.3 126.6h1.1v1.1h-1.1zM377.5 137.6h1.1v1.1h-1.1zM375.6 109.1h1.1v1.1h-1.1zM379.2 108.3h1.1v1.1h-1.1zM378.8 136.1h1.1v1.1h-1.1zM380.8 131.7h1.1v1.1h-1.1zM372.7 126.1h1.1v1.1h-1.1zM373.3 112.7h1.1v1.1h-1.1z"/>
<path fill="#10a030" d="M376.3 127.6h1.1v1.1h-1.1zM377.2 125.0h1.1v1.1h-1.1zM375.9 119.7h1.1v1.1h-1.1zM378.3 121.7h1.1v1.1h-1.1zM378.1 121.0h1.1v1.1h-1.1zM377.2 114.9h1.1v1.1h-1.1zM376.5 118.1h1.1v1.1h-1.1zM376.3 115.4h1.1v1.1h-1.1zM376.7 122.0h1.1v1.1h-1.1zM376.0 122.6h1.1v1.1h-1.1zM378.1 125.1h1.1v1.1h-1.1zM376.6 128.7h1.1v1.1h-1.1zM377.7 126.1h1.1v1.1h-1.1zM377.1 117.7h1.1v1.1h-1.1zM376.7 119.2h1.1v1.1h-1.1zM376.7 118.2h1.1v1.1h-1.1zM377.2 125.2h1.1v1.1h-1.1zM378.1 120.9h1.1v1.1h-1.1zM375.9 120.0h1.1v1.1h-1.1zM376.3 120.6h1.1v1.1h-1.1zM377.0 119.5h1.1v1.1h-1.1zM376.3 122.5h1.1v1.1h-1.1zM376.3 121.5h1.1v1.1h-1.1zM377.0 117.3h1.1v1.1h-1.1zM376.8 128.7h1.1v1.1h-1.1zM378.0 124.9h1.1v1.1h-1.1zM376.7 118.2h1.1v1.1h-1.1zM377.0 123.6h1.1v1.1h-1.1zM376.3 126.5h1.1v1.1h-1.1zM377.2 115.6h1.1v1.1h-1.1zM377.5 120.2h1.1v1.1h-1.1zM377.0 125.5h1.1v1.1h-1.1zM377.3 127.7h1.1v1.1h-1.1zM377.2 122.0h1.1v1.1h-1.1zM378.1 123.1h1.1v1.1h-1.1zM375.9 125.7h1.1v1.1h-1.1zM376.3 120.2h1.1v1.1h-1.1zM376.9 127.8h1.1v1.1h-1.1zM377.0 121.1h1.1v1.1h-1.1zM378.1 121.9h1.1v1.1h-1.1zM377.8 117.7h1.1v1.1h-1.1z"/>
<path fill="#ff30ff" d="M374.7 127.4h1.1v1.1h-1.1zM375.5 110.1h1.1v1.1h-1.1zM373.8 121.5h1.1v1.1h-1.1zM377.3 110.9h1.1v1.1h-1.1zM377.8 108.9h1.1v1.1h-1.1zM376.0 109.3h1.1v1.1h-1.1zM379.5 131.4h1.1v1.1h-1.1zM379.8 122.9h1.1v1.1h-1.1zM375.1 127.5h1.1v1.1h-1.1zM375.8 110.5h1.1v1.1h-1.1zM374.4 126.8h1.1v1.1h-1.1zM375.8 112.3h1.1v1.1h-1.1zM374.9 119.4h1.1v1.1h-1.1zM379.0 116.2h1.1v1.1h-1.1zM375.1 121.8h1.1v1.1h-1.1zM374.9 118.8h1.1v1.1h-1.1zM378.1 110.9h1.1v1.1h-1.1zM374.5 109.8h1.1v1.1h-1.1zM376.0 113.0h1.1v1.1h-1.1zM377.9 133.0h1.1v1.1h-1.1zM378.8 108.2h1.1v1.1h-1.1zM374.7 137.4h1.1v1.1h-1.1zM379.5 113.2h1.1v1.1h-1.1zM378.7 126.8h1.1v1.1h-1.1zM375.3 117.6h1.1v1.1h-1.1zM374.7 114.7h1.1v1.1h-1.1zM378.9 134.4h1.1v1.1h-1.1zM375.6 132.2h1.1v1.1h-1.1zM380.7 121.7h1.1v1.1h-1.1zM378.7 110.9h1.1v1.1h-1.1zM379.7 128.2h1.1v1.1h-1.1zM379.8 118.9h1.1v1.1h-1.1zM374.4 123.3h1.1v1.1h-1.1zM374.2 119.3h1.1v1.1h-1.1zM378.3 132.1h1.1v1.1h-1.1zM379.0 134.9h1.1v1.1h-1.1zM374.9 123.9h1.1v1.1h-1.1zM379.5 125.9h1.1v1.1h-1.1zM376.9 135.2h1.1v1.1h-1.1zM377.4 136.4h1.1v1.1h-1.1zM379.6 125.2h1.1v1.1h-1.1zM376.2 132.3h1.1v1.1h-1.1zM374.6 112.7h1.1v1.1h-1.1zM379.5 123.1h1.1v1.1h-1.1zM379.7 118.7h1.1v1.1h-1.1zM375.4 133.6h1.1v1.1h-1.1zM378.7 140.0h1.1v1.1h-1.1zM374.1 112.6h1.1v1.1h-1.1zM377.7 133.6h1.1v1.1h-1.1zM376.1 111.4h1.1v1.1h-1.1zM374.3 112.9h1.1v1.1h-1.1zM381.1 120.6h1.1v1.1h-1.1zM376.2 132.1h1.1v1.1h-1.1zM376.2 135.2h1.1v1.1h-1.1z"/>
<path fill="#4060ff" d="M379.2 126.9h1.1v1.1h-1.1zM375.1 123.0h1.1v1.1h-1.1zM376.9 126.8h1.1v1.1h-1.1zM378.9 116.2h1.1v1.1h-1.1zM377.0 113.3h1.1v1.1h-1.1zM375.0 116.6h1.1v1.1h-1.1zM378.3 126.9h1.1v1.1h-1.1zM376.4 126.5h1.1v1.1h-1.1zM377.8 117.6h1.1v1.1h-1.1zM377.3 113.8h1.1v1.1h-1.1zM375.5 124.1h1.1v1.1h-1.1zM378.3 124.4h1.1v1.1h-1.1zM374.9 125.0h1.1v1.1h-1.1zM379.5 128.3h1.1v1.1h-1.1zM378.9 127.2h1.1v1.1h-1.1zM375.5 122.6h1.1v1.1h-1.1zM375.4 115.8h1.1v1.1h-1.1zM379.2 122.6h1.1v1.1h-1.1zM377.8 115.1h1.1v1.1h-1.1zM375.9 116.5h1.1v1.1h-1.1zM378.1 117.0h1.1v1.1h-1.1zM375.7 131.4h1.1v1.1h-1.1zM376.0 124.7h1.1v1.1h-1.1zM378.6 117.0h1.1v1.1h-1.1zM378.5 120.0h1.1v1.1h-1.1zM377.5 114.6h1.1v1.1h-1.1zM378.9 119.4h1.1v1.1h-1.1zM377.2 127.2h1.1v1.1h-1.1zM376.6 127.1h1.1v1.1h-1.1zM378.0 125.1h1.1v1.1h-1.1zM377.6 134.3h1.1v1.1h-1.1zM376.8 115.7h1.1v1.1h-1.1zM377.7 130.5h1.1v1.1h-1.1zM377.4 114.4h1.1v1.1h-1.1zM374.9 122.4h1.1v1.1h-1.1zM377.8 128.5h1.1v1.1h-1.1zM376.1 125.8h1.1v1.1h-1.1zM377.4 116.0h1.1v1.1h-1.1zM377.8 114.9h1.1v1.1h-1.1zM374.8 116.7h1.1v1.1h-1.1zM375.9 115.8h1.1v1.1h-1.1zM376.6 130.6h1.1v1.1h-1.1zM376.7 115.9h1.1v1.1h-1.1zM376.8 128.8h1.1v1.1h-1.1zM375.9 125.2h1.1v1.1h-1.1zM377.0 129.4h1.1v1.1h-1.1zM376.8 128.0h1.1v1.1h-1.1zM376.2 114.9h1.1v1.1h-1.1zM377.6 130.7h1.1v1.1h-1.1z"/>
<path fill="#f020f0" d="M374.1 122.1h1.1v1.1h-1.1zM374.8 113.6h1.1v1.1h-1.1zM376.8 130.8h1.1v1.1h-1.1zM375.1 128.1h1.1v1.1h-1.1zM378.4 132.9h1.1v1.1h-1.1zM375.2 137.3h1.1v1.1h-1.1zM375.7 136.3h1.1v1.1h-1.1zM374.4 122.3h1.1v1.1h-1.1zM376.1 129.7h1.1v1.1h-1.1zM374.0 124.6h1.1v1.1h-1.1zM373.4 128.4h1.1v1.1h-1.1zM378.1 134.5h1.1v1.1h-1.1zM379.2 117.8h1.1v1.1h-1.1zM378.3 130.7h1.1v1.1h-1.1zM374.8 115.2h1.1v1.1h-1.1zM376.1 133.9h1.1v1.1h-1.1zM378.0 134.0h1.1v1.1h-1.1zM380.5 128.8h1.1v1.1h-1.1zM377.6 131.9h1.1v1.1h-1.1zM378.6 134.4h1.1v1.1h-1.1zM379.2 118.5h1.1v1.1h-1.1zM379.2 132.6h1.1v1.1h-1.1zM373.9 114.0h1.1v1.1h-1.1zM376.7 131.9h1.1v1.1h-1.1zM378.7 110.5h1.1v1.1h-1.1zM376.0 108.3h1.1v1.1h-1.1zM376.4 135.7h1.1v1.1h-1.1zM375.7 130.6h1.1v1.1h-1.1zM375.3 126.7h1.1v1.1h-1.1zM377.8 138.5h1.1v1.1h-1.1zM375.6 129.5h1.1v1.1h-1.1zM379.0 113.1h1.1v1.1h-1.1zM376.1 131.7h1.1v1.1h-1.1zM380.0 115.4h1.1v1.1h-1.1zM379.0 135.9h1.1v1.1h-1.1zM374.6 125.9h1.1v1.1h-1.1zM376.5 111.5h1.1v1.1h-1.1zM379.5 129.6h1.1v1.1h-1.1zM375.2 110.8h1.1v1.1h-1.1zM380.9 112.2h1.1v1.1h-1.1zM377.6 108.4h1.1v1.1h-1.1zM374.2 122.5h1.1v1.1h-1.1zM376.2 129.4h1.1v1.1h-1.1zM379.4 121.9h1.1v1.1h-1.1zM379.2 117.0h1.1v1.1h-1.1zM373.7 122.8h1.1v1.1h-1.1zM375.5 135.3h1.1v1.1h-1.1zM376.4 134.3h1.1v1.1h-1.1zM379.3 116.9h1.1v1.1h-1.1zM374.6 120.1h1.1v1.1h-1.1zM376.5 108.3h1.1v1.1h-1.1zM375.5 129.7h1.1v1.1h-1.1zM377.1 108.7h1.1v1.1h-1.1zM377.2 136.1h1.1v1.1h-1.1zM378.6 132.0h1.1v1.1h-1.1zM380.1 111.9h1.1v1.1h-1.1zM376.2 134.1h1.1v1.1h-1.1zM378.6 110.2h1.1v1.1h-1.1zM378.6 127.6h1.1v1.1h-1.1zM378.1 132.1h1.1v1.1h-1.1z"/>
<path fill="#30c0d0" d="M378.1 127.9h1.1v1.1h-1.1zM376.5 129.3h1.1v1.1h-1.1zM377.0 127.2h1.1v1.1h-1.1zM379.0 112.8h1.1v1.1h-1.1zM375.4 119.5h1.1v1.1h-1.1zM376.9 130.3h1.1v1.1h-1.1zM376.0 128.1h1.1v1.1h-1.1zM376.7 127.6h1.1v1.1h-1.1zM378.2 129.4h1.1v1.1h-1.1zM379.3 123.1h1.1v1.1h-1.1zM375.7 126.8h1.1v1.1h-1.1zM375.2 118.1h1.1v1.1h-1.1zM374.8 126.0h1.1v1.1h-1.1zM377.2 130.6h1.1v1.1h-1.1zM374.5 119.8h1.1v1.1h-1.1zM376.1 114.3h1.1v1.1h-1.1zM379.6 117.8h1.1v1.1h-1.1zM378.3 115.7h1.1v1.1h-1.1zM375.9 121.7h1.1v1.1h-1.1zM377.8 115.1h1.1v1.1h-1.1zM378.6 120.3h1.1v1.1h-1.1zM379.2 122.1h1.1v1.1h-1.1zM377.2 129.8h1.1v1.1h-1.1zM375.5 131.1h1.1v1.1h-1.1zM376.5 113.5h1.1v1.1h-1.1zM378.6 116.9h1.1v1.1h-1.1zM377.8 129.2h1.1v1.1h-1.1zM376.5 113.4h1.1v1.1h-1.1zM375.9 124.2h1.1v1.1h-1.1zM376.3 135.8h1.1v1.1h-1.1zM378.8 119.9h1.1v1.1h-1.1zM375.7 121.3h1.1v1.1h-1.1zM376.8 130.1h1.1v1.1h-1.1zM377.2 128.4h1.1v1.1h-1.1zM378.7 119.1h1.1v1.1h-1.1zM379.5 126.9h1.1v1.1h-1.1zM375.6 116.9h1.1v1.1h-1.1zM375.0 117.2h1.1v1.1h-1.1zM375.4 126.1h1.1v1.1h-1.1zM379.1 121.1h1.1v1.1h-1.1zM378.2 116.8h1.1v1.1h-1.1zM376.2 118.6h1.1v1.1h-1.1zM377.8 125.4h1.1v1.1h-1.1z"/>
<path fill="#2090e0" d="M379.2 111.9h1.1v1.1h-1.1zM378.4 115.5h1.1v1.1h-1.1zM375.9 118.5h1.1v1.1h-1.1zM375.8 114.5h1.1v1.1h-1.1zM376.7 128.3h1.1v1.1h-1.1zM377.4 112.9h1.1v1.1h-1.1zM376.8 112.8h1.1v1.1h-1.1zM377.0 126.4h1.1v1.1h-1.1zM376.5 129.1h1.1v1.1h-1.1zM378.7 113.9h1.1v1.1h-1.1zM378.5 115.3h1.1v1.1h-1.1zM378.1 115.3h1.1v1.1h-1.1zM378.7 117.4h1.1v1.1h-1.1zM376.4 129.7h1.1v1.1h-1.1zM376.9 131.8h1.1v1.1h-1.1zM376.1 131.7h1.1v1.1h-1.1zM376.8 131.2h1.1v1.1h-1.1zM375.9 127.5h1.1v1.1h-1.1zM375.3 126.4h1.1v1.1h-1.1zM378.4 124.2h1.1v1.1h-1.1zM377.7 109.0h1.1v1.1h-1.1zM377.5 115.1h1.1v1.1h-1.1zM376.4 129.1h1.1v1.1h-1.1zM375.2 113.0h1.1v1.1h-1.1zM378.2 115.9h1.1v1.1h-1.1zM378.5 122.8h1.1v1.1h-1.1zM376.7 130.8h1.1v1.1h-1.1zM377.1 131.0h1.1v1.1h-1.1zM375.6 116.4h1.1v1.1h-1.1zM375.4 123.8h1.1v1.1h-1.1zM378.1 127.0h1.1v1.1h-1.1zM375.9 126.2h1.1v1.1h-1.1zM376.8 128.4h1.1v1.1h-1.1zM375.0 112.6h1.1v1.1h-1.1zM377.7 126.3h1.1v1.1h-1.1zM377.4 129.5h1.1v1.1h-1.1zM377.6 111.4h1.1v1.1h-1.1zM377.9 129.9h1.1v1.1h-1.1zM376.0 127.9h1.1v1.1h-1.1zM377.8 117.2h1.1v1.1h-1.1zM379.9 114.3h1.1v1.1h-1.1zM377.2 129.1h1.1v1.1h-1.1zM375.3 113.7h1.1v1.1h-1.1zM375.9 122.6h1.1v1.1h-1.1zM376.4 108.8h1.1v1.1h-1.1zM377.9 130.8h1.1v1.1h-1.1zM375.4 129.4h1.1v1.1h-1.1zM379.1 118.5h1.1v1.1h-1.1zM375.6 124.6h1.1v1.1h-1.1zM379.1 120.7h1.1v1.1h-1.1zM377.7 112.8h1.1v1.1h-1.1zM376.6 114.8h1.1v1.1h-1.1z"/>
<path fill="#5050f0" d="M378.6 132.5h1.1v1.1h-1.1zM374.2 129.2h1.1v1.1h-1.1zM374.9 134.1h1.1v1.1h-1.1zM379.4 110.9h1.1v1.1h-1.1zM377.3 112.3h1.1v1.1h-1.1zM373.6 116.1h1.1v1.1h-1.1zM379.6 118.3h1.1v1.1h-1.1zM376.1 111.9h1.1v1.1h-1.1zM377.0 110.8h1.1v1.1h-1.1zM378.5 133.1h1.1v1.1h-1.1zM374.7 122.7h1.1v1.1h-1.1zM375.3 114.4h1.1v1.1h-1.1zM375.6 135.3h1.1v1.1h-1.1zM375.2 130.0h1.1v1.1h-1.1zM379.5 119.0h1.1v1.1h-1.1zM376.9 133.3h1.1v1.1h-1.1zM378.5 130.9h1.1v1.1h-1.1zM373.0 129.1h1.1v1.1h-1.1zM375.8 111.9h1.1v1.1h-1.1zM379.5 109.9h1.1v1.1h-1.1zM379.6 132.3h1.1v1.1h-1.1zM374.6 131.1h1.1v1.1h-1.1zM378.3 138.1h1.1v1.1h-1.1zM378.6 112.8h1.1v1.1h-1.1zM379.0 114.5h1.1v1.1h-1.1zM376.1 110.9h1.1v1.1h-1.1zM375.2 114.0h1.1v1.1h-1.1zM375.7 113.7h1.1v1.1h-1.1zM379.1 119.3h1.1v1.1h-1.1zM373.5 124.8h1.1v1.1h-1.1zM379.0 113.9h1.1v1.1h-1.1zM379.6 124.1h1.1v1.1h-1.1zM378.6 111.2h1.1v1.1h-1.1zM377.8 130.9h1.1v1.1h-1.1zM380.0 112.3h1.1v1.1h-1.1zM374.7 125.0h1.1v1.1h-1.1zM379.2 136.6h1.1v1.1h-1.1zM376.6 135.6h1.1v1.1h-1.1zM375.3 114.2h1.1v1.1h-1.1zM374.7 119.8h1.1v1.1h-1.1zM377.3 134.1h1.1v1.1h-1.1zM375.1 112.3h1.1v1.1h-1.1zM374.6 129.7h1.1v1.1h-1.1zM378.0 132.8h1.1v1.1h-1.1zM377.0 135.0h1.1v1.1h-1.1zM377.7 111.9h1.1v1.1h-1.1zM378.4 113.3h1.1v1.1h-1.1zM379.9 132.0h1.1v1.1h-1.1zM379.3 121.0h1.1v1.1h-1.1zM374.6 123.5h1.1v1.1h-1.1zM374.4 132.4h1.1v1.1h-1.1zM377.3 131.4h1.1v1.1h-1.1zM377.3 110.5h1.1v1.1h-1.1zM378.6 133.7h1.1v1.1h-1.1zM377.0 133.1h1.1v1.1h-1.1zM375.0 130.1h1.1v1.1h-1.1zM379.6 122.0h1.1v1.1h-1.1z"/>
<path fill="#e030e8" d="M373.8 108.6h1.1v1.1h-1.1zM378.8 134.7h1.1v1.1h-1.1zM370.9 129.9h1.1v1.1h-1.1zM383.2 117.8h1.1v1.1h-1.1zM376.9 106.9h1.1v1.1h-1.1zM372.7 119.5h1.1v1.1h-1.1zM382.2 128.7h1.1v1.1h-1.1zM378.6 138.5h1.1v1.1h-1.1zM380.9 104.8h1.1v1.1h-1.1zM372.8 129.8h1.1v1.1h-1.1zM380.9 120.3h1.1v1.1h-1.1zM375.7 135.6h1.1v1.1h-1.1zM378.2 137.1h1.1v1.1h-1.1zM379.0 134.7h1.1v1.1h-1.1zM378.5 104.4h1.1v1.1h-1.1zM381.5 126.1h1.1v1.1h-1.1zM381.4 125.1h1.1v1.1h-1.1zM380.4 121.1h1.1v1.1h-1.1zM377.9 101.5h1.1v1.1h-1.1zM372.5 130.0h1.1v1.1h-1.1zM378.2 100.3h1.1v1.1h-1.1zM375.7 105.3h1.1v1.1h-1.1zM377.8 98.2h1.1v1.1h-1.1zM380.0 137.2h1.1v1.1h-1.1zM378.0 96.8h1.1v1.1h-1.1zM374.6 138.3h1.1v1.1h-1.1zM377.7 140.8h1.1v1.1h-1.1zM379.2 135.6h1.1v1.1h-1.1zM375.4 136.1h1.1v1.1h-1.1zM374.5 125.4h1.1v1.1h-1.1zM371.6 118.6h1.1v1.1h-1.1zM371.2 117.6h1.1v1.1h-1.1zM375.3 135.7h1.1v1.1h-1.1zM382.2 141.8h1.1v1.1h-1.1zM377.1 140.1h1.1v1.1h-1.1zM373.9 109.9h1.1v1.1h-1.1zM379.0 141.0h1.1v1.1h-1.1zM379.9 128.0h1.1v1.1h-1.1zM372.7 131.7h1.1v1.1h-1.1zM374.7 107.3h1.1v1.1h-1.1zM379.3 131.9h1.1v1.1h-1.1zM375.9 100.1h1.1v1.1h-1.1zM370.7 127.1h1.1v1.1h-1.1zM373.5 112.0h1.1v1.1h-1.1zM381.3 112.5h1.1v1.1h-1.1zM381.7 117.6h1.1v1.1h-1.1zM376.7 141.5h1.1v1.1h-1.1zM378.0 106.7h1.1v1.1h-1.1zM373.8 117.7h1.1v1.1h-1.1zM372.6 129.7h1.1v1.1h-1.1zM380.4 114.7h1.1v1.1h-1.1zM379.2 130.1h1.1v1.1h-1.1zM374.2 114.4h1.1v1.1h-1.1zM381.7 120.9h1.1v1.1h-1.1zM380.4 129.0h1.1v1.1h-1.1zM374.6 108.9h1.1v1.1h-1.1zM379.9 129.8h1.1v1.1h-1.1zM384.7 121.9h1.1v1.1h-1.1zM375.4 110.2h1.1v1.1h-1.1zM379.2 103.1h1.1v1.1h-1.1zM373.2 108.8h1.1v1.1h-1.1zM377.7 141.6h1.1v1.1h-1.1zM378.8 104.0h1.1v1.1h-1.1zM376.1 105.9h1.1v1.1h-1.1zM376.6 136.0h1.1v1.1h-1.1zM374.1 130.5h1.1v1.1h-1.1zM379.6 98.0h1.1v1.1h-1.1zM378.4 139.9h1.1v1.1h-1.1zM373.5 119.0h1.1v1.1h-1.1zM374.4 140.6h1.1v1.1h-1.1zM379.2 97.4h1.1v1.1h-1.1zM372.1 115.5h1.1v1.1h-1.1zM372.6 134.4h1.1v1.1h-1.1zM375.0 139.6h1.1v1.1h-1.1zM372.8 131.0h1.1v1.1h-1.1zM372.6 110.3h1.1v1.1h-1.1zM379.7 109.8h1.1v1.1h-1.1zM379.3 133.4h1.1v1.1h-1.1zM380.4 107.4h1.1v1.1h-1.1zM381.4 117.3h1.1v1.1h-1.1zM379.4 106.5h1.1v1.1h-1.1zM380.5 126.9h1.1v1.1h-1.1zM379.6 108.5h1.1v1.1h-1.1zM377.9 102.7h1.1v1.1h-1.1zM380.6 131.2h1.1v1.1h-1.1zM381.6 109.2h1.1v1.1h-1.1zM373.8 139.5h1.1v1.1h-1.1zM374.5 129.8h1.1v1.1h-1.1zM372.4 138.3h1.1v1.1h-1.1zM375.4 142.4h1.1v1.1h-1.1zM380.6 122.1h1.1v1.1h-1.1zM377.8 142.2h1.1v1.1h-1.1zM379.1 108.1h1.1v1.1h-1.1zM377.3 102.9h1.1v1.1h-1.1zM374.6 139.7h1.1v1.1h-1.1zM380.9 117.5h1.1v1.1h-1.1zM377.9 135.8h1.1v1.1h-1.1zM377.7 98.1h1.1v1.1h-1.1zM373.9 128.8h1.1v1.1h-1.1zM373.2 137.9h1.1v1.1h-1.1zM377.3 134.8h1.1v1.1h-1.1zM381.7 125.4h1.1v1.1h-1.1zM378.0 100.1h1.1v1.1h-1.1zM381.6 138.7h1.1v1.1h-1.1zM377.1 101.3h1.1v1.1h-1.1zM381.5 128.2h1.1v1.1h-1.1zM379.0 134.2h1.1v1.1h-1.1zM376.7 104.9h1.1v1.1h-1.1z"/>
<path fill="#18a838" d="M378.2 120.5h1.1v1.1h-1.1zM376.6 121.3h1.1v1.1h-1.1zM375.9 125.7h1.1v1.1h-1.1zM378.1 123.0h1.1v1.1h-1.1zM376.3 123.9h1.1v1.1h-1.1zM377.0 117.1h1.1v1.1h-1.1zM377.7 118.4h1.1v1.1h-1.1zM377.2 116.5h1.1v1.1h-1.1zM376.7 124.5h1.1v1.1h-1.1zM377.2 118.7h1.1v1.1h-1.1zM376.8 125.7h1.1v1.1h-1.1zM376.3 115.6h1.1v1.1h-1.1zM376.3 123.5h1.1v1.1h-1.1zM378.1 122.3h1.1v1.1h-1.1zM378.1 119.2h1.1v1.1h-1.1zM376.8 121.2h1.1v1.1h-1.1zM376.9 123.7h1.1v1.1h-1.1zM376.8 126.0h1.1v1.1h-1.1zM377.0 119.1h1.1v1.1h-1.1zM376.6 126.4h1.1v1.1h-1.1zM375.5 121.3h1.1v1.1h-1.1zM377.3 119.1h1.1v1.1h-1.1zM377.6 119.0h1.1v1.1h-1.1zM375.9 121.7h1.1v1.1h-1.1zM377.9 118.9h1.1v1.1h-1.1z"/>
<path fill="#7040f0" d="M376.0 116.7h1.1v1.1h-1.1zM377.4 129.4h1.1v1.1h-1.1zM378.8 120.3h1.1v1.1h-1.1zM377.5 112.4h1.1v1.1h-1.1zM378.4 124.6h1.1v1.1h-1.1zM376.7 114.3h1.1v1.1h-1.1zM375.7 126.9h1.1v1.1h-1.1zM377.1 131.4h1.1v1.1h-1.1zM376.0 124.6h1.1v1.1h-1.1zM378.0 124.7h1.1v1.1h-1.1zM375.3 122.0h1.1v1.1h-1.1zM377.9 114.5h1.1v1.1h-1.1zM375.9 127.3h1.1v1.1h-1.1zM375.0 120.5h1.1v1.1h-1.1zM378.3 117.2h1.1v1.1h-1.1zM378.9 125.3h1.1v1.1h-1.1zM377.0 114.1h1.1v1.1h-1.1zM379.3 113.6h1.1v1.1h-1.1zM378.7 122.8h1.1v1.1h-1.1zM374.9 128.7h1.1v1.1h-1.1zM378.6 117.8h1.1v1.1h-1.1zM376.5 111.5h1.1v1.1h-1.1zM376.0 116.4h1.1v1.1h-1.1zM379.4 120.7h1.1v1.1h-1.1zM375.5 123.1h1.1v1.1h-1.1zM378.3 124.1h1.1v1.1h-1.1zM378.3 119.5h1.1v1.1h-1.1zM376.3 130.5h1.1v1.1h-1.1zM378.5 122.1h1.1v1.1h-1.1zM378.1 114.8h1.1v1.1h-1.1zM378.3 118.0h1.1v1.1h-1.1zM376.5 126.6h1.1v1.1h-1.1zM378.3 113.4h1.1v1.1h-1.1zM379.4 113.7h1.1v1.1h-1.1zM377.2 129.6h1.1v1.1h-1.1zM378.9 125.5h1.1v1.1h-1.1zM379.1 120.1h1.1v1.1h-1.1zM375.9 127.0h1.1v1.1h-1.1zM375.2 115.4h1.1v1.1h-1.1zM375.8 117.5h1.1v1.1h-1.1zM375.1 117.2h1.1v1.1h-1.1zM378.7 112.9h1.1v1.1h-1.1zM375.6 126.7h1.1v1.1h-1.1zM374.6 126.1h1.1v1.1h-1.1zM378.2 135.6h1.1v1.1h-1.1zM379.0 123.6h1.1v1.1h-1.1z"/>
<path fill="#20b040" d="M378.5 124.7h1.1v1.1h-1.1zM378.6 120.1h1.1v1.1h-1.1zM377.3 117.9h1.1v1.1h-1.1zM376.7 122.0h1.1v1.1h-1.1zM376.8 124.7h1.1v1.1h-1.1zM376.8 119.1h1.1v1.1h-1.1zM377.5 120.1h1.1v1.1h-1.1zM377.7 119.0h1.1v1.1h-1.1zM376.0 122.4h1.1v1.1h-1.1zM377.7 123.4h1.1v1.1h-1.1zM376.6 125.5h1.1v1.1h-1.1zM376.1 121.2h1.1v1.1h-1.1zM378.3 125.8h1.1v1.1h-1.1zM376.5 125.4h1.1v1.1h-1.1zM376.3 120.7h1.1v1.1h-1.1zM377.0 121.9h1.1v1.1h-1.1zM377.1 118.2h1.1v1.1h-1.1zM376.6 123.8h1.1v1.1h-1.1zM375.9 120.0h1.1v1.1h-1.1zM376.2 120.3h1.1v1.1h-1.1zM376.3 122.8h1.1v1.1h-1.1zM377.3 121.2h1.1v1.1h-1.1zM376.3 119.1h1.1v1.1h-1.1zM377.6 119.3h1.1v1.1h-1.1zM377.6 119.6h1.1v1.1h-1.1zM375.7 122.7h1.1v1.1h-1.1zM376.1 120.8h1.1v1.1h-1.1zM377.5 117.7h1.1v1.1h-1.1zM376.6 122.7h1.1v1.1h-1.1zM376.4 125.3h1.1v1.1h-1.1zM377.3 125.1h1.1v1.1h-1.1zM378.6 120.0h1.1v1.1h-1.1zM378.4 124.4h1.1v1.1h-1.1zM377.4 123.4h1.1v1.1h-1.1z"/>
<path fill="#10a050" d="M377.8 127.2h1.1v1.1h-1.1zM377.4 126.1h1.1v1.1h-1.1zM376.4 122.4h1.1v1.1h-1.1zM376.8 116.6h1.1v1.1h-1.1zM377.8 124.5h1.1v1.1h-1.1zM377.2 117.3h1.1v1.1h-1.1zM376.5 118.5h1.1v1.1h-1.1zM377.5 122.1h1.1v1.1h-1.1zM377.7 118.1h1.1v1.1h-1.1zM375.8 116.6h1.1v1.1h-1.1zM376.9 120.4h1.1v1.1h-1.1zM376.5 118.4h1.1v1.1h-1.1zM377.5 121.2h1.1v1.1h-1.1zM375.6 123.5h1.1v1.1h-1.1zM377.0 118.5h1.1v1.1h-1.1zM377.5 119.5h1.1v1.1h-1.1zM377.8 118.6h1.1v1.1h-1.1zM376.9 117.7h1.1v1.1h-1.1zM377.4 122.6h1.1v1.1h-1.1zM376.6 117.1h1.1v1.1h-1.1zM377.0 121.1h1.1v1.1h-1.1zM377.4 118.5h1.1v1.1h-1.1zM377.0 118.0h1.1v1.1h-1.1zM376.4 125.5h1.1v1.1h-1.1z"/>
<path fill="#3050f0" d="M378.0 113.6h1.1v1.1h-1.1zM377.3 134.5h1.1v1.1h-1.1zM376.7 130.1h1.1v1.1h-1.1zM375.9 127.9h1.1v1.1h-1.1zM375.3 124.3h1.1v1.1h-1.1zM375.6 115.2h1.1v1.1h-1.1zM377.4 129.0h1.1v1.1h-1.1zM377.4 115.8h1.1v1.1h-1.1zM377.5 128.3h1.1v1.1h-1.1zM376.8 127.5h1.1v1.1h-1.1zM379.6 125.3h1.1v1.1h-1.1zM375.9 118.0h1.1v1.1h-1.1zM376.0 111.0h1.1v1.1h-1.1zM377.2 130.2h1.1v1.1h-1.1zM377.0 131.8h1.1v1.1h-1.1zM375.9 115.6h1.1v1.1h-1.1zM378.1 123.6h1.1v1.1h-1.1zM378.2 117.5h1.1v1.1h-1.1zM376.3 134.9h1.1v1.1h-1.1zM375.7 111.4h1.1v1.1h-1.1zM378.1 127.9h1.1v1.1h-1.1zM377.5 115.9h1.1v1.1h-1.1zM378.3 120.7h1.1v1.1h-1.1zM376.7 129.6h1.1v1.1h-1.1zM376.2 113.1h1.1v1.1h-1.1zM375.5 118.9h1.1v1.1h-1.1zM378.4 127.5h1.1v1.1h-1.1zM376.3 127.5h1.1v1.1h-1.1zM380.0 116.4h1.1v1.1h-1.1zM376.0 124.2h1.1v1.1h-1.1zM376.6 129.8h1.1v1.1h-1.1zM379.0 118.1h1.1v1.1h-1.1zM378.9 124.5h1.1v1.1h-1.1zM378.5 125.6h1.1v1.1h-1.1zM376.7 127.5h1.1v1.1h-1.1zM378.0 126.6h1.1v1.1h-1.1zM379.4 124.1h1.1v1.1h-1.1zM375.6 120.5h1.1v1.1h-1.1zM375.1 127.7h1.1v1.1h-1.1zM377.5 128.5h1.1v1.1h-1.1zM379.0 126.0h1.1v1.1h-1.1zM375.9 111.3h1.1v1.1h-1.1zM375.8 114.7h1.1v1.1h-1.1zM378.3 125.0h1.1v1.1h-1.1zM378.5 125.9h1.1v1.1h-1.1zM376.0 128.3h1.1v1.1h-1.1z"/>
<path fill="#40b0a0" d="M377.3 126.5h1.1v1.1h-1.1zM377.9 116.6h1.1v1.1h-1.1zM376.0 120.4h1.1v1.1h-1.1zM377.5 124.2h1.1v1.1h-1.1zM377.1 118.5h1.1v1.1h-1.1zM376.7 121.2h1.1v1.1h-1.1zM376.5 119.2h1.1v1.1h-1.1zM376.3 120.7h1.1v1.1h-1.1zM376.5 127.6h1.1v1.1h-1.1zM376.3 116.6h1.1v1.1h-1.1zM376.8 117.5h1.1v1.1h-1.1zM377.2 122.5h1.1v1.1h-1.1zM377.8 123.3h1.1v1.1h-1.1zM375.9 120.5h1.1v1.1h-1.1zM376.3 122.6h1.1v1.1h-1.1zM376.6 127.1h1.1v1.1h-1.1zM377.3 127.0h1.1v1.1h-1.1zM378.2 123.5h1.1v1.1h-1.1zM377.1 119.0h1.1v1.1h-1.1zM376.4 124.7h1.1v1.1h-1.1zM376.4 121.2h1.1v1.1h-1.1zM378.0 120.6h1.1v1.1h-1.1zM376.1 123.3h1.1v1.1h-1.1zM376.7 121.4h1.1v1.1h-1.1zM377.8 123.6h1.1v1.1h-1.1zM377.3 123.4h1.1v1.1h-1.1zM377.5 127.0h1.1v1.1h-1.1zM376.6 120.1h1.1v1.1h-1.1zM377.4 122.2h1.1v1.1h-1.1zM377.2 123.9h1.1v1.1h-1.1z"/>
<path fill="#e050e8" d="M378.7 109.8h1.1v1.1h-1.1zM379.8 139.5h1.1v1.1h-1.1zM378.3 106.2h1.1v1.1h-1.1zM381.5 112.2h1.1v1.1h-1.1zM382.8 126.6h1.1v1.1h-1.1zM377.9 136.8h1.1v1.1h-1.1zM381.5 133.9h1.1v1.1h-1.1zM378.6 101.0h1.1v1.1h-1.1zM374.2 132.5h1.1v1.1h-1.1zM376.7 102.4h1.1v1.1h-1.1zM381.4 118.8h1.1v1.1h-1.1zM379.0 98.2h1.1v1.1h-1.1zM377.3 99.2h1.1v1.1h-1.1zM377.3 99.4h1.1v1.1h-1.1zM374.5 139.1h1.1v1.1h-1.1zM379.8 132.9h1.1v1.1h-1.1zM378.8 139.3h1.1v1.1h-1.1zM377.7 107.9h1.1v1.1h-1.1zM380.8 131.2h1.1v1.1h-1.1zM379.3 110.1h1.1v1.1h-1.1zM377.3 104.2h1.1v1.1h-1.1zM376.6 100.0h1.1v1.1h-1.1zM381.0 113.4h1.1v1.1h-1.1zM378.4 98.7h1.1v1.1h-1.1zM381.0 131.2h1.1v1.1h-1.1zM371.8 120.9h1.1v1.1h-1.1zM378.2 139.0h1.1v1.1h-1.1zM374.6 137.0h1.1v1.1h-1.1zM379.6 137.0h1.1v1.1h-1.1zM380.0 131.5h1.1v1.1h-1.1zM374.2 141.9h1.1v1.1h-1.1zM380.5 105.7h1.1v1.1h-1.1zM375.7 138.7h1.1v1.1h-1.1zM379.8 105.7h1.1v1.1h-1.1zM378.6 106.5h1.1v1.1h-1.1zM378.1 99.1h1.1v1.1h-1.1zM379.8 111.2h1.1v1.1h-1.1zM379.9 103.1h1.1v1.1h-1.1zM380.4 111.2h1.1v1.1h-1.1zM376.6 102.8h1.1v1.1h-1.1zM378.3 106.8h1.1v1.1h-1.1zM375.2 139.4h1.1v1.1h-1.1zM374.4 138.5h1.1v1.1h-1.1zM375.3 139.3h1.1v1.1h-1.1zM376.7 142.2h1.1v1.1h-1.1zM379.6 138.1h1.1v1.1h-1.1zM382.6 138.9h1.1v1.1h-1.1zM371.9 130.6h1.1v1.1h-1.1zM381.5 133.5h1.1v1.1h-1.1zM374.7 130.2h1.1v1.1h-1.1zM378.1 107.0h1.1v1.1h-1.1zM373.9 110.1h1.1v1.1h-1.1zM375.9 139.1h1.1v1.1h-1.1zM376.9 96.8h1.1v1.1h-1.1zM382.8 120.9h1.1v1.1h-1.1zM371.1 109.7h1.1v1.1h-1.1zM380.3 134.4h1.1v1.1h-1.1zM378.8 104.3h1.1v1.1h-1.1zM379.2 103.3h1.1v1.1h-1.1zM378.0 105.3h1.1v1.1h-1.1zM373.9 128.4h1.1v1.1h-1.1zM380.4 126.5h1.1v1.1h-1.1zM374.6 109.3h1.1v1.1h-1.1zM381.7 123.6h1.1v1.1h-1.1zM380.4 125.5h1.1v1.1h-1.1zM380.6 108.6h1.1v1.1h-1.1zM380.9 105.7h1.1v1.1h-1.1zM375.8 142.8h1.1v1.1h-1.1zM377.0 135.0h1.1v1.1h-1.1zM373.1 121.7h1.1v1.1h-1.1zM378.5 138.1h1.1v1.1h-1.1zM380.4 126.0h1.1v1.1h-1.1zM374.0 107.2h1.1v1.1h-1.1zM378.7 101.1h1.1v1.1h-1.1zM376.5 138.7h1.1v1.1h-1.1zM380.1 111.5h1.1v1.1h-1.1zM383.1 127.3h1.1v1.1h-1.1zM381.5 118.0h1.1v1.1h-1.1zM380.7 105.7h1.1v1.1h-1.1zM374.7 102.2h1.1v1.1h-1.1zM378.6 108.3h1.1v1.1h-1.1zM372.1 127.3h1.1v1.1h-1.1zM373.5 128.6h1.1v1.1h-1.1zM376.0 137.3h1.1v1.1h-1.1zM374.0 121.5h1.1v1.1h-1.1zM380.2 106.8h1.1v1.1h-1.1zM377.9 103.7h1.1v1.1h-1.1zM378.4 100.1h1.1v1.1h-1.1zM380.1 132.8h1.1v1.1h-1.1zM378.6 98.0h1.1v1.1h-1.1zM378.3 137.6h1.1v1.1h-1.1zM376.3 103.0h1.1v1.1h-1.1zM373.7 115.4h1.1v1.1h-1.1zM379.9 100.8h1.1v1.1h-1.1zM375.4 109.0h1.1v1.1h-1.1zM375.0 133.8h1.1v1.1h-1.1zM377.8 98.0h1.1v1.1h-1.1zM381.6 120.9h1.1v1.1h-1.1zM376.0 108.5h1.1v1.1h-1.1zM377.7 141.5h1.1v1.1h-1.1zM373.5 124.5h1.1v1.1h-1.1z"/>
<path fill="#30a860" d="M376.3 120.7h1.1v1.1h-1.1zM377.9 120.4h1.1v1.1h-1.1zM377.0 126.2h1.1v1.1h-1.1zM377.5 122.0h1.1v1.1h-1.1zM376.3 122.4h1.1v1.1h-1.1zM378.3 122.6h1.1v1.1h-1.1zM376.8 121.0h1.1v1.1h-1.1zM377.8 120.8h1.1v1.1h-1.1zM377.8 119.9h1.1v1.1h-1.1zM377.3 122.6h1.1v1.1h-1.1zM376.3 116.5h1.1v1.1h-1.1zM377.5 118.1h1.1v1.1h-1.1zM377.4 124.1h1.1v1.1h-1.1zM378.0 116.9h1.1v1.1h-1.1zM375.7 118.3h1.1v1.1h-1.1zM377.1 126.4h1.1v1.1h-1.1zM376.4 119.8h1.1v1.1h-1.1zM377.9 124.5h1.1v1.1h-1.1zM376.7 120.9h1.1v1.1h-1.1zM376.7 116.6h1.1v1.1h-1.1zM377.5 122.8h1.1v1.1h-1.1zM377.8 127.6h1.1v1.1h-1.1zM376.0 119.4h1.1v1.1h-1.1zM377.6 123.1h1.1v1.1h-1.1zM377.2 124.5h1.1v1.1h-1.1zM376.7 119.6h1.1v1.1h-1.1zM376.9 126.2h1.1v1.1h-1.1z"/>
<path fill="#10a860" d="M376.7 126.9h1.1v1.1h-1.1zM377.5 116.4h1.1v1.1h-1.1zM378.8 121.9h1.1v1.1h-1.1zM375.9 133.5h1.1v1.1h-1.1zM377.0 128.5h1.1v1.1h-1.1zM378.6 111.7h1.1v1.1h-1.1zM378.4 125.0h1.1v1.1h-1.1zM375.6 125.2h1.1v1.1h-1.1zM374.9 119.6h1.1v1.1h-1.1zM377.3 126.7h1.1v1.1h-1.1zM375.9 117.9h1.1v1.1h-1.1zM376.1 129.6h1.1v1.1h-1.1zM375.7 132.9h1.1v1.1h-1.1zM376.8 130.0h1.1v1.1h-1.1zM378.2 110.2h1.1v1.1h-1.1zM377.7 111.9h1.1v1.1h-1.1zM378.8 127.6h1.1v1.1h-1.1zM379.1 128.4h1.1v1.1h-1.1zM376.4 113.2h1.1v1.1h-1.1zM374.9 126.5h1.1v1.1h-1.1zM377.2 112.8h1.1v1.1h-1.1zM377.1 109.3h1.1v1.1h-1.1zM378.6 117.4h1.1v1.1h-1.1zM377.5 134.0h1.1v1.1h-1.1zM378.2 122.4h1.1v1.1h-1.1zM377.2 112.1h1.1v1.1h-1.1zM376.3 128.6h1.1v1.1h-1.1zM376.5 111.6h1.1v1.1h-1.1zM378.5 127.7h1.1v1.1h-1.1zM375.9 126.8h1.1v1.1h-1.1zM375.5 119.0h1.1v1.1h-1.1zM378.3 129.2h1.1v1.1h-1.1zM378.7 115.9h1.1v1.1h-1.1zM376.8 129.7h1.1v1.1h-1.1zM377.0 115.0h1.1v1.1h-1.1zM375.8 114.5h1.1v1.1h-1.1zM379.0 120.7h1.1v1.1h-1.1zM377.8 112.5h1.1v1.1h-1.1zM379.2 118.3h1.1v1.1h-1.1zM375.2 114.2h1.1v1.1h-1.1zM375.6 122.9h1.1v1.1h-1.1zM377.7 114.8h1.1v1.1h-1.1zM378.1 119.3h1.1v1.1h-1.1zM376.2 108.1h1.1v1.1h-1.1zM378.6 117.1h1.1v1.1h-1.1zM378.5 129.5h1.1v1.1h-1.1zM378.5 115.8h1.1v1.1h-1.1zM378.1 129.6h1.1v1.1h-1.1zM376.3 111.6h1.1v1.1h-1.1zM378.5 125.3h1.1v1.1h-1.1zM376.2 113.9h1.1v1.1h-1.1zM377.3 131.0h1.1v1.1h-1.1z"/>
<path fill="#10b8c8" d="M376.8 129.0h1.1v1.1h-1.1zM377.5 129.6h1.1v1.1h-1.1zM378.7 128.9h1.1v1.1h-1.1zM378.4 124.3h1.1v1.1h-1.1zM375.5 123.6h1.1v1.1h-1.1zM376.4 114.2h1.1v1.1h-1.1zM379.1 130.8h1.1v1.1h-1.1zM376.8 131.7h1.1v1.1h-1.1zM379.3 115.3h1.1v1.1h-1.1zM375.5 123.0h1.1v1.1h-1.1zM376.4 127.2h1.1v1.1h-1.1zM376.9 114.9h1.1v1.1h-1.1zM375.8 114.1h1.1v1.1h-1.1zM377.6 127.7h1.1v1.1h-1.1zM378.5 129.7h1.1v1.1h-1.1zM377.9 115.8h1.1v1.1h-1.1zM377.1 130.2h1.1v1.1h-1.1zM375.7 126.9h1.1v1.1h-1.1zM378.4 114.9h1.1v1.1h-1.1zM378.9 121.4h1.1v1.1h-1.1zM378.8 124.0h1.1v1.1h-1.1zM374.8 117.4h1.1v1.1h-1.1zM378.7 126.0h1.1v1.1h-1.1zM378.9 120.2h1.1v1.1h-1.1zM375.9 115.1h1.1v1.1h-1.1zM376.3 128.4h1.1v1.1h-1.1zM379.8 122.8h1.1v1.1h-1.1zM377.8 114.6h1.1v1.1h-1.1zM375.8 120.0h1.1v1.1h-1.1zM378.4 127.6h1.1v1.1h-1.1zM375.7 124.0h1.1v1.1h-1.1zM377.0 128.7h1.1v1.1h-1.1zM377.4 112.4h1.1v1.1h-1.1zM375.4 120.0h1.1v1.1h-1.1zM379.0 123.3h1.1v1.1h-1.1zM375.8 129.0h1.1v1.1h-1.1zM380.2 121.9h1.1v1.1h-1.1zM375.2 124.3h1.1v1.1h-1.1zM377.3 113.9h1.1v1.1h-1.1zM379.4 118.3h1.1v1.1h-1.1zM374.5 120.5h1.1v1.1h-1.1zM376.2 114.3h1.1v1.1h-1.1zM377.3 130.6h1.1v1.1h-1.1z"/>
<path fill="#a030f0" d="M376.8 108.7h1.1v1.1h-1.1zM379.6 131.8h1.1v1.1h-1.1zM379.7 123.9h1.1v1.1h-1.1zM378.8 128.6h1.1v1.1h-1.1zM374.6 127.8h1.1v1.1h-1.1zM379.2 131.9h1.1v1.1h-1.1zM376.3 132.6h1.1v1.1h-1.1zM378.7 132.5h1.1v1.1h-1.1zM379.3 113.3h1.1v1.1h-1.1zM376.8 109.2h1.1v1.1h-1.1zM380.8 121.3h1.1v1.1h-1.1zM378.9 127.5h1.1v1.1h-1.1zM377.8 132.9h1.1v1.1h-1.1zM377.5 133.7h1.1v1.1h-1.1zM375.4 114.9h1.1v1.1h-1.1zM376.4 137.0h1.1v1.1h-1.1zM374.4 121.4h1.1v1.1h-1.1zM377.8 135.2h1.1v1.1h-1.1zM374.7 135.7h1.1v1.1h-1.1zM375.5 113.1h1.1v1.1h-1.1zM378.4 129.7h1.1v1.1h-1.1zM379.5 115.5h1.1v1.1h-1.1zM374.9 119.0h1.1v1.1h-1.1zM378.8 128.6h1.1v1.1h-1.1zM380.3 125.0h1.1v1.1h-1.1zM378.9 127.7h1.1v1.1h-1.1zM374.9 131.6h1.1v1.1h-1.1zM378.2 129.7h1.1v1.1h-1.1zM379.6 116.8h1.1v1.1h-1.1zM374.7 130.9h1.1v1.1h-1.1zM375.0 130.0h1.1v1.1h-1.1zM373.7 124.8h1.1v1.1h-1.1zM375.9 132.2h1.1v1.1h-1.1zM374.8 113.3h1.1v1.1h-1.1zM379.7 121.1h1.1v1.1h-1.1zM375.0 114.5h1.1v1.1h-1.1zM377.5 111.0h1.1v1.1h-1.1zM379.7 114.7h1.1v1.1h-1.1zM379.5 134.8h1.1v1.1h-1.1zM373.3 124.3h1.1v1.1h-1.1zM377.6 109.9h1.1v1.1h-1.1zM380.2 113.4h1.1v1.1h-1.1zM377.3 137.3h1.1v1.1h-1.1zM374.4 109.3h1.1v1.1h-1.1zM374.1 123.8h1.1v1.1h-1.1zM375.5 111.9h1.1v1.1h-1.1zM377.4 110.1h1.1v1.1h-1.1zM376.7 132.4h1.1v1.1h-1.1zM379.4 119.2h1.1v1.1h-1.1zM373.8 128.2h1.1v1.1h-1.1zM374.7 137.9h1.1v1.1h-1.1z"/>
<path fill="#c09020" d="M376.3 119.6h1.1v1.1h-1.1zM376.8 121.7h1.1v1.1h-1.1zM376.6 117.6h1.1v1.1h-1.1zM376.3 125.5h1.1v1.1h-1.1zM376.6 119.4h1.1v1.1h-1.1zM377.2 117.5h1.1v1.1h-1.1zM377.0 119.3h1.1v1.1h-1.1zM376.1 119.9h1.1v1.1h-1.1zM378.2 122.7h1.1v1.1h-1.1zM377.3 122.0h1.1v1.1h-1.1zM376.9 125.9h1.1v1.1h-1.1zM377.2 127.1h1.1v1.1h-1.1zM377.9 123.7h1.1v1.1h-1.1zM378.0 119.7h1.1v1.1h-1.1zM376.6 117.2h1.1v1.1h-1.1zM378.2 120.5h1.1v1.1h-1.1zM376.5 116.3h1.1v1.1h-1.1z"/>
<line x1="363.5" y1="37.5" x2="363.5" y2="144.5" stroke="#383838" stroke-width="1.0" />
<line x1="293.5" y1="107.5" x2="401.5" y2="107.5" stroke="#383838" stroke-width="1.0" />
<line x1="293.5" y1="37.5" x2="401.5" y2="37.5" stroke="#a0a0a0" stroke-width="0.7" />
<line x1="401.5" y1="37.5" x2="401.5" y2="144.5" stroke="#707070" stroke-width="0.9" />
<line x1="293.5" y1="37.5" x2="293.5" y2="46.6" stroke="#a0a0a0" stroke-width="0.7" />
<line x1="293.5" y1="46.6" x2="293.5" y2="144.5" stroke="#707070" stroke-width="1.0" />
<line x1="293.5" y1="144.5" x2="401.5" y2="144.5" stroke="#707070" stroke-width="1.0" />
<rect x="293.5" y="37.5" width="67.5" height="9.0" fill="#fff" stroke="#b0b0b0" stroke-width="0.6" fill-opacity="0.3"/>
<text x="294.4" y="43.9" font-size="5.7" font-weight="normal" text-anchor="start" fill="#111" font-family='"DejaVu Sans", "Liberation Sans", Arial, sans-serif' textLength="66.3" lengthAdjust="spacingAndGlyphs" stroke="#111" stroke-width="0.12">Non-Classical Monocytes</text>
<rect x="363.5" y="37.5" width="36.5" height="15.0" fill="#fff" stroke="#b0b0b0" stroke-width="0.6" fill-opacity="0.3"/>
<text x="364.4" y="43.9" font-size="5.7" font-weight="normal" text-anchor="start" fill="#111" font-family='"DejaVu Sans", "Liberation Sans", Arial, sans-serif' textLength="37.0" lengthAdjust="spacingAndGlyphs" stroke="#111" stroke-width="0.12">Intermediate</text>
<text x="364.4" y="51.6" font-size="5.7" font-weight="normal" text-anchor="start" fill="#111" font-family='"DejaVu Sans", "Liberation Sans", Arial, sans-serif' textLength="28.6" lengthAdjust="spacingAndGlyphs" stroke="#111" stroke-width="0.12">Monocytes</text>
<rect x="293.5" y="107.5" width="10.5" height="7.5" fill="#fff" stroke="#b0b0b0" stroke-width="0.6" fill-opacity="0.3"/>
<text x="295.0" y="113.5" font-size="5.2" font-weight="normal" text-anchor="start" fill="#333" font-family='"DejaVu Sans", "Liberation Sans", Arial, sans-serif' textLength="7.2" lengthAdjust="spacingAndGlyphs" >A··</text>
<rect x="366.6" y="125.9" width="30.2" height="16.1" fill="#fff" stroke="#b0b0b0" stroke-width="0.6" fill-opacity="0.3"/>
<text x="367.5" y="132.3" font-size="5.7" font-weight="normal" text-anchor="start" fill="#111" font-family='"DejaVu Sans", "Liberation Sans", Arial, sans-serif' textLength="24.0" lengthAdjust="spacingAndGlyphs" stroke="#111" stroke-width="0.12">Classical</text>
<text x="367.5" y="140.0" font-size="5.7" font-weight="normal" text-anchor="start" fill="#111" font-family='"DejaVu Sans", "Liberation Sans", Arial, sans-serif' textLength="29.0" lengthAdjust="spacingAndGlyphs" stroke="#111" stroke-width="0.12">Monocytes</text>
<text x="291.2" y="48.300000000000004" font-size="5.1" text-anchor="end" fill="#333" font-family='"DejaVu Sans", "Liberation Sans", Arial, sans-serif'>10<tspan dy="-2.0" font-size="3.3">5</tspan></text>
<line x1="291.5" y1="46.6" x2="293.5" y2="46.6" stroke="#555" stroke-width="0.8" />
<text x="291.2" y="71.9" font-size="5.1" text-anchor="end" fill="#333" font-family='"DejaVu Sans", "Liberation Sans", Arial, sans-serif'>10<tspan dy="-2.0" font-size="3.3">4</tspan></text>
<line x1="291.5" y1="70.2" x2="293.5" y2="70.2" stroke="#555" stroke-width="0.8" />
<text x="291.2" y="96.60000000000001" font-size="5.1" text-anchor="end" fill="#333" font-family='"DejaVu Sans", "Liberation Sans", Arial, sans-serif'>10<tspan dy="-2.0" font-size="3.3">3</tspan></text>
<line x1="291.5" y1="94.9" x2="293.5" y2="94.9" stroke="#555" stroke-width="0.8" />
<text x="289.9" y="132.0" font-size="5.6" font-weight="normal" text-anchor="end" fill="#333" font-family='"DejaVu Sans", "Liberation Sans", Arial, sans-serif' >0</text>
<line x1="291.5" y1="130.2" x2="293.5" y2="130.2" stroke="#555" stroke-width="0.8" />
<line x1="292.3" y1="62.93012560471486" x2="293.5" y2="62.93012560471486" stroke="#666" stroke-width="0.6" />
<line x1="292.3" y1="58.67752169852015" x2="293.5" y2="58.67752169852015" stroke="#666" stroke-width="0.6" />
<line x1="292.3" y1="55.66025120942971" x2="293.5" y2="55.66025120942971" stroke="#666" stroke-width="0.6" />
<line x1="292.3" y1="53.31987439528515" x2="293.5" y2="53.31987439528515" stroke="#666" stroke-width="0.6" />
<line x1="292.3" y1="51.40764730323501" x2="293.5" y2="51.40764730323501" stroke="#666" stroke-width="0.6" />
<line x1="292.3" y1="49.7908823336557" x2="293.5" y2="49.7908823336557" stroke="#666" stroke-width="0.6" />
<line x1="292.3" y1="48.39037681414456" x2="293.5" y2="48.39037681414456" stroke="#666" stroke-width="0.6" />
<line x1="292.3" y1="47.1550433970403" x2="293.5" y2="47.1550433970403" stroke="#666" stroke-width="0.6" />
<line x1="292.3" y1="87.63012560471486" x2="293.5" y2="87.63012560471486" stroke="#666" stroke-width="0.6" />
<line x1="292.3" y1="83.37752169852016" x2="293.5" y2="83.37752169852016" stroke="#666" stroke-width="0.6" />
<line x1="292.3" y1="80.36025120942972" x2="293.5" y2="80.36025120942972" stroke="#666" stroke-width="0.6" />
<line x1="292.3" y1="78.01987439528514" x2="293.5" y2="78.01987439528514" stroke="#666" stroke-width="0.6" />
<line x1="292.3" y1="76.10764730323501" x2="293.5" y2="76.10764730323501" stroke="#666" stroke-width="0.6" />
<line x1="292.3" y1="74.4908823336557" x2="293.5" y2="74.4908823336557" stroke="#666" stroke-width="0.6" />
<line x1="292.3" y1="73.09037681414456" x2="293.5" y2="73.09037681414456" stroke="#666" stroke-width="0.6" />
<line x1="292.3" y1="71.8550433970403" x2="293.5" y2="71.8550433970403" stroke="#666" stroke-width="0.6" />
<line x1="292.3" y1="102.315" x2="293.5" y2="102.315" stroke="#666" stroke-width="0.6" />
<line x1="292.3" y1="119.69999999999999" x2="293.5" y2="119.69999999999999" stroke="#666" stroke-width="0.6" />
<line x1="292.3" y1="135.79999999999998" x2="293.5" y2="135.79999999999998" stroke="#666" stroke-width="0.6" />
<line x1="292.3" y1="142.0" x2="293.5" y2="142.0" stroke="#666" stroke-width="0.6" />
<text x="314.4" y="152.6" font-size="5.6" font-weight="normal" text-anchor="middle" fill="#333" font-family='"DejaVu Sans", "Liberation Sans", Arial, sans-serif' >0</text>
<line x1="314.4" y1="144.5" x2="314.4" y2="146.5" stroke="#555" stroke-width="0.8" />
<text x="337.5" y="152.5" font-size="5.1" text-anchor="middle" fill="#333" font-family='"DejaVu Sans", "Liberation Sans", Arial, sans-serif'>10<tspan dy="-2.0" font-size="3.3">3</tspan></text>
<line x1="337.8" y1="144.5" x2="337.8" y2="146.5" stroke="#555" stroke-width="0.8" />
<text x="366.7" y="152.5" font-size="5.1" text-anchor="middle" fill="#333" font-family='"DejaVu Sans", "Liberation Sans", Arial, sans-serif'>10<tspan dy="-2.0" font-size="3.3">4</tspan></text>
<line x1="367.0" y1="144.5" x2="367.0" y2="146.5" stroke="#555" stroke-width="0.8" />
<text x="391.7" y="152.5" font-size="5.1" text-anchor="middle" fill="#333" font-family='"DejaVu Sans", "Liberation Sans", Arial, sans-serif'>10<tspan dy="-2.0" font-size="3.3">5</tspan></text>
<line x1="392.0" y1="144.5" x2="392.0" y2="146.5" stroke="#555" stroke-width="0.8" />
<line x1="345.3257498915995" y1="144.5" x2="345.3257498915995" y2="145.7" stroke="#777" stroke-width="0.6" />
<line x1="349.72803136799155" y1="144.5" x2="349.72803136799155" y2="145.7" stroke="#777" stroke-width="0.6" />
<line x1="352.8514997831991" y1="144.5" x2="352.8514997831991" y2="145.7" stroke="#777" stroke-width="0.6" />
<line x1="355.2742501084005" y1="144.5" x2="355.2742501084005" y2="145.7" stroke="#777" stroke-width="0.6" />
<line x1="357.2537812595911" y1="144.5" x2="357.2537812595911" y2="145.7" stroke="#777" stroke-width="0.6" />
<line x1="358.9274510003564" y1="144.5" x2="358.9274510003564" y2="145.7" stroke="#777" stroke-width="0.6" />
<line x1="360.3772496747986" y1="144.5" x2="360.3772496747986" y2="145.7" stroke="#777" stroke-width="0.6" />
<line x1="361.65606273598314" y1="144.5" x2="361.65606273598314" y2="145.7" stroke="#777" stroke-width="0.6" />
<line x1="374.5257498915995" y1="144.5" x2="374.5257498915995" y2="145.7" stroke="#777" stroke-width="0.6" />
<line x1="378.92803136799154" y1="144.5" x2="378.92803136799154" y2="145.7" stroke="#777" stroke-width="0.6" />
<line x1="382.05149978319906" y1="144.5" x2="382.05149978319906" y2="145.7" stroke="#777" stroke-width="0.6" />
<line x1="384.4742501084005" y1="144.5" x2="384.4742501084005" y2="145.7" stroke="#777" stroke-width="0.6" />
<line x1="386.4537812595911" y1="144.5" x2="386.4537812595911" y2="145.7" stroke="#777" stroke-width="0.6" />
<line x1="388.1274510003564" y1="144.5" x2="388.1274510003564" y2="145.7" stroke="#777" stroke-width="0.6" />
<line x1="389.57724967479857" y1="144.5" x2="389.57724967479857" y2="145.7" stroke="#777" stroke-width="0.6" />
<line x1="390.85606273598313" y1="144.5" x2="390.85606273598313" y2="145.7" stroke="#777" stroke-width="0.6" />
<line x1="304.9" y1="144.5" x2="304.9" y2="145.7" stroke="#777" stroke-width="0.6" />
<line x1="323.9" y1="144.5" x2="323.9" y2="145.7" stroke="#777" stroke-width="0.6" />
<text x="322.3" y="164.3" font-size="6.9" font-weight="normal" text-anchor="start" fill="#1a1a1a" font-family='"DejaVu Sans", "Liberation Sans", Arial, sans-serif' textLength="50.7" lengthAdjust="spacingAndGlyphs" stroke="#1a1a1a" stroke-width="0.35">CD14 PE-Cy7-A</text>
<text transform="translate(275.2,116.8) rotate(-90)" x="0" y="0" font-size="6.9" fill="#1a1a1a" stroke="#1a1a1a" stroke-width="0.35" font-family='"DejaVu Sans", "Liberation Sans", Arial, sans-serif' textLength="57.0" lengthAdjust="spacingAndGlyphs">CD16 APC-Cy7-A</text>
<text x="9.6" y="173.8" font-size="14" font-weight="bold" text-anchor="start" fill="#000" font-family='"Liberation Sans", Arial, sans-serif' >B</text>
<line x1="44.5" y1="203.9" x2="44.5" y2="296.7" stroke="#000" stroke-width="1.5" />
<line x1="43.75" y1="296" x2="182.8" y2="296" stroke="#000" stroke-width="1.5" />
<line x1="42.2" y1="204.5" x2="44.5" y2="204.5" stroke="#000" stroke-width="1.3" />
<text x="41.5" y="206.3" font-size="6.7" font-weight="bold" text-anchor="end" font-family='"Liberation Sans", Arial, sans-serif'>100</text>
<line x1="42.2" y1="227.375" x2="44.5" y2="227.375" stroke="#000" stroke-width="1.3" />
<text x="41.5" y="229.175" font-size="6.7" font-weight="bold" text-anchor="end" font-family='"Liberation Sans", Arial, sans-serif'>90</text>
<line x1="42.2" y1="250.25" x2="44.5" y2="250.25" stroke="#000" stroke-width="1.3" />
<text x="41.5" y="252.05" font-size="6.7" font-weight="bold" text-anchor="end" font-family='"Liberation Sans", Arial, sans-serif'>80</text>
<line x1="42.2" y1="273.125" x2="44.5" y2="273.125" stroke="#000" stroke-width="1.3" />
<text x="41.5" y="274.925" font-size="6.7" font-weight="bold" text-anchor="end" font-family='"Liberation Sans", Arial, sans-serif'>70</text>
<line x1="42.2" y1="296.0" x2="44.5" y2="296.0" stroke="#000" stroke-width="1.3" />
<text x="41.5" y="297.8" font-size="6.7" font-weight="bold" text-anchor="end" font-family='"Liberation Sans", Arial, sans-serif'>60</text>
<line x1="78.8" y1="296" x2="78.8" y2="298.3" stroke="#000" stroke-width="1.3" />
<line x1="147.8" y1="296" x2="147.8" y2="298.3" stroke="#000" stroke-width="1.3" />
<text transform="translate(80.8,303.4) rotate(-45)" x="0" y="0" font-size="6.8" font-weight="bold" text-anchor="end" font-family='"Liberation Sans", Arial, sans-serif' stroke="#000" stroke-width="0.2">basal</text>
<text transform="translate(149.8,303.4) rotate(-45)" x="0" y="0" font-size="6.8" font-weight="bold" text-anchor="end" font-family='"Liberation Sans", Arial, sans-serif' stroke="#000" stroke-width="0.2">160 min</text>
<text transform="translate(15.1,248.6) rotate(-90)" x="0" y="0" font-size="8.7" font-weight="bold" text-anchor="middle" font-family='"Liberation Sans", Arial, sans-serif'>Percent "Classical Monocytes"</text>
<text transform="translate(25.5,249.0) rotate(-90)" x="0" y="0" font-size="8.7" font-weight="bold" text-anchor="middle" font-family='"Liberation Sans", Arial, sans-serif'>of "All Monocytes"</text>
<path d="M79.3,216.2 L79.3,212.8 L149,212.8 L149,216.2" fill="none" stroke="#000" stroke-width="1.1"/>
<text x="103.9" y="209.8" font-size="6.6" font-family='"Liberation Sans", Arial, sans-serif' textLength="20.9" lengthAdjust="spacingAndGlyphs" fill="#111" stroke="#111" stroke-width="0.1"><tspan font-style="italic">p</tspan>=0.18</text>
<circle cx="84.1" cy="228.0" r="1.75" fill="#138a13"/>
<circle cx="73.6" cy="230.7" r="1.75" fill="#138a13"/>
<circle cx="78.6" cy="231.7" r="1.75" fill="#138a13"/>
<circle cx="73.6" cy="240.6" r="1.75" fill="#138a13"/>
<circle cx="83.9" cy="240.6" r="1.75" fill="#138a13"/>
<circle cx="79" cy="242.7" r="1.75" fill="#138a13"/>
<circle cx="65.8" cy="246" r="1.75" fill="#138a13"/>
<circle cx="91.6" cy="244.2" r="1.75" fill="#138a13"/>
<circle cx="71" cy="247.4" r="1.75" fill="#138a13"/>
<circle cx="86.5" cy="247" r="1.75" fill="#138a13"/>
<circle cx="73.3" cy="251.4" r="1.75" fill="#138a13"/>
<circle cx="83.8" cy="251.9" r="1.75" fill="#138a13"/>
<circle cx="78.6" cy="254.4" r="1.75" fill="#138a13"/>
<circle cx="71" cy="258.1" r="1.75" fill="#138a13"/>
<circle cx="76.2" cy="258.7" r="1.75" fill="#138a13"/>
<circle cx="86.5" cy="258.1" r="1.75" fill="#138a13"/>
<circle cx="81.3" cy="260.5" r="1.75" fill="#138a13"/>
<circle cx="81.3" cy="273.9" r="1.75" fill="#138a13"/>
<circle cx="76" cy="278.7" r="1.75" fill="#138a13"/>
<rect x="146.20" y="231.10" width="3.4" height="3.4" fill="#ff0000"/>
<rect x="141.00" y="234.70" width="3.4" height="3.4" fill="#ff0000"/>
<rect x="151.50" y="237.50" width="3.4" height="3.4" fill="#ff0000"/>
<rect x="146.00" y="238.40" width="3.4" height="3.4" fill="#ff0000"/>
<rect x="156.80" y="242.00" width="3.4" height="3.4" fill="#ff0000"/>
<rect x="135.70" y="244.30" width="3.4" height="3.4" fill="#ff0000"/>
<rect x="141.00" y="245.30" width="3.4" height="3.4" fill="#ff0000"/>
<rect x="151.50" y="245.30" width="3.4" height="3.4" fill="#ff0000"/>
<rect x="146.20" y="246.20" width="3.4" height="3.4" fill="#ff0000"/>
<rect x="154.20" y="248.00" width="3.4" height="3.4" fill="#ff0000"/>
<rect x="138.20" y="248.40" width="3.4" height="3.4" fill="#ff0000"/>
<rect x="148.70" y="248.90" width="3.4" height="3.4" fill="#ff0000"/>
<rect x="143.70" y="252.20" width="3.4" height="3.4" fill="#ff0000"/>
<rect x="151.50" y="254.10" width="3.4" height="3.4" fill="#ff0000"/>
<rect x="141.00" y="256.60" width="3.4" height="3.4" fill="#ff0000"/>
<rect x="146.00" y="257.30" width="3.4" height="3.4" fill="#ff0000"/>
<rect x="148.70" y="258.60" width="3.4" height="3.4" fill="#ff0000"/>
<rect x="143.50" y="263.70" width="3.4" height="3.4" fill="#ff0000"/>
<rect x="146.10" y="275.90" width="3.4" height="3.4" fill="#ff0000"/>
<rect x="146.10" y="285.60" width="3.4" height="3.4" fill="#ff0000"/>
<line x1="56.0" y1="249.5" x2="102.0" y2="249.5" stroke="#000" stroke-width="1.45" />
<line x1="67.6" y1="236.7" x2="90.4" y2="236.7" stroke="#000" stroke-width="1.45" />
<line x1="67.6" y1="262.8" x2="90.4" y2="262.8" stroke="#000" stroke-width="1.45" />
<line x1="79" y1="236.7" x2="79" y2="262.8" stroke="#000" stroke-width="1.45" />
<line x1="125.0" y1="252.2" x2="171.0" y2="252.2" stroke="#000" stroke-width="1.45" />
<line x1="136.45" y1="239.2" x2="159.55" y2="239.2" stroke="#000" stroke-width="1.45" />
<line x1="136.45" y1="265.8" x2="159.55" y2="265.8" stroke="#000" stroke-width="1.45" />
<line x1="148" y1="239.2" x2="148" y2="265.8" stroke="#000" stroke-width="1.45" />
<line x1="224.5" y1="203.8" x2="224.5" y2="297.3" stroke="#000" stroke-width="1.5" />
<line x1="223.75" y1="296.6" x2="364" y2="296.6" stroke="#000" stroke-width="1.5" />
<line x1="222.2" y1="204.4" x2="224.5" y2="204.4" stroke="#000" stroke-width="1.3" />
<text x="221.5" y="206.20000000000002" font-size="6.7" font-weight="bold" text-anchor="end" font-family='"Liberation Sans", Arial, sans-serif'>100</text>
<line x1="222.2" y1="222.82" x2="224.5" y2="222.82" stroke="#000" stroke-width="1.3" />
<text x="221.5" y="224.62" font-size="6.7" font-weight="bold" text-anchor="end" font-family='"Liberation Sans", Arial, sans-serif'>80</text>
<line x1="222.2" y1="241.24" x2="224.5" y2="241.24" stroke="#000" stroke-width="1.3" />
<text x="221.5" y="243.04000000000002" font-size="6.7" font-weight="bold" text-anchor="end" font-family='"Liberation Sans", Arial, sans-serif'>60</text>
<line x1="222.2" y1="259.65999999999997" x2="224.5" y2="259.65999999999997" stroke="#000" stroke-width="1.3" />
<text x="221.5" y="261.46" font-size="6.7" font-weight="bold" text-anchor="end" font-family='"Liberation Sans", Arial, sans-serif'>40</text>
<line x1="222.2" y1="278.08" x2="224.5" y2="278.08" stroke="#000" stroke-width="1.3" />
<text x="221.5" y="279.88" font-size="6.7" font-weight="bold" text-anchor="end" font-family='"Liberation Sans", Arial, sans-serif'>20</text>
<line x1="222.2" y1="296.5" x2="224.5" y2="296.5" stroke="#000" stroke-width="1.3" />
<text x="221.5" y="298.3" font-size="6.7" font-weight="bold" text-anchor="end" font-family='"Liberation Sans", Arial, sans-serif'>0</text>
<line x1="259.4" y1="296.6" x2="259.4" y2="298.90000000000003" stroke="#000" stroke-width="1.3" />
<line x1="328.2" y1="296.6" x2="328.2" y2="298.90000000000003" stroke="#000" stroke-width="1.3" />
<text transform="translate(261.4,304.0) rotate(-45)" x="0" y="0" font-size="6.8" font-weight="bold" text-anchor="end" font-family='"Liberation Sans", Arial, sans-serif' stroke="#000" stroke-width="0.2">basal</text>
<text transform="translate(330.2,304.0) rotate(-45)" x="0" y="0" font-size="6.8" font-weight="bold" text-anchor="end" font-family='"Liberation Sans", Arial, sans-serif' stroke="#000" stroke-width="0.2">160 min</text>
<text transform="translate(196.9,249.7) rotate(-90)" x="0" y="0" font-size="8.7" font-weight="bold" text-anchor="middle" font-family='"Liberation Sans", Arial, sans-serif'>Percent "Intermediate Monocytes"</text>
<text transform="translate(207.4,250.0) rotate(-90)" x="0" y="0" font-size="8.7" font-weight="bold" text-anchor="middle" font-family='"Liberation Sans", Arial, sans-serif'>of "All Monocytes"</text>
<path d="M261.8,266.8 L261.8,263.9 L331.3,263.9 L331.3,266.8" fill="none" stroke="#000" stroke-width="1.1"/>
<text x="284.7" y="261.0" font-size="6.6" font-family='"Liberation Sans", Arial, sans-serif' textLength="20.6" lengthAdjust="spacingAndGlyphs" fill="#111" stroke="#111" stroke-width="0.1"><tspan font-style="italic">p</tspan>=0.27</text>
<circle cx="259.4" cy="280.4" r="1.75" fill="#138a13"/>
<circle cx="243.8" cy="283.2" r="1.75" fill="#138a13"/>
<circle cx="275.2" cy="282.8" r="1.75" fill="#138a13"/>
<circle cx="269.7" cy="284.4" r="1.75" fill="#138a13"/>
<circle cx="249" cy="285.9" r="1.75" fill="#138a13"/>
<circle cx="255.1" cy="286.5" r="1.75" fill="#138a13"/>
<circle cx="264.2" cy="286.5" r="1.75" fill="#138a13"/>
<circle cx="238.4" cy="288.9" r="1.75" fill="#138a13"/>
<circle cx="280.3" cy="288.9" r="1.75" fill="#138a13"/>
<circle cx="276.4" cy="289.5" r="1.75" fill="#138a13"/>
<circle cx="242.3" cy="291.3" r="1.75" fill="#138a13"/>
<circle cx="246" cy="292" r="1.75" fill="#138a13"/>
<circle cx="272.8" cy="292" r="1.75" fill="#138a13"/>
<circle cx="253.3" cy="293.8" r="1.75" fill="#138a13"/>
<circle cx="257.5" cy="294" r="1.75" fill="#138a13"/>
<circle cx="261.8" cy="294" r="1.75" fill="#138a13"/>
<circle cx="250.2" cy="292.5" r="1.75" fill="#138a13"/>
<circle cx="266" cy="292.5" r="1.75" fill="#138a13"/>
<circle cx="259.4" cy="289.5" r="1.75" fill="#138a13"/>
<rect x="326.80" y="280.80" width="3.4" height="3.4" fill="#ff0000"/>
<rect x="306.70" y="283.80" width="3.4" height="3.4" fill="#ff0000"/>
<rect x="347.50" y="282.70" width="3.4" height="3.4" fill="#ff0000"/>
<rect x="311.80" y="284.80" width="3.4" height="3.4" fill="#ff0000"/>
<rect x="342.30" y="284.80" width="3.4" height="3.4" fill="#ff0000"/>
<rect x="305.50" y="288.70" width="3.4" height="3.4" fill="#ff0000"/>
<rect x="310.60" y="289.30" width="3.4" height="3.4" fill="#ff0000"/>
<rect x="315.70" y="289.30" width="3.4" height="3.4" fill="#ff0000"/>
<rect x="320.10" y="287.30" width="3.4" height="3.4" fill="#ff0000"/>
<rect x="325.20" y="287.30" width="3.4" height="3.4" fill="#ff0000"/>
<rect x="330.30" y="287.30" width="3.4" height="3.4" fill="#ff0000"/>
<rect x="334.10" y="287.30" width="3.4" height="3.4" fill="#ff0000"/>
<rect x="339.20" y="288.30" width="3.4" height="3.4" fill="#ff0000"/>
<rect x="344.30" y="288.30" width="3.4" height="3.4" fill="#ff0000"/>
<rect x="348.10" y="288.30" width="3.4" height="3.4" fill="#ff0000"/>
<rect x="324.60" y="293.10" width="3.4" height="3.4" fill="#ff0000"/>
<rect x="328.80" y="291.80" width="3.4" height="3.4" fill="#ff0000"/>
<rect x="321.10" y="290.30" width="3.4" height="3.4" fill="#ff0000"/>
<rect x="335.30" y="290.30" width="3.4" height="3.4" fill="#ff0000"/>
<line x1="236.79999999999998" y1="288.9" x2="282.0" y2="288.9" stroke="#000" stroke-width="1.45" />
<line x1="247.79999999999998" y1="284.9" x2="271.0" y2="284.9" stroke="#000" stroke-width="1.45" />
<line x1="247.79999999999998" y1="292.6" x2="271.0" y2="292.6" stroke="#000" stroke-width="1.45" />
<line x1="259.4" y1="284.9" x2="259.4" y2="292.6" stroke="#000" stroke-width="1.45" />
<line x1="305.3" y1="289.3" x2="351.7" y2="289.3" stroke="#000" stroke-width="1.45" />
<line x1="317.4" y1="286.3" x2="339.6" y2="286.3" stroke="#000" stroke-width="1.45" />
<line x1="317.4" y1="292.3" x2="339.6" y2="292.3" stroke="#000" stroke-width="1.45" />
<line x1="328.5" y1="286.3" x2="328.5" y2="292.3" stroke="#000" stroke-width="1.45" />
<line x1="404" y1="204.0" x2="404" y2="297.7" stroke="#000" stroke-width="1.5" />
<line x1="403.25" y1="297" x2="542.7" y2="297" stroke="#000" stroke-width="1.5" />
<line x1="401.7" y1="204.6" x2="404" y2="204.6" stroke="#000" stroke-width="1.3" />
<text x="401.0" y="206.4" font-size="6.7" font-weight="bold" text-anchor="end" font-family='"Liberation Sans", Arial, sans-serif'>100</text>
<line x1="401.7" y1="223.07999999999998" x2="404" y2="223.07999999999998" stroke="#000" stroke-width="1.3" />
<text x="401.0" y="224.88" font-size="6.7" font-weight="bold" text-anchor="end" font-family='"Liberation Sans", Arial, sans-serif'>80</text>
<line x1="401.7" y1="241.56" x2="404" y2="241.56" stroke="#000" stroke-width="1.3" />
<text x="401.0" y="243.36" font-size="6.7" font-weight="bold" text-anchor="end" font-family='"Liberation Sans", Arial, sans-serif'>60</text>
<line x1="401.7" y1="260.03999999999996" x2="404" y2="260.03999999999996" stroke="#000" stroke-width="1.3" />
<text x="401.0" y="261.84" font-size="6.7" font-weight="bold" text-anchor="end" font-family='"Liberation Sans", Arial, sans-serif'>40</text>
<line x1="401.7" y1="278.52" x2="404" y2="278.52" stroke="#000" stroke-width="1.3" />
<text x="401.0" y="280.32" font-size="6.7" font-weight="bold" text-anchor="end" font-family='"Liberation Sans", Arial, sans-serif'>20</text>
<line x1="401.7" y1="297.0" x2="404" y2="297.0" stroke="#000" stroke-width="1.3" />
<text x="401.0" y="298.8" font-size="6.7" font-weight="bold" text-anchor="end" font-family='"Liberation Sans", Arial, sans-serif'>0</text>
<line x1="438.8" y1="297" x2="438.8" y2="299.3" stroke="#000" stroke-width="1.3" />
<line x1="508.2" y1="297" x2="508.2" y2="299.3" stroke="#000" stroke-width="1.3" />
<text transform="translate(440.8,304.4) rotate(-45)" x="0" y="0" font-size="6.8" font-weight="bold" text-anchor="end" font-family='"Liberation Sans", Arial, sans-serif' stroke="#000" stroke-width="0.2">basal</text>
<text transform="translate(510.2,304.4) rotate(-45)" x="0" y="0" font-size="6.8" font-weight="bold" text-anchor="end" font-family='"Liberation Sans", Arial, sans-serif' stroke="#000" stroke-width="0.2">160 min</text>
<text transform="translate(376.9,249.9) rotate(-90)" x="0" y="0" font-size="8.7" font-weight="bold" text-anchor="middle" font-family='"Liberation Sans", Arial, sans-serif'>Percent "Non-Classical Monocytes"</text>
<text transform="translate(387.5,249.75) rotate(-90)" x="0" y="0" font-size="8.7" font-weight="bold" text-anchor="middle" font-family='"Liberation Sans", Arial, sans-serif'>of "All Monocytes"</text>
<path d="M440,271 L440,267.7 L510,267.7 L510,271" fill="none" stroke="#000" stroke-width="1.1"/>
<text x="464.5" y="264.5" font-size="6.6" font-family='"Liberation Sans", Arial, sans-serif' textLength="20.0" lengthAdjust="spacingAndGlyphs" fill="#111" stroke="#111" stroke-width="0.1"><tspan font-style="italic">p</tspan>=0.07</text>
<circle cx="438.8" cy="282.5" r="1.75" fill="#138a13"/>
<circle cx="418.2" cy="283.6" r="1.75" fill="#138a13"/>
<circle cx="459.3" cy="283.1" r="1.75" fill="#138a13"/>
<circle cx="422.8" cy="284.8" r="1.75" fill="#138a13"/>
<circle cx="455.5" cy="284.8" r="1.75" fill="#138a13"/>
<circle cx="430.4" cy="291.2" r="1.75" fill="#138a13"/>
<circle cx="435.7" cy="293.8" r="1.75" fill="#138a13"/>
<circle cx="441" cy="292.7" r="1.75" fill="#138a13"/>
<circle cx="424.6" cy="286" r="1.75" fill="#138a13"/>
<circle cx="430" cy="286.5" r="1.75" fill="#138a13"/>
<circle cx="445" cy="286.5" r="1.75" fill="#138a13"/>
<circle cx="450" cy="286" r="1.75" fill="#138a13"/>
<circle cx="434" cy="285.5" r="1.75" fill="#138a13"/>
<circle cx="427" cy="288.5" r="1.75" fill="#138a13"/>
<circle cx="447" cy="289" r="1.75" fill="#138a13"/>
<circle cx="416.5" cy="286.5" r="1.75" fill="#138a13"/>
<circle cx="461" cy="286.8" r="1.75" fill="#138a13"/>
<circle cx="438.8" cy="288.5" r="1.75" fill="#138a13"/>
<rect x="502.80" y="274.20" width="3.4" height="3.4" fill="#ff0000"/>
<rect x="508.30" y="274.20" width="3.4" height="3.4" fill="#ff0000"/>
<rect x="488.30" y="281.50" width="3.4" height="3.4" fill="#ff0000"/>
<rect x="526.50" y="279.70" width="3.4" height="3.4" fill="#ff0000"/>
<rect x="491.90" y="282.30" width="3.4" height="3.4" fill="#ff0000"/>
<rect x="497.30" y="281.30" width="3.4" height="3.4" fill="#ff0000"/>
<rect x="515.60" y="281.30" width="3.4" height="3.4" fill="#ff0000"/>
<rect x="521.00" y="281.30" width="3.4" height="3.4" fill="#ff0000"/>
<rect x="485.60" y="285.10" width="3.4" height="3.4" fill="#ff0000"/>
<rect x="491.00" y="286.90" width="3.4" height="3.4" fill="#ff0000"/>
<rect x="499.20" y="286.30" width="3.4" height="3.4" fill="#ff0000"/>
<rect x="512.80" y="286.30" width="3.4" height="3.4" fill="#ff0000"/>
<rect x="520.10" y="286.90" width="3.4" height="3.4" fill="#ff0000"/>
<rect x="526.50" y="284.80" width="3.4" height="3.4" fill="#ff0000"/>
<rect x="504.70" y="289.70" width="3.4" height="3.4" fill="#ff0000"/>
<rect x="511.90" y="289.70" width="3.4" height="3.4" fill="#ff0000"/>
<rect x="506.50" y="285.10" width="3.4" height="3.4" fill="#ff0000"/>
<rect x="500.10" y="288.80" width="3.4" height="3.4" fill="#ff0000"/>
<rect x="494.80" y="284.80" width="3.4" height="3.4" fill="#ff0000"/>
<rect x="516.80" y="284.80" width="3.4" height="3.4" fill="#ff0000"/>
<line x1="416.0" y1="287.1" x2="461.6" y2="287.1" stroke="#000" stroke-width="1.45" />
<line x1="427.40000000000003" y1="284.0" x2="450.2" y2="284.0" stroke="#000" stroke-width="1.45" />
<line x1="427.40000000000003" y1="289.7" x2="450.2" y2="289.7" stroke="#000" stroke-width="1.45" />
<line x1="438.8" y1="284.0" x2="438.8" y2="289.7" stroke="#000" stroke-width="1.45" />
<line x1="485.15" y1="285.2" x2="530.85" y2="285.2" stroke="#000" stroke-width="1.45" />
<line x1="497.15" y1="280.5" x2="518.85" y2="280.5" stroke="#000" stroke-width="1.45" />
<line x1="497.15" y1="289.5" x2="518.85" y2="289.5" stroke="#000" stroke-width="1.45" />
<line x1="508" y1="280.5" x2="508" y2="289.5" stroke="#000" stroke-width="1.45" />
</svg>
</body></html>
